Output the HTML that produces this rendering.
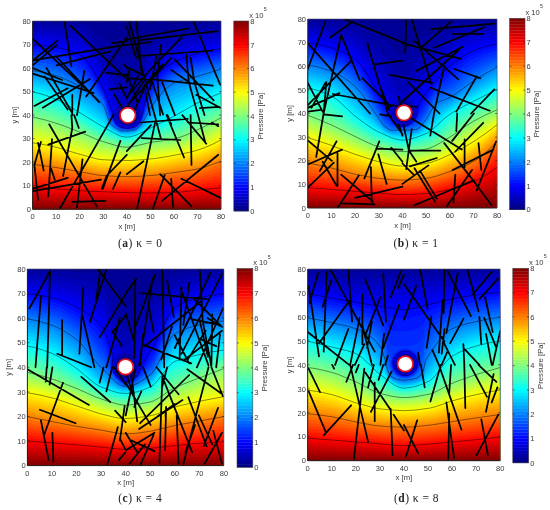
<!DOCTYPE html>
<html><head><meta charset="utf-8"><title>Pressure fields</title>
<style>html,body{margin:0;padding:0;background:#fff}svg{display:block;font-family:"Liberation Sans","DejaVu Sans",sans-serif}</style>
</head><body>
<svg width="550" height="510" viewBox="0 0 550 510">
<rect width="550" height="510" fill="#fff"/>
<clipPath id="c0"><rect x="32.6" y="21" width="188.5" height="188.2"/></clipPath>
<g clip-path="url(#c0)">
<rect x="32.6" y="21" width="188.5" height="188.2" fill="#000087"/>
<path fill="#000097" d="M32.6 209.2h188.5v-188.2h-188.5zM124.5 123.4l-2.2-1.2l-1.2-1.2l-1.5-2.4l-0.4-1.1l-0.3-2.4l0.4-2.4l0.4-1.1l1.3-2.1l1.1-1.2l2.4-1.4l1.2-0.4l2.3-0.2l1.2 0.1l2.4 0.7l2.3 1.7l1.2 1.4l0.8 1.4l0.6 2.3l0.1 1.2v1.2l-0.7 2.3l-0.8 1.5l-1.2 1.5l-1.2 0.9l-1.5 0.8l-2 0.6l-1.2 0.2l-2.3-0.3z"/>
<path fill="#0000a7" d="M32.6 209.2h188.5v-185.5h-8.2l-9.5 0.3l-8.2 0.5l-5.9 0.7l-4.7 0.8l-3.6 1l-3.5 1.2l-3.5 1.5l-11.8 1.8l-4.7 1l-3.6 1l-3.5 1.4l-1.2 0.8l-1.5 1.8l-2.1 3.5l-4.2 8.2l-1.6 3.9l-1.2 2l-1.1 0.4l-2.4 0.1l-4.7 1.3l-3.6 0.3l-2.3-0.3l-3.5-1.3l-3.6-0.7l-1.2-0.6l-3.5-7.7l-2.3-3.3l-1.2-1.4l-2.4-1.8l-7.4-5l-6.7-4.1l-1.2-2l-1.2-1.6l-1.1-1.1l-2.4-1.4l-2.4-0.7l-2.3-0.4l-8.3-0.6l-15.3-0.4l-25.9-0.2zM125.7 124.6l-2.4-0.9l-1.2-0.7l-1.1-1l-1.7-2.2l-0.5-1.2l-0.7-2.3v-2.4l0.2-1.2l0.8-2.3l0.7-1.1l1.2-1.4l1.1-1l1.2-0.8l2.4-0.9l1.1-0.2l2.4 0.1l1.2 0.3l2.3 1l1.2 0.8l1.8 2l0.7 1.2l0.9 2.3l0.2 2.4l-0.1 1.2l-0.6 2.3l-0.6 1.2l-1.8 2.4l-1.5 1.1l-1.3 0.7l-2.4 0.7l-2.4 0.1z"/>
<path fill="#0000b7" d="M32.6 209.2h188.5v-180l-7.1 0.1l-8.2 0.6l-9.4 1.2l-5.9 1.1l-4.7 1.2l-3.6 1.2l-8.2 3.4l-8.3 2.2l-3.5 1.1l-5.9 2.6l-3 1.8l-2.9 2.1l-1.2 1.4l-0.6 1.2l-2 4.7l-3.3 10.4l-3.5 9.7l-1.2 2.4l-1.1 0.6l-2.4 0.5l-3.5 1.2l-2.4 0.4l-2.4 0.2l-1.1-0.1l-2.4-0.5l-2.3-1.1l-3.6-1l-1.2-0.9l-1.1-2.7l-2.6-7.3l-2.8-5.9l-1.7-2.8l-9.6-11.3l-5.7-6l-2-3.4l-1.8-2.4l-2.1-2.2l-2.4-1.7l-2.3-1.1l-2.4-0.6l-4.7-0.8l-5.9-0.7l-7-0.5l-11.8-0.5l-17.7-0.4zM123.3 124.6l-2-1.3l-1.3-1.1l-0.9-1.2l-1.3-2.4l-0.4-1.1l-0.3-2.4l0.1-2.4l0.7-2.3l0.7-1.5l1.2-1.6l1.2-1.2l2.3-1.6l1.2-0.5l2.3-0.5h2.4l2.4 0.7l2.3 1.3l1.2 1l1.3 1.5l1.3 2.4l0.6 2.3l0.2 2.4l-0.4 2.4l-0.4 1.1l-1.2 2.4l-1 1.2l-1.6 1.4l-2.3 1.3l-2.4 0.6h-2.4l-2.3-0.4z"/>
<path fill="#0000c7" d="M32.6 209.2h188.5v-175.4l-7.1 0.3l-8.2 0.9l-9.4 1.5l-7.1 1.6l-7.1 2.3l-8.2 3.5l-9.4 3.4l-3.6 1.6l-3.5 2l-2.6 1.9l-2.7 2.3l-1.8 1.7l-1.2 1.9l-2.1 5.8l-3.8 13.5l-3.5 10.4l-1.2 2.5l-1.1 0.7l-5.9 1.9l-2.4 0.5l-2.4 0.1l-1.9-0.2l-1.6-0.4l-5.9-2.2l-1.2-0.9l-1.1-2.8l-2.4-7.3l-1.6-4l-1.9-4.3l-2.2-4l-8.8-12.9l-5.5-7.2l-3.5-5.5l-2.4-2.8l-1.2-1.1l-2.3-1.8l-2.4-1.2l-3.5-1.1l-4.7-1l-5.9-0.9l-7.1-0.7l-11.8-0.8l-8.2-0.5l-7.1-0.1zM124.5 125.9l-2.4-1l-1.1-0.7l-1.2-1l-1.8-2.2l-1.2-2.4l-0.6-2.3l-0.1-2.4l0.2-2.3l0.7-2.4l1.3-2.3l1.5-1.9l2.3-1.9l1.2-0.7l2.4-0.8l2.3-0.2l2.4 0.4l2.3 0.9l2.4 1.7l1.3 1.3l1.6 2.3l0.9 2.4l0.4 2.3l0.1 2.4l-0.4 2.4l-0.8 2.3l-0.7 1.3l-1.9 2.2l-1.7 1.3l-2.2 1.1l-2.5 0.6l-2.4 0.1z"/>
<path fill="#0000d7" d="M32.6 209.2h188.5v-171.3l-8.2 0.6l-10.7 1.6l-8.2 1.7l-8.2 2.3l-7.1 2.7l-14.1 6.2l-5.6 3.3l-4.3 3.5l-4.3 4.7l-1.2 2.1l-2 6.2l-3.9 14.9l-3.5 10.7l-1.2 2.5l-1.1 0.8l-1.3 0.5l2.4 3.8l1.3 4.4l0.3 2.3v2.4l-0.3 2.4l-0.8 2.3l-0.5 1.2l-1.8 2.3l-1.3 1.2l-1.6 1l-3.5 1.3l-3.6 0.2l-2.3-0.3l-2.7-1l-0.8-0.5l-2.4-2l-1.2-1.5l-1.1-1.9l-0.9-3.5l-0.2-2.4l0.1-2.3l0.9-4.2l1.2-2.3l1.3-1.8l0.3-1.1l-1.6-0.7l-1.2-0.9l-1.1-2.8l-2.4-7.3l-2.8-7.2l-2.1-4.7l-2.5-4.7l-7.1-11.7l-7.9-12l-2.3-3.2l-2.4-2.7l-2.5-2.1l-2.2-1.3l-1.2-0.5l-4.7-1.5l-5.9-1.4l-8.2-1.3l-10.6-1.1l-9.5-0.7l-8.2-0.2z"/>
<path fill="#0000e7" d="M32.6 209.2h188.5v-167.5l-8.2 0.8l-9.5 1.6l-9.4 2.1l-8.2 2.5l-8.3 3.2l-10.6 5.1l-4.8 2.8l-4.6 3.6l-3.6 3.5l-3.5 4.4l-1.2 2.4l-1.1 3.5l-4.8 18.7l-3.2 9.8l0.8 4.7l0.2 3.5l-0.2 2.4l-1.1 3.8l-1.2 2.3l-0.7 0.9l-1.2 1.2l-1.7 1.2l-3.4 1.3l-2.4 0.5h-2.4l-4-0.6l-2.5-1.2l-1.7-1.2l-1.2-1.2l-1.2-1.7l-1.1-2.8l-0.7-3.7v-3.5l0.4-3.6l0.4-1.1l-0.1-0.6l-2.4-7.2l-5.3-13.4l-3.5-7.1l-8.7-15.3l-6-9.2l-2.4-3l-2.4-2.5l-2.3-1.9l-1.2-0.7l-2.4-1.1l-5.8-2l-5.9-1.5l-7.1-1.2l-11.8-1.4l-8.2-0.7l-7.1-0.2z"/>
<path fill="#0000f7" d="M32.6 209.2h188.5v-164l-8.2 1.1l-9.5 1.8l-9.4 2.3l-8.2 2.6l-8.3 3.3l-8.2 4.1l-4.9 2.9l-4.7 3.6l-3.4 3.3l-3.2 3.7l-2.7 3.8l-1.2 2.5l-1.3 4.3l-3.4 14l-2.7 9.5v5.9l-0.8 4.3l-1.2 3.1l-1.2 2.1l-1.1 1.2l-2.4 1.5l-1.5 0.8l-2 0.6l-2.4 0.4l-2.4 0.1l-2.3-0.3l-3.2-0.8l-2.1-1.2l-1.6-1.2l-1.4-1.5l-1.1-2.2l-1.2-3.8l-0.4-3.1v-4.7l-0.3-1.2l-4.8-12.9l-3.5-8.2l-6.8-13l-6.6-11.1l-2.3-3.5l-2.4-3l-3.4-3.5l-2.5-1.9l-4.7-2.2l-5.9-2l-5.9-1.5l-7.1-1.3l-10.6-1.5l-7-0.7l-7.1-0.2z"/>
<path fill="#0008ff" d="M32.6 209.2h188.5v-160.5l-7.1 1l-9.4 2l-10.6 2.7l-7.1 2.3l-5.9 2.3l-7 3.3l-7.1 4.1l-4.7 3.5l-3.5 3.2l-3.6 4l-4.5 6.2l-1.1 2.4l-2.2 7.1l-2.8 12l-1.5 5.6l-0.8 4.9l-1 3.3l-1.4 3.4l-1.2 1.9l-0.6 0.6l-1.4 1.2l-1.9 1.2l-3.7 1.1l-4.2 0.4l-3.1-0.4l-3.5-1.1l-2.8-2l-1.5-1.6l-0.8-1.5l-1.3-3.2l-0.9-3.5l-0.3-2.4l-0.5-1.1l-5.7-15.3l-2.5-5.9l-6.8-12.9l-4.8-8.3l-4.3-6.4l-2.4-2.9l-2.3-2.4l-2.4-1.9l-4.7-2.3l-5.9-2.3l-5.9-1.8l-7.1-1.4l-10.6-1.7l-7-0.8l-7.1-0.3z"/>
<path fill="#0018ff" d="M32.6 209.2h188.5v-157.5l-7.1 1.3l-8.2 1.8l-11.8 3.2l-8.2 2.6l-5.9 2.3l-4.7 2.2l-5.9 3.4l-4.7 3.3l-3.6 3.1l-3.6 3.7l-3.7 4.7l-3.3 5l-1.2 2.6l-1.3 4.2l-6 22.4l-0.8 2.3l-1.1 2.4l-1.4 2.2l-2.3 2l-2.4 1.1l-3.5 1l-3.6 0.2l-3.5-0.4l-2.3-0.7l-2.4-1.3l-2.4-1.9l-1.4-2.2l-1-2.4l-1.1-3.2l-3.5-8.7l-4.1-11.6l-2.3-4.7l-5.9-10.6l-5.4-8.8l-4.7-6.4l-2.4-2.6l-2.3-2.2l-3.6-2.2l-5.8-2.7l-4.8-1.8l-5.8-1.7l-5.9-1.2l-10.6-1.8l-7.1-0.9l-5.9-0.2z"/>
<path fill="#0028ff" d="M32.6 209.2h188.5v-154.8l-7.1 1.4l-9.4 2.3l-13 3.6l-7 2.2l-5.9 2.3l-4.7 2.2l-4.7 2.8l-3.6 2.5l-4.2 3.8l-4 4.3l-3.6 4.6l-3.5 5.4l-1.2 2.5l-1.1 3.5l-5.8 19.7l-1.4 3.5l-2 3.5l-1.4 1.4l-1.2 0.9l-2.4 1.1l-3.5 0.9l-3.6 0.2l-2.3-0.2l-3.5-0.7l-2.4-1.3l-1.5-1.1l-1.2-1.2l-1.5-2.3l-1.2-2.4l-0.5-1.6l-2.3-4.8l-1.2-2.9l-4.1-11.9l-1.8-4.1l-5.9-9.9l-5.9-8.8l-4.7-6l-2.4-2.4l-2.3-2.1l-3.6-2.2l-5.8-2.9l-4.8-1.9l-5.8-1.9l-5.9-1.3l-10.6-2l-7.1-0.9l-5.9-0.3z"/>
<path fill="#0038ff" d="M32.6 209.2h188.5v-152.3l-15.3 3.6l-16.5 4.5l-5.9 1.9l-4.7 1.7l-4.7 2.2l-3.6 2l-3.5 2.5l-4.7 4.1l-3.6 3.9l-3.7 4.7l-4.5 6.8l-1.2 2.4l-1.1 3.3l-5.4 17l-1.5 3.5l-2 3.5l-1.7 1.8l-1.2 0.8l-1.8 0.9l-4.1 1.1l-3.6 0.2l-2.3-0.1l-3.5-0.7l-2.4-1.3l-2.1-1.5l-1-1.2l-2.2-3.5l-3.1-5.9l-1-2.4l-3.9-11.7l-2-4.7l-4.7-7.6l-5.9-8.3l-4.7-5.6l-4.7-4.5l-3.6-2.5l-5.9-3.1l-5.9-2.5l-5.8-2l-5.9-1.5l-10.6-2.1l-7.1-1l-5.9-0.4z"/>
<path fill="#0048ff" d="M32.6 209.2h188.5v-150l-14.1 3.6l-20.1 5.5l-4.7 1.4l-4.7 1.8l-3.5 1.6l-3.6 2l-2.3 1.6l-4.7 4.1l-4.6 4.9l-4.5 5.9l-3.9 5.9l-1.2 2.4l-1.1 3.1l-5.5 15.6l-1.7 3.6l-1.5 2.3l-1.9 2.1l-2.4 1.6l-3.5 1l-2.4 0.4h-2.4l-3.5-0.3l-2.3-0.5l-1.2-0.4l-3.6-2.4l-1.2-1.5l-3.1-4.7l-2-3.5l-0.7-1.7l-4.5-13.6l-1.4-3l-1.2-1.9l-4.7-6.9l-4.7-6l-4.7-5l-4.7-4l-3.6-2.4l-5.9-3.2l-5.9-2.6l-5.8-2.2l-5.9-1.6l-10.6-2.2l-7.1-1.1l-5.9-0.4z"/>
<path fill="#0058ff" d="M32.6 209.2h188.5v-147.6l-38.9 10.5l-4.7 1.7l-3.5 1.5l-2.4 1.3l-2.3 1.5l-3.6 2.9l-4.7 4.7l-4.7 5.8l-4.7 6.8l-2.4 4.1l-6.7 17.4l-1.2 2.4l-2.4 3.5l-1.4 1.3l-2.4 1.6l-3.5 0.9l-4.8 0.4l-3.5-0.2l-3.5-0.8l-3.6-2.4l-1.9-2l-3.4-4.7l-1.7-3.4l-3.6-11.1l-1.1-3.3l-1.2-2.4l-4.7-6.7l-4.7-5.7l-4.7-4.7l-4.8-3.8l-4.7-3.1l-7-3.8l-5.9-2.7l-5.9-2.1l-7.1-1.9l-9.4-2l-5.9-0.9l-5.9-0.5z"/>
<path fill="#0068ff" d="M32.6 209.2h188.5v-145.3l-24.7 7.1l-11.8 2.9l-4.2 1.2l-6.4 2.5l-2.4 1.3l-2.3 1.5l-3.6 3l-4.7 4.9l-4.7 5.9l-4.7 6.8l-2.4 4l-6.3 14.8l-1.2 2.4l-2.4 3.5l-1.8 1.7l-2.4 1.5l-3.5 1l-3.6 0.3l-5.9-0.3l-2.3-0.5l-3.9-2.5l-2.3-2.4l-2.9-3.5l-1.5-2.9l-3.6-11.1l-1.1-3.3l-1.2-2.4l-3.5-4.9l-4.8-5.4l-4.7-4.4l-4.7-3.5l-5.9-3.7l-7-3.9l-5.9-2.8l-5.9-2.2l-5.9-1.8l-9.4-2.1l-7.1-1.2l-5.9-0.6z"/>
<path fill="#0078ff" d="M32.6 209.2h188.5v-142.8l-23.6 7l-12.9 3.1l-4.7 1.4l-5.9 2.2l-3.6 2l-3.5 2.8l-4.7 4.7l-3.5 4.2l-4.8 6.4l-3.5 5.2l-1.2 2.1l-4 8.8l-2.4 4.7l-2.1 3.5l-1 1.2l-2.2 2.2l-2.4 1.5l-2.4 0.7l-4.7 0.5l-7-0.3l-1.2-0.3l-3.6-2.3l-3.7-3.2l-2.1-2.6l-1.2-2.1l-4.7-14.4l-1.2-2.3l-3.5-4.6l-3.6-3.8l-3.5-3.2l-4.7-3.4l-5.9-3.7l-9.4-5.3l-5.9-2.9l-5.9-2.4l-4.7-1.4l-10.6-2.7l-7.1-1.2l-5.9-0.6z"/>
<path fill="#0087ff" d="M32.6 209.2h188.5v-140.2l-24.7 7.7l-13 3.1l-4.1 1.2l-5.3 2l-3.6 2l-3.5 2.8l-3.5 3.5l-3.6 4.1l-4.7 6.1l-4.7 6.6l-7.5 14.1l-2.6 3.5l-2.8 2.8l-2.4 1.5l-1.2 0.3l-5.9 0.8l-7-0.1l-1.2-0.4l-5.8-3.7l-2.5-2.2l-1.1-1.3l-1.2-2.1l-4.7-13.9l-1.2-2.2l-3.5-4.3l-3.6-3.5l-3.5-2.8l-3.5-2.4l-17.7-10.1l-5.9-3l-4.7-1.9l-4.7-1.6l-10.6-2.8l-7.1-1.3l-5.9-0.7z"/>
<path fill="#0097ff" d="M32.6 209.2h188.5v-137.4l-24.7 8l-16.5 4.5l-4.7 1.7l-3.6 1.8l-3.5 2.5l-3.5 3.2l-3.6 3.8l-3.5 4.3l-7.1 9.2l-5.3 9l-2.2 3.5l-1.9 2.6l-3.5 3.2l-2.4 1.5l-3.5 0.7l-4.8 0.3h-5.8l-1.2-0.4l-5.3-3.2l-3.1-2.3l-1.1-1.2l-1.4-2.3l-4.4-12.5l-1.2-2.1l-2.4-2.7l-3.5-3.5l-3.5-2.7l-3.6-2.4l-20-11.4l-4.7-2.4l-4.7-2.1l-5.9-2l-9.4-2.6l-7.1-1.4l-5.9-0.8z"/>
<path fill="#00a7ff" d="M32.6 209.2h188.5v-134.5l-24.7 8.4l-16.5 4.9l-4.7 1.9l-3.6 1.8l-2.3 1.6l-3.6 3l-3.5 3.5l-3.5 3.9l-8.3 9.8l-5 7.5l-2.5 3.5l-2 2.4l-3.4 2.9l-2.4 1.5l-3.5 0.7l-4.8 0.3l-5.8-0.1l-1.2-0.4l-5.9-3.4l-2.4-1.8l-1.1-1.1l-1.5-2.2l-4.4-11.1l-1.2-1.9l-2.4-2.5l-3.5-3.1l-3.5-2.6l-3.6-2.3l-21.2-12.2l-4.7-2.5l-4.7-2l-7.1-2.4l-8.2-2.3l-5.9-1.3l-5.9-0.8z"/>
<path fill="#00b7ff" d="M32.6 209.2h188.5v-131.6l-39.7 14l-5.7 2.3l-4.1 2.1l-2.3 1.6l-3.6 2.9l-7 6.9l-8.3 8.8l-7.5 9.5l-2.3 2.3l-3.1 2.5l-2.4 1.4l-3.5 0.8l-4.8 0.4l-5.8-0.3l-1.2-0.4l-7.1-4l-2.3-2l-1.2-1.5l-1.5-2.7l-3.2-7.3l-1.2-1.7l-2.4-2.3l-3.5-2.8l-4.7-3.3l-22.4-13.3l-8.2-4.4l-3.6-1.5l-3.5-1.3l-11.8-3.5l-5.9-1.2l-4.7-0.8z"/>
<path fill="#00c7ff" d="M32.6 209.2h188.5v-128.5l-14 5l-18.2 7.1l-9 3.7l-7.1 3.5l-2.4 1.4l-3.5 2.6l-7.1 6.1l-9.4 8.6l-7.5 8.2l-1.9 1.8l-4.1 2.9l-1.8 0.9l-3.5 0.9l-4.8 0.4l-4.7-0.2l-2.3-0.6l-7.1-3.9l-2.3-1.9l-1.4-1.5l-4.5-8.1l-1.2-1.5l-2.4-1.9l-4.7-3.5l-4.7-3.1l-24.7-15l-4.7-2.5l-3.6-1.6l-8-2.8l-9.7-2.8l-8.2-1.5z"/>
<path fill="#00d7ff" d="M32.6 209.2h188.5v-125.5l-13 4.8l-13.3 5.4l-10.3 4.7l-10.5 5.4l-5.9 3.7l-5.9 4.3l-13 10.2l-7.7 7l-3.5 2.4l-1.7 1l-2.4 1l-3.5 0.7l-3.6 0.3l-4.7-0.4l-2.3-0.6l-7.1-3.8l-2.3-1.8l-1.2-1.1l-4.7-6.6l-2.4-2.1l-5.9-4.1l-8.2-5.4l-17.7-10.9l-5.9-3.4l-7.1-3.4l-8.2-3l-8.3-2.4l-8.2-1.7z"/>
<path fill="#00e7ff" d="M32.6 209.2h188.5v-122.4l-8.2 3l-8.3 3.3l-8.2 3.6l-7.1 3.4l-15.3 8.3l-5.9 3.6l-17.7 11.6l-9.1 6.8l-3.9 2.3l-2.3 1.2l-2.4 0.7l-3.5 0.7l-2.4 0.1l-2.3-0.1l-3.5-0.6l-2.4-1l-4.7-2.5l-2.4-1.5l-2.2-1.7l-3.7-4l-2.3-2.1l-20-13.1l-15.4-9.4l-5.8-3.3l-5.9-2.7l-9.5-3.4l-7-2.1l-7.1-1.5z"/>
<path fill="#00f7ff" d="M32.6 209.2h188.5v-119.3l-7.1 2.6l-7 2.8l-8.3 3.7l-5.9 2.9l-43.6 24.6l-7 4.4l-4.7 2.6l-2.4 1.1l-3.5 1.1l-2.4 0.4l-2.4 0.2l-2.3-0.2l-3.5-0.7l-2.4-0.9l-4.7-2.5l-4.4-2.8l-5-3.9l-7.1-4.3l-13-8.4l-16.5-10.2l-7-4l-4.7-2.1l-9.6-3.5l-6.9-2.1l-7.1-1.6z"/>
<path fill="#08fff7" d="M32.6 209.2h188.5v-116.2l-11.8 4.6l-12.9 5.9l-5.9 3.2l-14.2 8.2l-9.1 4.9l-9.3 4.7l-9.8 4.6l-10.6 5.4l-3.6 1.4l-2.3 0.7l-2.4 0.5l-2.4 0.1l-2.3-0.1l-2.4-0.5l-2.3-0.8l-4.7-2.2l-16.5-9.3l-15.3-9.6l-14.2-8.7l-4.7-2.7l-4.7-2.5l-5.9-2.5l-8.2-3l-7.1-2.1l-5.9-1.3z"/>
<path fill="#18ffe7" d="M32.6 209.2h188.5v-113.2l-11.8 4.8l-11.8 5.5l-5.9 3.2l-15.3 8.8l-12.7 6.2l-28.5 12l-4.7 1.4l-3.6 0.4l-3.5-0.4l-4.7-1.6l-3.5-1.6l-5.9-3.1l-7.9-3.6l-6.4-3.5l-11.6-7.2l-16.5-9.8l-8.3-4.3l-7.1-2.8l-7-2.5l-5.9-1.8l-5.9-1.3z"/>
<path fill="#28ffd7" d="M32.6 209.2h188.5v-110l-10.6 4.5l-13 6.1l-4.7 2.5l-14.1 8.1l-8.7 4.1l-8.8 3.5l-14.3 5.1l-13 4.9l-3.5 1l-3.6 0.4l-3.5-0.4l-3.5-1.1l-3.6-1.4l-5.8-2.9l-5.9-2.2l-3.6-1.6l-5.6-2.9l-13.2-7.9l-14.2-8l-4.7-2.5l-4.7-2.3l-7.1-2.8l-7-2.5l-5.9-1.7l-5.9-1.4z"/>
<path fill="#38ffc7" d="M32.6 209.2h188.5v-106.9l-10.6 4.8l-13 6.3l-16.5 9l-7 3.4l-9.5 3.4l-17.6 5.5l-14.2 4.9l-3.5 0.8l-2.4 0.1l-3.5-0.4l-3.5-1l-3.6-1.3l-5.8-2.7l-5.9-1.9l-3.6-1.5l-5.9-3l-12.9-7.3l-14.2-7.6l-9.4-4.6l-7.1-2.8l-7-2.4l-5.9-1.7l-5.9-1.4z"/>
<path fill="#48ffb7" d="M32.6 209.2h188.5v-103.8l-24.7 12.1l-15.4 8.1l-5.8 2.6l-9.5 3l-18.8 5.2l-14.2 4.5l-3.5 0.7l-2.4 0.1l-3.5-0.3l-4.7-1.4l-8.2-3.3l-4.8-1.4l-4.7-1.8l-5.9-2.9l-12.9-6.9l-14.2-7.2l-9.4-4.4l-7.1-2.6l-7-2.3l-5.9-1.7l-5.9-1.4z"/>
<path fill="#58ffa7" d="M32.6 209.2h188.5v-100.6l-25.9 12.9l-10.6 5.5l-4.7 2.2l-3.6 1.4l-8.2 2.4l-20 4.7l-15.4 4.5l-3.5 0.7l-2.4 0.1l-3.5-0.3l-4.7-1.2l-8.2-3.1l-8.3-2.7l-6.7-3l-14.5-7.4l-14.1-6.7l-5.9-2.6l-5.9-2.2l-8.3-2.7l-7-2.1l-7.1-1.7z"/>
<path fill="#68ff97" d="M32.6 209.2h188.5v-97.5l-13.3 6.9l-21.5 10.6l-5.2 2.4l-3.6 1.4l-3.5 1.1l-4.7 1.1l-20.1 3.8l-16.5 4.7l-3.5 0.6l-2.4 0.1l-3.5-0.3l-4.7-1.1l-16.5-5.5l-7.1-3l-14.1-6.8l-13-5.8l-7-3l-5.9-2.1l-8.3-2.6l-7-2l-7.1-1.7z"/>
<path fill="#78ff87" d="M32.6 209.2h188.5v-94.5l-9.4 5.2l-9.5 4.7l-17.2 8.1l-7.5 2.9l-3.5 1l-4.7 1l-20.1 3.2l-16.5 4.3l-3.5 0.6l-2.4 0.1l-4.7-0.4l-4.7-1.1l-15.3-5l-7.1-2.8l-14.1-6.5l-20-8.1l-5.9-2.1l-8.3-2.5l-7-1.9l-7.1-1.7z"/>
<path fill="#87ff78" d="M32.6 209.2h188.5v-91.5l-10.2 5.6l-9.4 4.7l-15.6 7.1l-7.2 2.7l-3.5 1l-5.1 1l-19.7 2.6l-4.7 1l-11.8 3l-3.5 0.6l-3.6 0.2l-4.7-0.3l-4.7-1l-15.3-4.6l-5.9-2.1l-15.3-6.7l-20-7.7l-14.2-4.4l-14.1-3.5z"/>
<path fill="#97ff68" d="M32.6 209.2h188.5v-88.6l-9.4 5.3l-9.5 4.7l-15.7 6.8l-7.8 2.8l-3.5 0.9l-5.8 1.1l-20.2 2.4l-15.3 3.4l-3.5 0.5l-3.6 0.2l-4.7-0.3l-4.7-0.8l-4.7-1.2l-11.8-3.3l-7-2.6l-13-5.3l-20-7.4l-14.2-4.2l-14.1-3.4z"/>
<path fill="#a7ff58" d="M32.6 209.2h188.5v-85.8l-9.4 5.3l-9.5 4.6l-14.1 5.9l-8.6 3l-4.3 1.1l-4.8 0.8l-20 2.3l-4.7 0.8l-11.8 2.4l-3.5 0.4l-3.6 0.2l-4.7-0.3l-4.7-0.7l-16.5-3.8l-5.9-1.9l-14.1-5.5l-21.2-7.6l-14.1-4l-13-2.9z"/>
<path fill="#b7ff48" d="M32.6 209.2h188.5v-83l-9.7 5.4l-9.8 4.7l-12 4.7l-9.7 3.1l-4.7 1.2l-7.1 1.2l-18.9 2.1l-16.5 2.8l-5.9 0.4l-4.7-0.2l-5.9-0.8l-16.4-3.4l-5.9-1.8l-11.8-4.4l-23.6-8.1l-12.9-3.5l-13-2.8z"/>
<path fill="#c7ff38" d="M32.6 209.2h188.5v-80.3l-9.4 5.2l-9.6 4.5l-11.6 4.3l-10.6 3.2l-5.9 1.4l-8.3 1.3l-17.6 2l-14.2 2.2l-7.1 0.4l-4.7-0.1l-5.9-0.7l-16.4-2.7l-7.1-2.1l-27.1-9.4l-7.1-2.3l-12.9-3.3l-13-2.7z"/>
<path fill="#d7ff28" d="M32.6 209.2h188.5v-77.5l-9.4 5.1l-9.5 4.3l-10.6 3.7l-10.6 3l-8.2 1.8l-11.8 1.8l-25.9 3.2l-8.3 0.5l-5.8-0.2l-5.9-0.5l-11.8-1.4l-4.7-0.9l-7.1-2l-33-10.9l-14.1-3.5l-11.8-2.3z"/>
<path fill="#e7ff18" d="M32.6 209.2h188.5v-74.8l-10.2 5.4l-8.7 3.8l-8.2 2.8l-10.6 2.9l-10.6 2.2l-14.1 2.3l-21.5 2.5l-9.2 0.6l-5.9-0.1l-7-0.4l-11.8-1.1l-4.7-0.7l-7.1-1.9l-15.3-4.8l-13-4.4l-5.9-1.7l-12.9-3l-11.8-2.2z"/>
<path fill="#f7ff08" d="M32.6 209.2h188.5v-72.1l-9.4 4.9l-8.3 3.7l-8.2 2.7l-9.4 2.5l-16.5 3.2l-13 2.1l-17.7 1.9l-10.6 0.6l-7-0.1l-8.3-0.4l-10.6-0.7l-3.5-0.5l-7.5-1.9l-33.8-10.4l-12.9-2.9l-11.8-2z"/>
<path fill="#fff700" d="M32.6 209.2h188.5v-69.4l-8.2 4.3l-8.3 3.6l-7.1 2.5l-9.4 2.4l-21.2 4l-10.6 1.7l-15.3 1.5l-11.8 0.7l-9.4-0.1l-10.6-0.4l-7.1-0.3l-4.7-0.7l-5.9-1.4l-14.1-4l-14.2-4.5l-5.9-1.6l-12.9-2.8l-11.8-1.9z"/>
<path fill="#ffe700" d="M32.6 209.2h188.5v-66.7l-8.6 4.4l-7.9 3.3l-7.1 2.4l-8.2 2l-24.7 4.5l-9.5 1.5l-14.1 1.2l-11.8 0.6l-21.2-0.4l-5.9-0.2l-4.7-0.7l-5.9-1.3l-14.1-3.8l-14.2-4.3l-5.9-1.5l-12.9-2.7l-11.8-1.9z"/>
<path fill="#ffd700" d="M32.6 209.2h188.5v-64.1l-8.3 4.1l-8.2 3.4l-5.9 2l-8.2 2l-27.1 4.8l-8.3 1.3l-12.9 1.1l-11.8 0.5l-21.2-0.2l-7.1-0.3l-4.7-0.6l-5.9-1.3l-14.1-3.6l-14.2-4l-5.9-1.6l-12.9-2.5l-11.8-1.8z"/>
<path fill="#ffc700" d="M32.6 209.2h188.5v-61.5l-8.2 4l-7.1 2.9l-7.1 2.3l-7.1 1.7l-28.2 4.9l-8.3 1.2l-12.9 1.1l-11.8 0.5h-10.6l-10.6-0.2l-7.1-0.3l-4.7-0.6l-5.9-1.2l-14.1-3.5l-20.1-5.2l-12.9-2.5l-11.8-1.8z"/>
<path fill="#ffb700" d="M32.6 209.2h188.5v-58.9l-8.2 3.9l-7.1 2.8l-7.1 2.2l-7.1 1.6l-29.4 5l-7.1 1l-12.9 1.1l-11.8 0.5l-17.7-0.2l-9.4-0.4l-4.7-0.5l-8.5-1.6l-13.9-3.3l-18.9-4.7l-12.9-2.4l-11.8-1.7z"/>
<path fill="#ffa700" d="M32.6 209.2h188.5v-56.3l-8.2 3.7l-7.1 2.8l-7.1 2.1l-7.1 1.6l-29.4 4.8l-7.1 1l-12.9 1l-11.8 0.6l-16.5-0.2l-10.6-0.6l-4.7-0.5l-9.4-1.7l-31.9-7.3l-12.9-2.3l-11.8-1.7z"/>
<path fill="#ff9700" d="M32.6 209.2h188.5v-53.6l-8.2 3.6l-7.1 2.6l-7.1 2.1l-7.1 1.5l-29.4 4.6l-7.1 1l-14.1 1.1l-11.8 0.5l-15.3-0.3l-10.6-0.6l-4.7-0.5l-8.3-1.5l-33-7.1l-12.9-2.1l-11.8-1.7z"/>
<path fill="#ff8700" d="M32.6 209.2h188.5v-50.9l-8.2 3.5l-7.1 2.5l-7.1 2l-7.1 1.4l-28.2 4.3l-8.3 1.1l-15.3 1.1l-10.6 0.5l-14.1-0.3l-11.8-0.8l-4.7-0.5l-8.3-1.3l-33-6.7l-12.9-2l-11.8-1.6z"/>
<path fill="#ff7800" d="M32.6 209.2h188.5v-48l-8.2 3.3l-7.1 2.3l-7.1 1.9l-7.1 1.4l-28.2 4.1l-8.3 1l-15.3 1.1l-10.6 0.4l-14.1-0.3l-16.5-1.3l-9.4-1.5l-31.9-5.9l-12.9-2l-11.8-1.5z"/>
<path fill="#ff6800" d="M32.6 209.2h188.5v-44.9l-8.2 3l-8.3 2.5l-7.1 1.7l-8.2 1.5l-33 4.3l-14.1 0.9l-11.8 0.5l-14.2-0.3l-17.6-1.2l-21.2-3.4l-20.1-3.5l-24.7-3.3z"/>
<path fill="#ff5800" d="M32.6 209.2h188.5v-41.6l-9.4 3l-8.3 2.3l-7 1.4l-9.5 1.6l-10.6 1.4l-20 2.2l-13 0.8l-12.9 0.4h-7.1l-8.2-0.4l-11.8-0.7l-5.9-0.5l-20-2.9l-21.2-3.4l-23.6-3z"/>
<path fill="#ff4800" d="M32.6 209.2h188.5v-38.2l-10.4 2.9l-8.5 2l-9.4 1.7l-10.6 1.5l-15.3 1.7l-11.8 1.1l-11.8 0.5l-11.7 0.3l-15.4-0.3l-18.8-1.3l-20-2.5l-21.2-3.1l-23.6-2.8z"/>
<path fill="#ff3800" d="M32.6 209.2h188.5v-34.7l-10.6 2.5l-8.3 1.7l-14.1 2.3l-9.4 1.2l-23.6 1.9l-21.2 0.6l-16.5-0.3l-20-1.2l-18.9-2l-22.3-3l-23.6-2.6z"/>
<path fill="#ff2800" d="M32.6 209.2h188.5v-31.2l-18.9 3.4l-23.5 3.5l-22.4 1.4l-18.8 0.4l-18.9-0.3l-22.4-1.2l-18.8-1.8l-21.2-2.5l-23.6-2.4z"/>
<path fill="#ff1800" d="M32.6 209.2h188.5v-27.8l-36.5 5.3l-7.1 0.9l-18.8 0.9l-16.5 0.2l-22.4-0.3l-24.8-1.2l-18.8-1.5l-43.6-4.3z"/>
<path fill="#ff0800" d="M32.6 209.2h188.5v-24.5l-24.7 2.9l-13 1.8l-5.9 0.6l-16.5 0.7l-15.3 0.1l-25.9-0.4l-28.3-1.2l-16.5-1.2l-42.4-3.8z"/>
<path fill="#f70000" d="M32.6 209.2h188.5v-21.4l-23.6 2.2l-20 2.4l-12.9 0.4l-16.5 0.2l-29.5-0.6l-31.8-1.3l-13-0.7l-41.2-3.3z"/>
<path fill="#e70000" d="M32.6 209.2h188.5v-18.5l-23.6 1.8l-20 2.2l-10.6 0.3l-16.5 0.1l-31.8-0.7l-35.3-1.2l-11.8-0.6l-38.9-2.7z"/>
<path fill="#d70000" d="M32.6 209.2h188.5v-15.6l-23.6 1.4l-20 1.9l-25.9 0.2l-33-0.6l-37.7-1.1l-48.3-2.7z"/>
<path fill="#c70000" d="M32.6 209.2h188.5v-12.9l-23.6 1.1l-20 1.6l-23.6 0.2l-74.2-1.5l-47.1-2.3z"/>
<path fill="#b70000" d="M32.6 209.2h188.5v-10.2l-23.6 0.8l-20 1.4l-20 0.1l-79-1.3l-45.9-1.8z"/>
<path fill="#a70000" d="M32.6 209.2h188.5v-7.6l-23.6 0.6l-20 1l-17.7 0.1l-81.3-1l-45.9-1.3z"/>
<path fill="#970000" d="M32.6 209.2h188.5v-5l-23.6 0.4l-20 0.6l-15.3 0.1l-84.8-0.7l-44.8-0.9z"/>
<path fill="#870000" d="M32.6 209.2h188.5v-2.5l-57.7 0.6l-86-0.4l-44.8-0.4z"/>
<path fill="none" stroke="#000" stroke-opacity=".6" stroke-width=".75" d="M221.1 48.7l-7.1 1l-9.4 2l-10.6 2.7l-7.1 2.3l-5.9 2.3l-7 3.3l-7.1 4.1l-4.7 3.5l-3.5 3.2l-3.6 4l-4.5 6.2l-1.1 2.4l-2.2 7.1l-4.3 17.6l-0.8 4.9l-1 3.3l-1.4 3.4l-1.8 2.5l-3.3 2.4l-3.7 1.1l-4.2 0.4l-3.1-0.4l-3.5-1.1l-2.8-2l-1.5-1.6l-2.1-4.7l-1.7-7l-5.7-15.3l-2.5-5.9l-6.8-12.9l-4.8-8.3l-4.3-6.4l-4.7-5.3l-2.4-1.9l-4.7-2.3l-5.9-2.3l-5.9-1.8l-7.1-1.4l-10.6-1.7l-7-0.8l-7.1-0.3M221.1 69l-24.7 7.7l-17.1 4.3l-5.3 2l-3.6 2l-3.5 2.8l-3.5 3.5l-8.3 10.2l-4.7 6.6l-7.5 14.1l-2.6 3.5l-2.8 2.8l-2.4 1.5l-7.1 1.1l-7-0.1l-1.2-0.4l-5.8-3.7l-2.5-2.2l-1.1-1.3l-1.2-2.1l-4.7-13.9l-1.2-2.2l-3.5-4.3l-3.6-3.5l-7-5.2l-17.7-10.1l-10.6-4.9l-4.7-1.6l-10.6-2.8l-7.1-1.3l-5.9-0.7M221.1 93l-11.8 4.6l-12.9 5.9l-20.1 11.4l-9.1 4.9l-29.7 14.7l-5.9 2.1l-4.8 0.6l-4.7-0.6l-2.3-0.8l-4.7-2.2l-16.5-9.3l-29.5-18.3l-9.4-5.2l-14.1-5.5l-7.1-2.1l-5.9-1.3M221.1 117.7l-10.2 5.6l-9.4 4.7l-15.6 7.1l-7.2 2.7l-8.6 2l-19.7 2.6l-16.5 4l-7.1 0.8l-4.7-0.3l-4.7-1l-15.3-4.6l-5.9-2.1l-15.3-6.7l-20-7.7l-14.2-4.4l-14.1-3.5M221.1 139.8l-8.2 4.3l-8.3 3.6l-7.1 2.5l-9.4 2.4l-21.2 4l-10.6 1.7l-15.3 1.5l-11.8 0.7l-20-0.5l-7.1-0.3l-4.7-0.7l-20-5.4l-20.1-6.1l-12.9-2.8l-11.8-1.9M221.1 161.2l-15.3 5.6l-7.1 1.9l-7.1 1.4l-36.5 5.1l-15.3 1.1l-10.6 0.4l-14.1-0.3l-16.5-1.3l-41.3-7.4l-24.7-3.5M221.1 187.8l-23.6 2.2l-20 2.4l-29.4 0.6l-29.5-0.6l-31.8-1.3l-54.2-4"/>
<path fill="none" stroke="#000" stroke-width="1.75" stroke-linecap="round" d="M64.4 21.0L71.4 66.2M70.5 25.6L125.0 77.3M32.6 60.3L126.8 44.6M56.6 65.3L110.2 51.4M32.6 38.5L88.0 91.1M56.6 57.0L99.1 102.2M32.6 60.7L57.5 40.4M32.6 65.3L56.6 45.0M32.6 68.0L62.2 80.0M32.6 73.6L93.6 93.0M46.5 68.0L72.3 113.3M84.3 70.8L77.0 115.1M42.8 107.7L89.9 79.1M34.4 105.9L67.7 88.3M72.3 94.8L72.3 115.1M126.8 37.6L86.2 96.6M112.1 43.1L126.8 41.3M105.6 72.7L126.8 75.4M109.3 89.3L126.8 87.4M113.9 93.9L123.2 109.6M124.1 64.4L126.8 68.0M44.6 76.4L67.7 109.6M119.5 83.7L126.8 98.5M126.8 39.5L188.8 28.4M126.8 45.0L150.9 42.2M137.9 40.4L217.4 31.1M137.9 56.1L212.8 50.5M193.4 21.0L220.2 84.7M129.1 21.0L149.0 94.8M149.0 94.8L154.6 115.1M136.1 21.0L141.6 72.7M126.8 26.5L136.1 57.9M181.7 37.2L150.9 69.0M150.9 69.0L128.7 94.8M161.0 45.0L157.3 76.4M157.3 76.4L160.1 115.1M156.4 56.1L150.0 89.3M171.2 57.9L130.5 102.2M186.0 52.4L188.8 81.9M188.8 81.9L198.0 115.1M190.6 57.9L194.3 81.9M194.3 81.9L204.5 115.1M174.9 59.7L213.7 100.3M171.2 69.9L189.7 82.8M150.9 79.1L212.8 85.6M126.8 78.2L150.9 80.0M162.0 81.9L174.9 115.1M145.3 91.1L150.0 115.1M196.2 94.8L220.2 107.7M199.8 108.1L219.3 106.8M126.8 67.1L145.3 76.4M129.6 69.0L126.8 81.9M126.8 98.5L137.9 76.4M132.4 115.1L147.2 81.9M152.2 81.7L163.1 114.5M143.1 81.7L127.4 106.4M126.8 74.1L137.2 101.6M162.5 64.4L143.1 87.1M71.4 115.1L72.3 128.0M74.2 115.1L78.8 128.0M49.2 124.3L96.9 206.4M48.3 144.6L85.3 131.7M72.3 128.0L63.1 176.0M52.0 139.1L48.3 196.3M40.9 141.9L34.4 164.9M34.4 164.9L38.1 200.0M38.1 142.8L43.7 170.5M32.6 188.9L67.7 177.8M32.6 191.1L101.0 179.7M113.4 115.1L60.0 208.3M82.5 159.4L77.0 207.4M120.4 140.9L102.8 188.9M126.8 154.8L106.5 176.0M106.5 176.0L101.9 188.9M120.4 172.3L113.0 188.9M72.3 201.8L105.6 200.9M51.1 168.6L54.8 179.7M155.5 120.6L137.0 209.2M154.6 115.1L161.0 139.1M140.7 122.5L187.8 118.8M187.8 122.5L218.3 124.3M150.9 125.2L126.8 151.1M141.6 138.2L180.4 140.0M166.6 115.1L184.1 157.5M190.6 115.1L191.5 164.9M182.3 115.1L206.3 143.7M198.0 115.1L205.4 142.8M143.5 161.2L126.8 174.1M218.3 154.8L162.0 200.9M160.1 174.1L191.5 206.4M164.7 175.1L152.7 209.2M171.2 178.8L173.1 207.4M181.4 178.8L221.1 198.1M167.5 115.1L171.2 124.3M211.9 122.5L218.3 126.2"/>
<circle cx="127.8" cy="115.3" r="7.7" fill="#fff" stroke="#e8101c" stroke-width="1.7"/>
</g>
<path d="M32.6 21V209.2H221.1" fill="none" stroke="#222" stroke-width="1"/>
<path d="M32.6 21H221.1V209.2" fill="none" stroke="#555" stroke-width=".6"/>
<path d="M56.2 209.2v-2M56.2 21.0v2M32.6 185.7h2M221.1 185.7h-2M79.7 209.2v-2M79.7 21.0v2M32.6 162.1h2M221.1 162.1h-2M103.3 209.2v-2M103.3 21.0v2M32.6 138.6h2M221.1 138.6h-2M126.8 209.2v-2M126.8 21.0v2M32.6 115.1h2M221.1 115.1h-2M150.4 209.2v-2M150.4 21.0v2M32.6 91.6h2M221.1 91.6h-2M174.0 209.2v-2M174.0 21.0v2M32.6 68.1h2M221.1 68.1h-2M197.5 209.2v-2M197.5 21.0v2M32.6 44.5h2M221.1 44.5h-2" stroke="#222" stroke-width=".6" fill="none"/>
<g font-size="7.5" fill="#3a3a3a">
<text x="32.6" y="219.2" text-anchor="middle">0</text>
<text x="30.8" y="211.9" text-anchor="end">0</text>
<text x="56.2" y="219.2" text-anchor="middle">10</text>
<text x="30.8" y="188.4" text-anchor="end">10</text>
<text x="79.7" y="219.2" text-anchor="middle">20</text>
<text x="30.8" y="164.8" text-anchor="end">20</text>
<text x="103.3" y="219.2" text-anchor="middle">30</text>
<text x="30.8" y="141.3" text-anchor="end">30</text>
<text x="126.8" y="219.2" text-anchor="middle">40</text>
<text x="30.8" y="117.8" text-anchor="end">40</text>
<text x="150.4" y="219.2" text-anchor="middle">50</text>
<text x="30.8" y="94.3" text-anchor="end">50</text>
<text x="174.0" y="219.2" text-anchor="middle">60</text>
<text x="30.8" y="70.8" text-anchor="end">60</text>
<text x="197.5" y="219.2" text-anchor="middle">70</text>
<text x="30.8" y="47.2" text-anchor="end">70</text>
<text x="221.1" y="219.2" text-anchor="middle">80</text>
<text x="30.8" y="23.7" text-anchor="end">80</text>
<text x="126.8" y="228.7" text-anchor="middle" font-size="7.7">x [m]</text>
<text transform="translate(16.6 115.1) rotate(-90)" text-anchor="middle" font-size="7.7">y [m]</text>
<rect x="233.8" y="208.03" width="15" height="3.27" fill="#000087"/>
<rect x="233.8" y="205.06" width="15" height="3.27" fill="#000097"/>
<rect x="233.8" y="202.09" width="15" height="3.27" fill="#0000a7"/>
<rect x="233.8" y="199.12" width="15" height="3.27" fill="#0000b7"/>
<rect x="233.8" y="196.16" width="15" height="3.27" fill="#0000c7"/>
<rect x="233.8" y="193.19" width="15" height="3.27" fill="#0000d7"/>
<rect x="233.8" y="190.22" width="15" height="3.27" fill="#0000e7"/>
<rect x="233.8" y="187.25" width="15" height="3.27" fill="#0000f7"/>
<rect x="233.8" y="184.28" width="15" height="3.27" fill="#0008ff"/>
<rect x="233.8" y="181.31" width="15" height="3.27" fill="#0018ff"/>
<rect x="233.8" y="178.34" width="15" height="3.27" fill="#0028ff"/>
<rect x="233.8" y="175.38" width="15" height="3.27" fill="#0038ff"/>
<rect x="233.8" y="172.41" width="15" height="3.27" fill="#0048ff"/>
<rect x="233.8" y="169.44" width="15" height="3.27" fill="#0058ff"/>
<rect x="233.8" y="166.47" width="15" height="3.27" fill="#0068ff"/>
<rect x="233.8" y="163.50" width="15" height="3.27" fill="#0078ff"/>
<rect x="233.8" y="160.53" width="15" height="3.27" fill="#0087ff"/>
<rect x="233.8" y="157.56" width="15" height="3.27" fill="#0097ff"/>
<rect x="233.8" y="154.59" width="15" height="3.27" fill="#00a7ff"/>
<rect x="233.8" y="151.62" width="15" height="3.27" fill="#00b7ff"/>
<rect x="233.8" y="148.66" width="15" height="3.27" fill="#00c7ff"/>
<rect x="233.8" y="145.69" width="15" height="3.27" fill="#00d7ff"/>
<rect x="233.8" y="142.72" width="15" height="3.27" fill="#00e7ff"/>
<rect x="233.8" y="139.75" width="15" height="3.27" fill="#00f7ff"/>
<rect x="233.8" y="136.78" width="15" height="3.27" fill="#08fff7"/>
<rect x="233.8" y="133.81" width="15" height="3.27" fill="#18ffe7"/>
<rect x="233.8" y="130.84" width="15" height="3.27" fill="#28ffd7"/>
<rect x="233.8" y="127.88" width="15" height="3.27" fill="#38ffc7"/>
<rect x="233.8" y="124.91" width="15" height="3.27" fill="#48ffb7"/>
<rect x="233.8" y="121.94" width="15" height="3.27" fill="#58ffa7"/>
<rect x="233.8" y="118.97" width="15" height="3.27" fill="#68ff97"/>
<rect x="233.8" y="116.00" width="15" height="3.27" fill="#78ff87"/>
<rect x="233.8" y="113.03" width="15" height="3.27" fill="#87ff78"/>
<rect x="233.8" y="110.06" width="15" height="3.27" fill="#97ff68"/>
<rect x="233.8" y="107.09" width="15" height="3.27" fill="#a7ff58"/>
<rect x="233.8" y="104.12" width="15" height="3.27" fill="#b7ff48"/>
<rect x="233.8" y="101.16" width="15" height="3.27" fill="#c7ff38"/>
<rect x="233.8" y="98.19" width="15" height="3.27" fill="#d7ff28"/>
<rect x="233.8" y="95.22" width="15" height="3.27" fill="#e7ff18"/>
<rect x="233.8" y="92.25" width="15" height="3.27" fill="#f7ff08"/>
<rect x="233.8" y="89.28" width="15" height="3.27" fill="#fff700"/>
<rect x="233.8" y="86.31" width="15" height="3.27" fill="#ffe700"/>
<rect x="233.8" y="83.34" width="15" height="3.27" fill="#ffd700"/>
<rect x="233.8" y="80.38" width="15" height="3.27" fill="#ffc700"/>
<rect x="233.8" y="77.41" width="15" height="3.27" fill="#ffb700"/>
<rect x="233.8" y="74.44" width="15" height="3.27" fill="#ffa700"/>
<rect x="233.8" y="71.47" width="15" height="3.27" fill="#ff9700"/>
<rect x="233.8" y="68.50" width="15" height="3.27" fill="#ff8700"/>
<rect x="233.8" y="65.53" width="15" height="3.27" fill="#ff7800"/>
<rect x="233.8" y="62.56" width="15" height="3.27" fill="#ff6800"/>
<rect x="233.8" y="59.59" width="15" height="3.27" fill="#ff5800"/>
<rect x="233.8" y="56.62" width="15" height="3.27" fill="#ff4800"/>
<rect x="233.8" y="53.66" width="15" height="3.27" fill="#ff3800"/>
<rect x="233.8" y="50.69" width="15" height="3.27" fill="#ff2800"/>
<rect x="233.8" y="47.72" width="15" height="3.27" fill="#ff1800"/>
<rect x="233.8" y="44.75" width="15" height="3.27" fill="#ff0800"/>
<rect x="233.8" y="41.78" width="15" height="3.27" fill="#f70000"/>
<rect x="233.8" y="38.81" width="15" height="3.27" fill="#e70000"/>
<rect x="233.8" y="35.84" width="15" height="3.27" fill="#d70000"/>
<rect x="233.8" y="32.88" width="15" height="3.27" fill="#c70000"/>
<rect x="233.8" y="29.91" width="15" height="3.27" fill="#b70000"/>
<rect x="233.8" y="26.94" width="15" height="3.27" fill="#a70000"/>
<rect x="233.8" y="23.97" width="15" height="3.27" fill="#970000"/>
<rect x="233.8" y="21.00" width="15" height="3.27" fill="#870000"/>
<rect x="233.8" y="21" width="15" height="190" fill="none" stroke="#444" stroke-width=".6"/>
<path d="M233.8 187.2h1.8M248.8 187.2h-1.8M233.8 163.5h1.8M248.8 163.5h-1.8M233.8 139.8h1.8M248.8 139.8h-1.8M233.8 116.0h1.8M248.8 116.0h-1.8M233.8 92.2h1.8M248.8 92.2h-1.8M233.8 68.5h1.8M248.8 68.5h-1.8M233.8 44.8h1.8M248.8 44.8h-1.8" stroke="#222" stroke-width=".6" fill="none"/>
<text x="250.3" y="213.7">0</text>
<text x="250.3" y="189.9">1</text>
<text x="250.3" y="166.2">2</text>
<text x="250.3" y="142.4">3</text>
<text x="250.3" y="118.7">4</text>
<text x="250.3" y="95.0">5</text>
<text x="250.3" y="71.2">6</text>
<text x="250.3" y="47.5">7</text>
<text x="250.3" y="23.7">8</text>
<text x="249.2" y="17.8" font-size="7.6">x 10<tspan dy="-6.8" dx="0.2" font-size="5.3">5</tspan></text>
<text transform="translate(262.8 116.0) rotate(-90)" text-anchor="middle" font-size="7.7">Pressure [Pa]</text>
</g>
<text x="140.2" y="246.6" text-anchor="middle" font-family="'Liberation Serif','DejaVu Serif',serif" font-size="11.5" letter-spacing=".5" fill="#222">(<tspan font-weight="bold">a</tspan>) κ = 0</text>
<clipPath id="c1"><rect x="307.8" y="19" width="189.3" height="189"/></clipPath>
<g clip-path="url(#c1)">
<rect x="307.8" y="19" width="189.3" height="189" fill="#000087"/>
<path fill="#000097" d="M307.8 208h189.3v-189h-189.3zM401.3 121l-1.1-0.4l-1.8-1.2l-1.2-1.2l-0.8-1.2l-0.6-1.1l-0.5-2.4l0.1-2.1l0.3-1.4l0.8-1.9l1.2-1.6l1.2-1.1l1.2-0.7l1.2-0.5l2.3-0.4h1.2l2.4 0.6l1.2 0.7l1.7 1.3l1 1.2l0.8 1.5l0.6 2l0.1 1.2l-0.2 2.4l-0.3 1.2l-1.4 2.3l-1.1 1.2l-2.4 1.4l-1.2 0.4l-1.2 0.2l-2.3-0.1z"/>
<path fill="#0000a7" d="M307.8 208h189.3v-187.1l-15.4 0.2l-16.5 0.7l-9.5 1.1l-5.9 1.4l-2.4 1l-1.2 0.8l-1.3 1.2l-2.2 2.6l-1.2 0.9l-7.1 2.6l-9.5 2.8l-2.3 1l-2.4 1.4l-2.4 1.7l-2.5 2.3l-9.3 11.1l-1.2 1l-1.2 0.7l-1.1 0.2l-1.2-0.2l-1.2-0.6l-1.2-1l-2.4-2.6l-5.9-7.3l-2.6-2.5l-3.3-2.5l-3.5-2l-15.4-6.7l-1.5-1.7l-2.1-1.9l-2.3-1.5l-2.4-1l-2.4-0.6l-3.5-0.5l-10.7-1l-17.7-0.8l-15.4-0.4zM402.5 122l-2.4-0.7l-1.2-0.6l-1.2-1l-1.3-1.5l-0.8-1.2l-0.8-2.3l-0.2-1.2v-2.4l0.6-2.3l0.6-1.2l1.9-2.4l1.2-1l2.4-1.1l2.3-0.4h1.2l2.4 0.7l1.2 0.6l1.1 0.8l1.7 1.6l0.8 1.2l1 2.4l0.3 2.3v1.2l-0.6 2.4l-0.5 1.1l-1.5 2.1l-1.2 1.1l-1.1 0.8l-2.4 0.9l-1.2 0.2z"/>
<path fill="#0000b7" d="M307.8 208h189.3v-182.6h-5.9l-7.1 0.4l-9.5 1l-5.9 0.8l-4.7 1l-4.8 1.2l-4.7 1.8l-3.5 1.7l-3.6 2.4l-2.4 2.3l-2.3 2.8l-1.2 1l-7.1 4.8l-8.3 4.5l-2.4 1.7l-1.8 1.6l-2.9 3.2l-2.1 2.7l-7.4 12.2l-2.3 3.4l-2.4 2.4l-1.2 0.6l-1.1 0.3l-1.2-0.3l-1.2-0.6l-2.4-2.4l-2.3-3.3l-6.2-9.9l-2.6-3.5l-3.1-3.8l-2.3-2.2l-6-4.6l-9.4-7.7l-2.4-2.9l-2.4-2.4l-3.5-2.6l-2.4-1.1l-4.7-1.6l-4.7-1.1l-6-1.1l-8.2-1.2l-9.5-1l-14.2-0.8zM400.1 122.1l-2.4-1.4l-1.2-1.2l-1.7-2.5l-0.4-1.1l-0.6-2.4v-2.4l0.5-2.3l1.1-2.3l0.9-1.3l1.4-1.5l1.2-0.9l1.2-0.7l2.4-0.7h2.3l1.2 0.3l1.2 0.4l2.3 1.4l1.2 1l1.5 1.9l0.9 1.7l0.6 1.9l0.3 2.3l-0.3 2.4l-0.8 2.3l-1 1.6l-1.9 2l-1.6 1.1l-1.2 0.6l-2.4 0.5h-2.3z"/>
<path fill="#0000c7" d="M307.8 208h189.3v-178.4l-5.9 0.1l-7.1 0.7l-9.7 1.6l-5.7 1.2l-4.7 1.4l-4.8 1.9l-4.7 2.3l-4.4 2.6l-2.7 2.1l-2.4 2.4l-2.3 2.7l-7.1 6.2l-8.3 6.1l-3.6 3.1l-2.8 3.4l-3.1 4.4l-7.1 12.7l-2.3 3.7l-2.4 2.9l-1.2 1l-1.2 0.6l-1.1 0.3l-1.2-0.2l-1.2-0.7l-1.2-0.9l-2.4-2.8l-2.3-3.7l-6.6-11.4l-2.9-4.4l-2.4-3.2l-7.1-7.1l-9.4-10.1l-2.4-3l-2.4-2.6l-3.5-3.1l-2.4-1.3l-5.9-2.5l-4.7-1.4l-5.9-1.5l-7.1-1.4l-9.5-1.4l-7.1-0.8l-7.1-0.5zM401.3 123.3l-2.4-1l-1.2-0.7l-1.2-1l-1.8-2.4l-0.6-1.2l-0.8-2.3l-0.3-2.4l0.2-2.3l0.6-2.4l1.2-2.4l1.5-2.1l1.2-1.1l1.2-0.9l2.4-1.1l1.2-0.3l2.3 0.1l1.2 0.3l2.4 1.1l2.3 1.9l1.2 1.3l1.3 2l1 2.4l0.4 2.3v2.4l-0.6 2.4l-1.1 2.3l-2 2.4l-1.4 1.1l-2.2 1.3l-1.3 0.3l-2.4 0.3z"/>
<path fill="#0000d7" d="M307.8 208h189.3v-174.5l-4.7 0.2l-4.8 0.5l-5.9 1.1l-7.1 1.5l-3.5 1l-4.1 1.3l-4.2 1.7l-3.6 1.7l-5.9 3.5l-4.7 3.3l-2.4 2.2l-3.5 3.8l-8.3 8.2l-8.3 7.3l-3.3 3.7l-3.2 4.7l-2.8 4.8l-4.9 9.2l-3.7 6.1l1.3 0.8l2.4 2.6l1.7 2.5l1 2.4l0.6 2.4l0.2 2.3l-0.4 2.4l-0.8 2.3l-1.1 1.9l-1.2 1.5l-2.4 2l-1.1 0.7l-2.4 1l-2.4 0.2l-2.3-0.2l-1.2-0.4l-1.6-0.7l-1.7-1.2l-2.2-2.4l-0.7-1.2l-1.1-2.3l-0.6-3.6l0.3-3.5l0.7-2.4l1-2l1.2-1.8l1.6-2.1l-0.2-1.2l-2.6-3.9l-7.9-13.8l-4-6.3l-7.1-8.4l-12.6-16l-2.7-3l-3.6-2.9l-3.5-2l-6-2.5l-5.9-2l-7.1-1.9l-10.6-2l-8.3-1.2l-7.1-0.6z"/>
<path fill="#0000e7" d="M307.8 208h189.3v-170.8l-5.9 0.5l-7.1 1.3l-9.5 2.5l-5.9 2l-5.9 2.7l-5.9 3.5l-6.9 4.7l-3.8 3.3l-11.8 12.6l-8.3 8.5l-2.4 2.9l-2.3 3.4l-3.5 6l-5.1 9.4l-0.1 1.2l1.6 2.7l0.8 2l0.9 3.6l-0.1 3.5l-1.1 3.5l-1.4 2.4l-1 1.2l-2.7 2.4l-2.5 1.3l-2.4 0.8h-1.2l-2.3-0.2l-2.4-0.9l-1.7-1l-1.5-1.2l-1.9-2.4l-0.8-1.3l-0.9-2.2l-0.7-3.6l0.2-3.5l0.9-3.6l0.6-1.2l-0.1-1.5l-8.3-14.9l-3-4.8l-6.5-8.4l-11.8-16.6l-2.4-2.9l-2.3-2.5l-3.6-2.8l-4.7-2.7l-5.9-2.6l-5.9-2.1l-6-1.7l-10.6-2.3l-7.1-1.2l-7.1-0.7z"/>
<path fill="#0000f7" d="M307.8 208h189.3v-167.3l-5.9 0.8l-5.9 1.3l-8.3 2.4l-7.1 2.6l-4.7 2.3l-6 3.5l-6.2 4.4l-5.6 4.5l-3.5 3.5l-3.6 3.8l-14.2 16.4l-2.4 3.1l-3.3 5.3l-4.9 9.1l-0.1 0.3l1.2 4.8l0.1 3.5l-0.8 3.6l-1.1 2.3l-0.8 1.2l-2.1 2.4l-3.3 2.3l-2.6 1.3l-2.4 0.4h-1.1l-2.4-0.5l-2.4-1.2l-2.8-2.3l-1.9-2.4l-1.3-2.4l-1-3.5l-0.1-2.4l0.2-3.5l-0.2-1.3l-6.4-11.7l-3-5l-6-8.3l-10.6-16.2l-3.6-4.8l-3.5-3.8l-3.6-2.7l-5.9-3.4l-4.7-2.2l-5.9-2.3l-5.9-1.7l-10.7-2.6l-7.1-1.2l-5.9-0.6z"/>
<path fill="#0008ff" d="M307.8 208h189.3v-163.8l-5.9 0.9l-5.9 1.6l-8.3 2.8l-7.1 2.9l-4.7 2.6l-4.8 3l-5.9 4.3l-5.9 4.8l-4.7 4.5l-5.7 6.5l-11.4 14.1l-3.1 4.2l-5.9 10.3l-0.3 2.1l-0.1 3.5l-0.5 2.4l-0.9 2.3l-1.7 2.9l-1.7 1.9l-3.1 2.3l-3.5 1.7l-2.4 0.5l-1.1 0.1l-3.6-1l-2.1-1.3l-1.5-1.1l-2.3-2.6l-1.4-2.2l-1.5-3.5l-0.7-3.2l-7.4-13.4l-6.8-10.3l-11.1-18l-4.2-5.8l-3.6-3.7l-4.7-3.3l-4.8-2.8l-5.9-2.9l-4.7-1.9l-5.9-1.8l-9.5-2.5l-7.1-1.4l-5.9-0.6z"/>
<path fill="#0018ff" d="M307.8 208h189.3v-160.6l-5.9 1.3l-5.9 1.7l-7.1 2.8l-7.1 3.1l-4.8 2.7l-4.7 3.1l-5.9 4.5l-7.1 5.7l-7.1 6.6l-5.9 6.6l-10.1 13.8l-2.4 3.6l-4.1 7l-2.3 7.1l-1.2 2.2l-1.1 1.4l-2.4 2.4l-3.6 2.2l-3.6 1.4l-2.3 0.3l-1.2-0.2l-2.4-0.8l-2.4-1.3l-1.9-1.6l-2.2-2.4l-6.7-10.6l-5.5-9.5l-5-7.7l-10.2-17.1l-5-7.1l-3.7-4l-4.7-3.6l-4.8-3l-5.9-3.1l-4.7-2l-8.3-2.6l-8.3-2.2l-5.9-1.2l-5.9-0.7z"/>
<path fill="#0028ff" d="M307.8 208h189.3v-157.5l-5.9 1.5l-5.9 2.1l-7.1 3l-7.1 3.5l-3.6 2.1l-4.7 3.3l-17.8 13.7l-3.5 3l-3.6 3.4l-2.3 2.5l-1.9 2.5l-10 14.8l-4.7 7.8l-0.4 1l-0.8 0.9l-0.4 1.4l-0.7 1.2l-1.6 2.4l-2.4 2.4l-3.6 2.3l-4.3 1.7l-2.3 0.3l-1.2-0.1l-2.4-0.7l-2.4-1.3l-4.1-3.4l-3.3-3.6l-5.6-8l-3.5-6.2l-16.6-26.9l-4.7-6.4l-3.6-3.5l-4.7-3.5l-4.7-3l-4.8-2.5l-5.9-2.6l-8.3-2.7l-7.1-1.9l-5.9-1.2l-5.9-0.7z"/>
<path fill="#0038ff" d="M307.8 208h189.3v-154.6l-5.9 1.8l-5.9 2.4l-7.1 3.3l-7.1 3.8l-5.9 3.9l-13.1 10l-11.8 8.4l-3.5 3.1l-2.4 2.7l-14.2 22.3l-2.3 3.1l-1.3 1.3l-0.6 1.1l-2.9 2.7l-3.6 2.3l-3.5 1.5l-2.4 0.6l-1.1 0.1l-1.3-0.1l-2.3-0.6l-3.6-1.8l-4.7-3.3l-3.5-3.8l-3.6-4.7l-4-7.1l-16.1-26l-4.7-6.3l-3.6-3.6l-4.7-3.6l-4.7-3.1l-4.8-2.6l-5.9-2.6l-7.1-2.4l-8.3-2.4l-5.9-1.2l-5.9-0.7z"/>
<path fill="#0048ff" d="M307.8 208h189.3v-151.8l-5.9 2.2l-5.9 2.6l-5.9 3l-7.1 3.9l-6 4l-14.3 10.9l-3.4 2.2l-5.9 3.4l-3.6 2.4l-2.3 2l-2.4 2.5l-2.6 4l-4.5 7.8l-7.1 10.8l-2.4 2.9l-1.2 1l-4.7 3.1l-1.2 0.5l-1.2 0.8l-3.5 1.4l-2.4 0.5l-1.1 0.1l-2.4-0.3l-2.4-0.7l-5.9-2.6l-1.2-0.8l-2.3-2l-3.4-3.6l-1.4-1.8l-4.4-7.6l-12.1-19.8l-3.6-5.5l-3.5-4.8l-2.4-2.8l-2.4-2.2l-2.3-1.9l-4.8-3.5l-4.7-2.9l-4.7-2.5l-4.8-2l-8.3-2.7l-7.1-2l-5.9-1.1l-4.7-0.5z"/>
<path fill="#0058ff" d="M307.8 208h189.3v-149.1l-4.7 2l-6.4 3l-12.6 7l-5.9 3.9l-10.6 8.3l-4.8 3.4l-3.5 2.1l-7.1 3.5l-3.6 2.3l-2.3 1.9l-1.2 1.5l-2.4 3.7l-4.7 8.4l-6.4 9.5l-1.8 2.4l-1.1 1.2l-1.8 1.1l-7.8 3.3l-3.6 1l-2.3 0.2l-2.4-0.2l-2.4-0.5l-5.9-1.9l-1.2-0.5l-2.3-1.7l-3.6-3.4l-2.4-3.4l-2.3-4.2l-13-20.9l-4.8-7l-2.3-3.1l-2.4-2.8l-2.4-2.2l-4.3-3.5l-4-2.8l-4.7-2.9l-3.5-1.9l-4.8-2l-8.3-2.8l-7.1-2l-5.9-1.2l-4.7-0.5z"/>
<path fill="#0068ff" d="M307.8 208h189.3v-146.4l-10.6 5.3l-10.7 6l-7.1 4.7l-11.4 8.7l-5.2 3.6l-3.5 2.1l-8.3 3.6l-3.5 2.2l-1.2 1l-2.4 3.2l-4.7 8.6l-2.4 3.8l-5.9 8.3l-2.4 2.4l-1.2 0.7l-8.2 2.4l-3.6 0.7l-2.3 0.2l-4.8-0.5l-5.9-1.2l-1.2-0.4l-2.3-1.4l-3.6-3l-1.2-1.4l-1.2-1.8l-2.3-4l-11.9-18.7l-5.9-8.8l-3.5-4.5l-2.4-2.5l-7.1-5.7l-4.4-3l-3.9-2.4l-4.7-2.4l-3.6-1.4l-8.2-2.8l-6-1.6l-5.9-1.2l-4.7-0.5z"/>
<path fill="#0078ff" d="M307.8 208h189.3v-143.6l-11.8 6.2l-11.9 7.1l-4.7 3.2l-11.8 9.1l-5.1 3.4l-4.4 2.3l-7.1 2.7l-3.5 2l-1.2 0.9l-2.4 3.2l-4.7 8.7l-2.4 3.7l-5.3 7.2l-1.8 2l-1.2 1l-1.2 0.5l-4.7 0.9l-5.9 0.9l-3.5 0.2l-10.7-0.8l-1.2-0.3l-2.3-1.2l-3.6-2.7l-1.2-1.2l-1.2-1.7l-2.3-3.9l-13-20l-6-8.3l-3.5-4.2l-2.4-2.2l-4.6-3.9l-3.7-2.7l-4.7-3.1l-3.5-2l-3.6-1.7l-3.5-1.4l-7.1-2.4l-6-1.6l-5.9-1.2l-4.7-0.5z"/>
<path fill="#0087ff" d="M307.8 208h189.3v-140.8l-11.8 6.5l-11.9 7.2l-4.7 3.2l-10.7 8.1l-5.9 4l-3.5 1.9l-9.5 3.7l-2.3 1.3l-1.2 0.9l-2.4 3.2l-4.7 8.6l-1.5 2.4l-5.6 7.3l-2.1 2.2l-1.5 1.2l-1.2 0.4l-1.1 0.2l-6 0.5l-5.9 0.2h-11.8l-1.2-0.2l-2.5-1.1l-3.4-2.4l-1.2-1.1l-16.5-24.5l-4.8-6.6l-3.5-4.3l-2.4-2.5l-7.1-5.9l-4.7-3.5l-3.6-2.2l-4.6-2.6l-3.7-1.6l-8.2-2.9l-6-1.7l-5.9-1.3l-4.7-0.5z"/>
<path fill="#0097ff" d="M307.8 208h189.3v-138l-11.8 6.6l-11.9 7.2l-4.7 3.2l-12 8.8l-4.6 3l-3.5 1.9l-9.5 4l-2.9 1.7l-1.8 1.9l-1.2 1.7l-4.7 8.2l-1.6 2.4l-6 7.1l-1.9 1.7l-1.2 0.8l-1.2 0.4l-4.7 0.5l-20.1 0.2l-1.2-0.1l-2.3-1l-3.6-2.3l-1.2-1l-9-12.2l-8.7-12.3l-5.9-7.5l-4.8-4.8l-8.9-7.3l-4.1-2.9l-3.5-2.2l-3.6-1.9l-3.5-1.5l-7.1-2.6l-6-1.8l-5.9-1.2l-4.7-0.6z"/>
<path fill="#00a7ff" d="M307.8 208h189.3v-135.2l-11.8 6.6l-11.9 7.1l-4.7 3.1l-12.2 8.5l-4.4 2.8l-3.5 2l-8.3 3.9l-3.5 2.1l-1.2 0.9l-1.2 1.4l-5.9 9.2l-1.9 2.6l-5.6 5.9l-1.4 1.1l-1.7 1.2l-1.3 0.5l-4.7 0.5l-9.4-0.1l-8.3 0.3l-2.4-0.1l-2.4-0.6l-3.1-1.7l-2.8-2l-9-11l-11.1-14.2l-4.7-5.4l-2.4-2.4l-5.9-5.1l-8.3-6.6l-3.5-2.4l-3.6-2l-3.5-1.6l-6-2.3l-4.7-1.5l-4.7-1.3l-4.8-0.9l-3.5-0.4z"/>
<path fill="#00b7ff" d="M307.8 208h189.3v-132.3l-11.8 6.5l-10.7 6.2l-5.9 3.6l-15.4 10.1l-11.8 6.7l-3.8 2.3l-2.1 1.7l-1.2 1.3l-5.4 7.7l-1.8 2.3l-4.9 4.8l-3.3 2.6l-2.4 1.1l-4.7 0.7l-3.5 0.1l-5.9-0.2l-7.1 0.3l-3.6-0.3l-2.4-0.6l-2.6-1.4l-3.3-2.1l-8.9-9.7l-11.2-13l-4.7-5.2l-2.4-2.2l-10.4-9.1l-3.8-3.1l-3.5-2.6l-3.6-2.2l-2.4-1.2l-10.6-4.1l-7.1-2l-3.6-0.6l-3.5-0.4z"/>
<path fill="#00c7ff" d="M307.8 208h189.3v-129.5l-13 7l-11.8 6.7l-28.8 17.8l-3.6 2.3l-3.1 2.4l-2.4 2.2l-5.6 7.2l-1.5 1.7l-5 4.2l-3.3 2.4l-2.4 1.1l-5.9 0.9l-13 0.2l-3.5-0.2l-3.6-0.6l-3.2-1.4l-3.9-2.4l-8.7-8.2l-12.6-13.2l-4.7-4.6l-14.5-12.9l-3.3-2.7l-3.5-2.5l-4.7-2.6l-10.7-4.1l-7.1-1.9l-5.9-0.8z"/>
<path fill="#00d7ff" d="M307.8 208h189.3v-126.8l-13 6.9l-13 7.2l-10.7 6.2l-13.7 8.5l-5 3.5l-6.1 5.1l-6.1 6.7l-2.4 2.4l-4.8 3.5l-3.3 2.1l-2.4 1l-5.9 1.2l-3.5 0.4h-8.3l-4.7-0.5l-3.6-0.8l-3.5-1.6l-3.6-2l-11.1-9.2l-12.5-11.9l-7.1-6.2l-10.7-9.9l-3.5-3l-3.6-2.5l-2.4-1.3l-3.5-1.6l-9.5-3.6l-5.9-1.6l-5.9-0.8z"/>
<path fill="#00e7ff" d="M307.8 208h189.3v-124l-14.2 7.3l-15.4 8.3l-9.4 5.3l-8.3 5.1l-5.1 3.5l-4.3 3.5l-4.8 4.4l-5.1 5.1l-2.6 2.4l-6.5 4l-3.6 1.9l-4.7 1.4l-4.7 0.8l-5.9 0.3l-6-0.4l-4.7-1l-4.7-2l-4.7-2.7l-6.8-4.7l-6-4.7l-16.8-14.4l-13.1-12.2l-3.5-2.8l-2.4-1.6l-7-3.3l-7.2-2.8l-5.9-1.6l-5.9-0.8z"/>
<path fill="#00f7ff" d="M307.8 208h189.3v-121.3l-14.2 7.1l-18.9 10l-7.1 3.9l-5.9 3.5l-3.4 2.3l-3 2.4l-14.2 13l-1.9 1.4l-2.4 1.4l-7.1 3.5l-3.5 1.4l-3.6 1l-3.5 0.7l-5.9 0.5l-2.4-0.1l-3.6-0.6l-5.9-1.7l-7.1-3.4l-9.1-5.3l-6.6-4.7l-13.9-11.1l-3.5-3.1l-10.7-10.2l-3.5-2.9l-3.6-2.3l-7.6-3.5l-6.6-2.5l-5.9-1.6l-4.7-0.6z"/>
<path fill="#08fff7" d="M307.8 208h189.3v-118.6l-14.2 7l-19.5 10l-6.6 3.6l-5.8 3.5l-3.5 2.4l-2.5 2l-11.8 11l-3 2.3l-2.9 1.8l-9.5 3.9l-5.9 1.9l-4.7 1l-4.7 0.4l-4.8-0.5l-5.9-1.8l-5.9-2.5l-8.3-3.9l-4.7-2.6l-7.1-4.8l-11.9-8.9l-3.5-3.1l-11.8-11.2l-3.6-2.7l-2.4-1.5l-7.1-3.3l-7.1-2.8l-5.9-1.6l-4.7-0.7z"/>
<path fill="#18ffe7" d="M307.8 208h189.3v-115.9l-20.1 9.8l-15.5 8.1l-8.4 4.7l-5.7 3.8l-3.5 3.1l-9.1 8.4l-3.1 2.4l-3.2 2l-3.9 1.5l-12.7 4.2l-4.7 1.1l-4.7 0.3l-2.4-0.1l-2.4-0.4l-4.7-1.4l-15.4-6.3l-3.5-1.7l-3.6-2l-4.9-3.1l-11.7-8.3l-4.1-3.5l-10.1-9.3l-3.5-2.9l-2.4-1.6l-2.3-1.3l-4.8-2.3l-7.1-2.9l-5.9-1.8l-5.9-1.1z"/>
<path fill="#28ffd7" d="M307.8 208h189.3v-113.2l-9.5 4.4l-10.6 5.3l-14.9 7.8l-8.3 4.7l-6.4 4.3l-11.8 10.5l-3.6 2.7l-2.3 1.4l-3.6 1.4l-14.2 4.3l-4.7 0.9l-4.7 0.4l-3.6-0.3l-4.7-1.2l-10.7-4.1l-5.9-2.1l-4.7-2.1l-7.2-4.2l-11.8-7.9l-4.9-4l-10.4-9.1l-4.8-3.4l-7.1-3.5l-7.1-3l-5.9-1.9l-5.9-1.2z"/>
<path fill="#38ffc7" d="M307.8 208h189.3v-110.5l-9.5 4.2l-10.6 5.2l-10.1 5.4l-10.2 5.9l-8.1 5.2l-3.6 2.8l-9.4 8.1l-3.6 2.4l-2.3 1.3l-3.6 1.3l-15.4 4l-4.7 0.8l-3.5 0.2l-3.6-0.3l-4.7-1.1l-10.7-3.9l-5.9-1.9l-4.7-2l-7-3.9l-12-7.6l-4.1-3l-11.2-9l-3.6-2.5l-2.4-1.4l-7.6-3.7l-6.6-2.6l-5.9-2l-4.7-1.1z"/>
<path fill="#48ffb7" d="M307.8 208h189.3v-107.8l-7.1 2.9l-8.3 3.9l-8.3 4.3l-7.1 4l-17.7 11.1l-12 9.5l-3.4 2.3l-2.4 1.3l-2.3 1l-2.4 0.8l-8.3 1.8l-5.9 1.5l-4.7 0.8l-4.7 0.3l-3.6-0.3l-4.7-1l-10.7-3.7l-5.9-1.7l-4.7-2l-6.6-3.4l-12.4-7.4l-4.7-3.2l-10.6-7.8l-6-3.7l-7.1-3.3l-7.1-3l-5.9-2l-4.7-1.3z"/>
<path fill="#58ffa7" d="M307.8 208h189.3v-105.3l-5.9 2.4l-7.1 3.2l-8 4l-6.2 3.5l-21.3 13.7l-13 9.5l-4.8 2.6l-2.3 1l-2.4 0.7l-13 2.7l-4.7 0.7l-4.8 0.4l-4.7-0.2l-4.7-1l-16.6-5l-3.6-1.4l-7.2-3.6l-12.9-7.2l-15.3-10l-6-3.4l-7.1-3.3l-7.1-3l-5.9-2.1l-4.7-1.5z"/>
<path fill="#68ff97" d="M307.8 208h189.3v-102.8l-5.9 2.3l-5.9 2.7l-6.7 3.3l-6.5 3.5l-5.8 3.6l-27.9 18.9l-3.9 2.4l-2.5 1.3l-3.5 1.4l-4.8 1.1l-11.8 2.1l-4.7 0.6l-3.6 0.2l-4.7-0.2l-4.7-0.9l-15.4-4.4l-4.7-1.7l-6.7-3.1l-13.5-7.2l-15.3-9l-6-3.1l-14.2-6.3l-10.6-3.8z"/>
<path fill="#78ff87" d="M307.8 208h189.3v-100.4l-5.9 2.3l-5.9 2.7l-6.5 3.3l-6.5 3.5l-5.5 3.6l-14.7 10.1l-13.8 8.8l-6.3 3.3l-4.7 1.7l-5.9 1.1l-9.5 1.5l-8.3 0.6l-4.7-0.2l-5.9-1l-14.2-3.9l-4.7-1.6l-8.4-3.9l-33.1-17.1l-13-5.7l-11.8-4.5z"/>
<path fill="#87ff78" d="M307.8 208h189.3v-98.2l-5.9 2.5l-5.9 2.7l-11.9 6.3l-5.9 3.7l-15.4 10.8l-13 7.8l-5.9 3.1l-4.7 1.8l-4.8 1l-10.6 1.5l-8.3 0.6l-5.9-0.1l-5.9-0.9l-8.3-2.1l-7.1-2l-3.5-1.2l-7.9-3.4l-33.6-16.4l-13-5.6l-11.8-4.6z"/>
<path fill="#97ff68" d="M307.8 208h189.3v-96.1l-11.1 5.1l-12.6 6.8l-5.9 3.8l-10.1 7.2l-5.3 3.4l-12.2 7.2l-5.5 2.8l-4.7 1.9l-3.6 0.8l-10.6 1.6l-9.5 0.8h-5.9l-3.6-0.4l-3.5-0.6l-8.3-2l-7.1-1.9l-3.5-1.2l-7.2-3l-34.3-15.8l-11.8-5l-13-5.1z"/>
<path fill="#a7ff58" d="M307.8 208h189.3v-94.2l-11.2 5.6l-12.5 7l-4.7 2.9l-11.2 7.8l-5.4 3.5l-11.8 6.6l-5.8 2.9l-4.8 1.8l-3.6 0.9l-10.6 1.5l-9.5 0.7h-5.9l-7.1-0.9l-8.3-2l-10.6-3l-8.3-3.4l-34.3-15.2l-11.9-4.8l-11.8-4.6z"/>
<path fill="#b7ff48" d="M307.8 208h189.3v-92.4l-11.3 6.2l-13.5 7.8l-14.8 9.9l-5.4 3.3l-11.3 6.1l-4.7 2.4l-4.1 1.7l-4.7 1.3l-10.7 1.6l-9.4 0.8l-7.1 0.1l-5.9-0.7l-7.1-1.6l-13-3.6l-8.3-3.1l-35.5-15.3l-22.5-8.6z"/>
<path fill="#c7ff38" d="M307.8 208h189.3v-90.6l-24.8 14.8l-17.8 11.4l-12.2 6.5l-5.5 2.8l-4.8 1.9l-4.7 1.3l-10.7 1.6l-9.4 0.9h-7.1l-5.9-0.7l-7.1-1.6l-13-3.5l-7.1-2.6l-14.2-5.8l-23.7-9.9l-21.3-7.9z"/>
<path fill="#d7ff28" d="M307.8 208h189.3v-88.9l-40.2 25.3l-5.9 3.3l-13.1 6.5l-5.9 2.4l-4.7 1.3l-10.7 1.7l-9.4 0.8l-7.1 0.1l-5.9-0.7l-7.1-1.6l-13-3.6l-7.1-2.4l-14.2-5.6l-23.7-9.6l-21.3-7.8z"/>
<path fill="#e7ff18" d="M307.8 208h189.3v-87.1l-16.6 11.2l-19.4 12.1l-9 5l-13 6.3l-5.9 2.5l-5.9 1.7l-10.7 1.7l-9.4 0.9l-7.1 0.1l-5.9-0.8l-5.9-1.3l-14.2-3.8l-7.1-2.4l-13.1-4.8l-24.8-9.9l-21.3-7.5z"/>
<path fill="#f7ff08" d="M307.8 208h189.3v-85.3l-8.3 6.1l-7.1 5l-14.6 9.2l-6.7 4l-5.8 3.1l-13.1 6.3l-7.1 3l-5.9 1.8l-11.9 2l-9.4 1l-5.9 0.1l-5.9-0.6l-7.1-1.5l-14.2-3.7l-7.1-2.3l-13.1-4.7l-25-9.6l-21.1-7.2z"/>
<path fill="#fff700" d="M307.8 208h189.3v-83.4l-10.6 8.2l-10.7 7.4l-12.6 7.6l-6.3 3.4l-5 2.5l-13.2 5.9l-4.3 1.7l-3.6 1.1l-3.5 0.9l-7.1 1.2l-5.9 0.8l-5.9 0.6l-7.1 0.2l-5.9-0.6l-6-1.2l-15.3-3.8l-8.3-2.6l-11.9-4l-25.8-9.7l-20.3-6.6z"/>
<path fill="#ffe700" d="M307.8 208h189.3v-81.4l-10.6 8.6l-10.7 7.5l-11.8 7.1l-10.7 5.4l-14.2 6.2l-4.7 1.8l-3.6 1.1l-3.5 0.8l-7.1 1.2l-5.9 0.8l-5.9 0.6l-7.1 0.2l-5.9-0.6l-6-1.1l-15.3-3.7l-8.3-2.4l-10.7-3.4l-23.6-8.6l-11.9-3.9l-11.8-3.6z"/>
<path fill="#ffd700" d="M307.8 208h189.3v-79.5l-10.6 9l-9.5 6.9l-4.7 3l-6 3.5l-10.6 5.4l-15.4 6.6l-8.3 2.9l-3.5 0.9l-4.8 0.9l-8.2 1.2l-6 0.6l-8.2 0.2l-5.9-0.5l-7.1-1.3l-15.4-3.4l-7.1-2l-11.9-3.6l-22.4-7.9l-11.9-3.8l-11.8-3.4z"/>
<path fill="#ffc700" d="M307.8 208h189.3v-77.5l-9.5 8.3l-4.7 3.8l-4.7 3.5l-4.8 3.1l-4.7 2.8l-10.2 5.2l-6.4 2.8l-10.6 4.4l-4.7 1.8l-4.8 1.5l-5.9 1.3l-8.3 1.3l-7.1 0.7l-8.2 0.4l-6-0.3l-7.1-1.1l-16.5-3.4l-8.3-2.1l-10.7-3.1l-22.4-7.7l-11.9-3.6l-11.8-3.3z"/>
<path fill="#ffb700" d="M307.8 208h189.3v-75.6l-9.5 8.7l-8.2 6.6l-3.6 2.5l-4.7 2.9l-9.5 5l-7.1 3.1l-10.6 4.3l-6 2.2l-4.7 1.6l-3.5 0.9l-3.6 0.7l-14.2 1.8l-8.3 0.5l-7.1-0.3l-8.2-1.2l-15.4-2.8l-8.3-2l-10.7-2.9l-22.4-7.4l-11.9-3.4l-11.8-3.2z"/>
<path fill="#ffa700" d="M307.8 208h189.3v-73.5l-8.3 7.9l-8.3 6.9l-7.1 4.9l-4.7 2.7l-4.7 2.4l-5.9 2.6l-5.8 2.4l-12 4.6l-5.9 2l-7.1 1.7l-13 1.7l-9.5 0.6l-7.1-0.2l-8.8-1l-16-2.6l-8.3-1.8l-10.7-2.7l-22.4-7.1l-11.9-3.3l-11.8-3z"/>
<path fill="#ff9700" d="M307.8 208h189.3v-71.4l-8.3 8.2l-4.7 4.2l-3.6 2.8l-3.5 2.6l-3.6 2.3l-7.6 4.1l-5.4 2.4l-5.9 2.4l-13 4.8l-5.9 2l-4.8 1.3l-3.5 0.7l-11.8 1.5l-9.5 0.7l-8.3-0.1l-9.4-0.9l-15.4-2.3l-8.3-1.6l-10.7-2.5l-22.4-6.9l-11.9-3l-11.8-2.9z"/>
<path fill="#ff8700" d="M307.8 208h189.3v-69.2l-8.3 8.4l-7.1 6.2l-3.5 2.7l-3.6 2.4l-7.1 3.8l-5.9 2.7l-5.9 2.4l-18.9 6.6l-4.8 1.4l-3.5 0.7l-10.7 1.4l-10.6 0.8l-8.3 0.1l-9.5-0.8l-16.5-2.1l-9.4-1.8l-10.6-2.3l-21.4-6.2l-11.9-2.9l-11.8-2.7z"/>
<path fill="#ff7800" d="M307.8 208h189.3v-66.7l-8.3 8.5l-7.1 6.2l-5.9 4.2l-7.1 4l-5.4 2.5l-6 2.3l-19.4 6.7l-8.2 2.1l-8.3 1.1l-11.9 1.1l-9.4 0.2l-9.5-0.6l-16.5-1.8l-9.5-1.6l-10.7-2.2l-22.4-6l-11.9-2.8l-11.8-2.4z"/>
<path fill="#ff6800" d="M307.8 208h189.3v-64l-7.1 7.3l-7.1 6.3l-5.9 4.4l-3.6 2.1l-3.5 1.9l-4.7 2.2l-6 2.4l-17.7 6l-9.5 2.6l-7.1 1.2l-13 1.2l-10.6 0.4l-9.5-0.5l-16.6-1.6l-9.4-1.4l-11.9-2.2l-22.4-5.6l-23.7-4.8z"/>
<path fill="#ff5800" d="M307.8 208h189.3v-61.2l-7.1 7.1l-7.1 6.3l-5.9 4.2l-6 3.4l-4.7 2.2l-4.7 2l-10.6 3.7l-15.4 4.6l-4.8 1.1l-4.7 0.7l-13 1.3l-10.6 0.4l-9.5-0.3l-16.6-1.6l-9.4-1.2l-13.1-2.2l-22.4-5l-23.7-4.4z"/>
<path fill="#ff4800" d="M307.8 208h189.3v-58.3l-7.6 7.5l-6.6 5.5l-5.9 4.2l-5.9 3.3l-8.3 3.6l-10.7 3.7l-15.3 4.5l-4.8 1.1l-4.7 0.8l-14.2 1.4l-10.6 0.4l-9.5-0.4l-15.4-1.4l-10.6-1.2l-13.1-2l-22.4-4.4l-23.7-3.9z"/>
<path fill="#ff3800" d="M307.8 208h189.3v-55.2l-7.1 6.8l-7.1 5.8l-5.9 4l-7.1 3.7l-9.5 3.9l-9.4 3.1l-14.2 4l-4.8 1l-4.7 0.7l-11.8 1.1l-9.5 0.5h-7.1l-9.5-0.6l-16.5-1.5l-14.2-1.8l-8.3-1.2l-18.9-3.3l-23.7-3.5z"/>
<path fill="#ff2800" d="M307.8 208h189.3v-51.9l-7.1 6.4l-7.1 5.5l-5.9 3.9l-7.1 3.6l-9.5 3.8l-9.4 3.1l-14.2 3.7l-4.8 1l-4.7 0.7l-11.8 1l-8.3 0.4l-7.1 0.1l-8.3-0.5l-17.7-1.5l-11.9-1.4l-11.8-1.5l-20.1-2.9l-22.5-2.8z"/>
<path fill="#ff1800" d="M307.8 208h189.3v-48.4l-7 5.9l-7.2 5.3l-5.9 3.7l-7.1 3.4l-8.3 3.4l-9.5 3l-14.2 3.6l-9.4 1.6l-10.7 1l-9.4 0.5l-7.1 0.1l-7.1-0.3l-28.4-2.5l-58-6.5z"/>
<path fill="#ff0800" d="M307.8 208h189.3v-44.7l-8.3 6.4l-7.1 4.8l-5.9 3.3l-7.1 3.2l-8.3 3.1l-9.4 2.8l-13.1 3l-9.4 1.6l-10.7 0.8l-8.3 0.5l-7 0.1l-7.1-0.2l-27.3-2.3l-60.3-5.7z"/>
<path fill="#f70000" d="M307.8 208h189.3v-40.8l-7.4 5.4l-7.5 4.7l-6.4 3.3l-7.1 3l-8.3 3l-8.3 2.3l-13 2.8l-9.4 1.5l-19 1.3l-8.2 0.2l-6-0.2l-88.7-6.9z"/>
<path fill="#e70000" d="M307.8 208h189.3v-36.6l-8.3 5.4l-7.1 4l-5.9 2.8l-8.1 3.1l-8.5 2.7l-8.1 2.1l-12 2.3l-9.4 1.3l-17.8 1.1l-8.3 0.2l-5.9-0.1l-89.9-5.9z"/>
<path fill="#d70000" d="M307.8 208h189.3v-32.3l-8.3 4.8l-7.1 3.6l-7.1 3l-7.1 2.5l-8.3 2.4l-7.1 1.6l-13 2.2l-9.4 1.2l-17.8 0.9l-14.2 0.1l-41.4-2.4l-48.5-2.5z"/>
<path fill="#c70000" d="M307.8 208h189.3v-27.9l-8.3 4.3l-7.1 3.2l-5.9 2.3l-8.3 2.5l-8.3 2.1l-7.1 1.4l-11.8 1.8l-9.5 1l-17.7 0.9l-14.2 0.1l-41.4-2l-49.7-2z"/>
<path fill="#b70000" d="M307.8 208h189.3v-23.3l-8.3 3.7l-7.1 2.8l-5.9 1.9l-8.3 2.2l-8.3 1.8l-7.1 1.2l-10.6 1.3l-9.5 0.9l-17.7 0.8l-15.4 0.1l-40.2-1.6l-50.9-1.5z"/>
<path fill="#a70000" d="M307.8 208h189.3v-18.3l-7.1 2.6l-7.1 2.3l-7.1 1.9l-7.1 1.6l-8.3 1.5l-7.1 1l-10.6 1l-9.5 0.7l-18.9 0.7l-15.4 0.1l-39-1.2l-52.1-1.1z"/>
<path fill="#970000" d="M307.8 208h189.3v-13l-10.6 2.9l-10.7 2.2l-13 1.9l-13 1.3l-20.1 1.1l-27.2 0.4l-43.8-0.9l-50.9-0.7z"/>
<path fill="#870000" d="M307.8 208h189.3v-7l-10.6 1.6l-10.7 1.3l-13 1.1l-11.8 0.6l-21.3 0.6l-27.2 0.2l-94.7-0.8z"/>
<path fill="none" stroke="#000" stroke-opacity=".6" stroke-width=".75" d="M497.1 44.2l-5.9 0.9l-5.9 1.6l-8.3 2.8l-7.1 2.9l-4.7 2.6l-4.8 3l-11.8 9.1l-4.7 4.5l-5.7 6.5l-14.5 18.3l-5.9 10.3l-0.9 8l-0.9 2.3l-1.7 2.9l-1.7 1.9l-3.1 2.3l-3.5 1.7l-3.5 0.6l-3.6-1l-2.1-1.3l-1.5-1.1l-2.3-2.6l-1.4-2.2l-1.5-3.5l-0.7-3.2l-7.4-13.4l-6.8-10.3l-11.1-18l-4.2-5.8l-3.6-3.7l-4.7-3.3l-4.8-2.8l-5.9-2.9l-4.7-1.9l-15.4-4.3l-7.1-1.4l-5.9-0.6M497.1 67.2l-11.8 6.5l-11.9 7.2l-15.4 11.3l-5.9 4l-3.5 1.9l-9.5 3.7l-3.5 2.2l-2.4 3.2l-6.2 11l-5.6 7.3l-3.6 3.4l-2.3 0.6l-6 0.5l-17.7 0.2l-1.2-0.2l-2.5-1.1l-4.6-3.5l-21.3-31.1l-5.9-6.8l-7.1-5.9l-8.3-5.7l-8.3-4.2l-14.2-4.6l-5.9-1.3l-4.7-0.5M497.1 89.4l-33.7 17l-12.4 7.1l-6 4.4l-11.8 11l-5.9 4.1l-9.5 3.9l-5.9 1.9l-4.7 1l-4.7 0.4l-4.8-0.5l-5.9-1.8l-14.2-6.4l-4.7-2.6l-7.1-4.8l-11.9-8.9l-15.3-14.3l-6-4.2l-7.1-3.3l-7.1-2.8l-5.9-1.6l-4.7-0.7M497.1 109.8l-11.8 5.2l-11.9 6.3l-5.9 3.7l-15.4 10.8l-13 7.8l-5.9 3.1l-4.7 1.8l-4.8 1l-10.6 1.5l-8.3 0.6l-5.9-0.1l-5.9-0.9l-8.3-2.1l-10.6-3.2l-7.9-3.4l-33.6-16.4l-13-5.6l-11.8-4.6M497.1 124.6l-10.6 8.2l-10.7 7.4l-12.6 7.6l-11.3 5.9l-13.2 5.9l-7.9 2.8l-10.6 2.1l-11.8 1.4l-7.1 0.2l-5.9-0.6l-6-1.2l-15.3-3.8l-20.2-6.6l-25.8-9.7l-20.3-6.6M497.1 141.3l-8.3 8.5l-7.1 6.2l-5.9 4.2l-7.1 4l-11.4 4.8l-19.4 6.7l-8.2 2.1l-8.3 1.1l-11.9 1.1l-9.4 0.2l-9.5-0.6l-16.5-1.8l-20.2-3.8l-22.4-6l-23.7-5.2M497.1 167.2l-7.4 5.4l-7.5 4.7l-6.4 3.3l-7.1 3l-8.3 3l-8.3 2.3l-13 2.8l-9.4 1.5l-19 1.3h-14.2l-88.7-6.9"/>
<path fill="none" stroke="#000" stroke-width="1.75" stroke-linecap="round" d="M325.4 21.2L307.8 69.0M307.8 43.1L370.0 113.5M341.2 34.8L323.6 113.5M341.2 34.8L359.8 80.1M330.1 37.5L352.3 21.8M344.4 19.0L402.5 42.2M367.2 43.1L387.6 112.6M374.6 64.4L402.5 60.7M389.5 74.6L402.5 77.4M351.4 60.7L307.8 105.2M362.5 78.3L391.3 107.0M332.9 94.0L396.9 106.1M307.8 82.9L322.6 111.6M326.4 82.0L323.6 113.5M325.4 82.9L311.5 107.9M307.8 107.9L339.4 93.1M307.8 111.6L320.8 109.8M398.7 96.8L400.6 106.1M378.3 82.0L389.5 109.8M406.2 20.9L405.2 52.4M411.7 19.0L431.2 83.9M402.5 43.1L460.9 58.8M431.2 29.2L494.3 23.6M452.6 33.8L483.2 33.8M450.7 21.8L421.9 46.8M434.0 47.7L484.1 27.3M462.8 46.8L416.4 70.9M458.1 50.5L402.5 101.5M414.5 41.2L458.1 79.2M454.4 69.0L480.4 78.3M444.2 66.2L434.0 113.5M402.5 77.4L432.1 82.9M430.3 87.6L489.7 110.7M476.7 76.4L456.3 111.6M494.3 89.4L471.1 113.5M408.0 82.0L439.6 113.5M409.9 106.1L417.3 107.0M323.6 113.5L316.2 157.0M323.6 114.4L342.1 116.3M307.8 140.4L331.9 160.8M336.6 141.3L319.9 170.9M342.1 149.6L307.8 164.5M337.5 153.3L337.5 185.8M322.6 161.7L336.6 185.8M333.8 162.6L307.8 187.6M341.2 174.6L372.8 201.5M358.8 175.6L337.5 208.0M379.3 141.3L364.4 178.4M370.9 167.2L371.8 202.4M378.3 154.3L386.7 183.9M376.5 148.7L402.5 149.6M391.3 147.8L402.5 161.7M355.1 197.8L402.5 186.7M342.1 203.4L374.6 204.3M380.2 114.4L391.3 116.3M387.6 113.5L402.5 133.9M398.7 124.6L402.5 135.7M410.8 118.1L461.8 149.6M434.0 113.5L430.3 135.7M457.2 113.5L456.3 131.1M473.9 113.5L452.2 140.9M483.2 122.8L455.3 151.5M403.4 124.6L408.9 150.6M408.9 150.6L416.4 161.7M411.7 129.2L406.2 169.1M408.9 150.6L440.5 150.6M402.5 163.5L413.6 174.6M436.8 158.0L409.9 166.3M428.4 165.4L402.5 183.9M414.5 168.2L434.9 201.5M420.1 170.9L436.8 198.7M444.2 143.1L475.8 183.9M475.8 183.9L491.5 205.2M464.6 139.4L464.6 167.2M478.5 143.1L481.3 170.0M496.2 141.3L476.7 190.4M493.4 149.6L452.6 170.0M472.0 170.0L447.0 206.1M455.3 174.6L453.5 202.4M473.9 180.2L414.5 205.2"/>
<circle cx="404.0" cy="112.8" r="7.7" fill="#fff" stroke="#e8101c" stroke-width="1.7"/>
</g>
<path d="M307.8 19V208H497.1" fill="none" stroke="#222" stroke-width="1"/>
<path d="M307.8 19H497.1V208" fill="none" stroke="#555" stroke-width=".6"/>
<path d="M331.5 208.0v-2M331.5 19.0v2M307.8 184.4h2M497.1 184.4h-2M355.1 208.0v-2M355.1 19.0v2M307.8 160.8h2M497.1 160.8h-2M378.8 208.0v-2M378.8 19.0v2M307.8 137.1h2M497.1 137.1h-2M402.5 208.0v-2M402.5 19.0v2M307.8 113.5h2M497.1 113.5h-2M426.1 208.0v-2M426.1 19.0v2M307.8 89.9h2M497.1 89.9h-2M449.8 208.0v-2M449.8 19.0v2M307.8 66.2h2M497.1 66.2h-2M473.4 208.0v-2M473.4 19.0v2M307.8 42.6h2M497.1 42.6h-2" stroke="#222" stroke-width=".6" fill="none"/>
<g font-size="7.5" fill="#3a3a3a">
<text x="307.8" y="218.0" text-anchor="middle">0</text>
<text x="306.0" y="210.7" text-anchor="end">0</text>
<text x="331.5" y="218.0" text-anchor="middle">10</text>
<text x="306.0" y="187.1" text-anchor="end">10</text>
<text x="355.1" y="218.0" text-anchor="middle">20</text>
<text x="306.0" y="163.4" text-anchor="end">20</text>
<text x="378.8" y="218.0" text-anchor="middle">30</text>
<text x="306.0" y="139.8" text-anchor="end">30</text>
<text x="402.5" y="218.0" text-anchor="middle">40</text>
<text x="306.0" y="116.2" text-anchor="end">40</text>
<text x="426.1" y="218.0" text-anchor="middle">50</text>
<text x="306.0" y="92.6" text-anchor="end">50</text>
<text x="449.8" y="218.0" text-anchor="middle">60</text>
<text x="306.0" y="69.0" text-anchor="end">60</text>
<text x="473.4" y="218.0" text-anchor="middle">70</text>
<text x="306.0" y="45.3" text-anchor="end">70</text>
<text x="497.1" y="218.0" text-anchor="middle">80</text>
<text x="306.0" y="21.7" text-anchor="end">80</text>
<text x="402.5" y="227.5" text-anchor="middle" font-size="7.7">x [m]</text>
<text transform="translate(291.8 113.5) rotate(-90)" text-anchor="middle" font-size="7.7">y [m]</text>
<rect x="509.6" y="206.71" width="15.4" height="3.29" fill="#000087"/>
<rect x="509.6" y="203.72" width="15.4" height="3.29" fill="#000097"/>
<rect x="509.6" y="200.73" width="15.4" height="3.29" fill="#0000a7"/>
<rect x="509.6" y="197.74" width="15.4" height="3.29" fill="#0000b7"/>
<rect x="509.6" y="194.75" width="15.4" height="3.29" fill="#0000c7"/>
<rect x="509.6" y="191.76" width="15.4" height="3.29" fill="#0000d7"/>
<rect x="509.6" y="188.77" width="15.4" height="3.29" fill="#0000e7"/>
<rect x="509.6" y="185.78" width="15.4" height="3.29" fill="#0000f7"/>
<rect x="509.6" y="182.78" width="15.4" height="3.29" fill="#0008ff"/>
<rect x="509.6" y="179.79" width="15.4" height="3.29" fill="#0018ff"/>
<rect x="509.6" y="176.80" width="15.4" height="3.29" fill="#0028ff"/>
<rect x="509.6" y="173.81" width="15.4" height="3.29" fill="#0038ff"/>
<rect x="509.6" y="170.82" width="15.4" height="3.29" fill="#0048ff"/>
<rect x="509.6" y="167.83" width="15.4" height="3.29" fill="#0058ff"/>
<rect x="509.6" y="164.84" width="15.4" height="3.29" fill="#0068ff"/>
<rect x="509.6" y="161.85" width="15.4" height="3.29" fill="#0078ff"/>
<rect x="509.6" y="158.86" width="15.4" height="3.29" fill="#0087ff"/>
<rect x="509.6" y="155.87" width="15.4" height="3.29" fill="#0097ff"/>
<rect x="509.6" y="152.88" width="15.4" height="3.29" fill="#00a7ff"/>
<rect x="509.6" y="149.89" width="15.4" height="3.29" fill="#00b7ff"/>
<rect x="509.6" y="146.90" width="15.4" height="3.29" fill="#00c7ff"/>
<rect x="509.6" y="143.91" width="15.4" height="3.29" fill="#00d7ff"/>
<rect x="509.6" y="140.92" width="15.4" height="3.29" fill="#00e7ff"/>
<rect x="509.6" y="137.93" width="15.4" height="3.29" fill="#00f7ff"/>
<rect x="509.6" y="134.93" width="15.4" height="3.29" fill="#08fff7"/>
<rect x="509.6" y="131.94" width="15.4" height="3.29" fill="#18ffe7"/>
<rect x="509.6" y="128.95" width="15.4" height="3.29" fill="#28ffd7"/>
<rect x="509.6" y="125.96" width="15.4" height="3.29" fill="#38ffc7"/>
<rect x="509.6" y="122.97" width="15.4" height="3.29" fill="#48ffb7"/>
<rect x="509.6" y="119.98" width="15.4" height="3.29" fill="#58ffa7"/>
<rect x="509.6" y="116.99" width="15.4" height="3.29" fill="#68ff97"/>
<rect x="509.6" y="114.00" width="15.4" height="3.29" fill="#78ff87"/>
<rect x="509.6" y="111.01" width="15.4" height="3.29" fill="#87ff78"/>
<rect x="509.6" y="108.02" width="15.4" height="3.29" fill="#97ff68"/>
<rect x="509.6" y="105.03" width="15.4" height="3.29" fill="#a7ff58"/>
<rect x="509.6" y="102.04" width="15.4" height="3.29" fill="#b7ff48"/>
<rect x="509.6" y="99.05" width="15.4" height="3.29" fill="#c7ff38"/>
<rect x="509.6" y="96.06" width="15.4" height="3.29" fill="#d7ff28"/>
<rect x="509.6" y="93.07" width="15.4" height="3.29" fill="#e7ff18"/>
<rect x="509.6" y="90.08" width="15.4" height="3.29" fill="#f7ff08"/>
<rect x="509.6" y="87.08" width="15.4" height="3.29" fill="#fff700"/>
<rect x="509.6" y="84.09" width="15.4" height="3.29" fill="#ffe700"/>
<rect x="509.6" y="81.10" width="15.4" height="3.29" fill="#ffd700"/>
<rect x="509.6" y="78.11" width="15.4" height="3.29" fill="#ffc700"/>
<rect x="509.6" y="75.12" width="15.4" height="3.29" fill="#ffb700"/>
<rect x="509.6" y="72.13" width="15.4" height="3.29" fill="#ffa700"/>
<rect x="509.6" y="69.14" width="15.4" height="3.29" fill="#ff9700"/>
<rect x="509.6" y="66.15" width="15.4" height="3.29" fill="#ff8700"/>
<rect x="509.6" y="63.16" width="15.4" height="3.29" fill="#ff7800"/>
<rect x="509.6" y="60.17" width="15.4" height="3.29" fill="#ff6800"/>
<rect x="509.6" y="57.18" width="15.4" height="3.29" fill="#ff5800"/>
<rect x="509.6" y="54.19" width="15.4" height="3.29" fill="#ff4800"/>
<rect x="509.6" y="51.20" width="15.4" height="3.29" fill="#ff3800"/>
<rect x="509.6" y="48.21" width="15.4" height="3.29" fill="#ff2800"/>
<rect x="509.6" y="45.22" width="15.4" height="3.29" fill="#ff1800"/>
<rect x="509.6" y="42.23" width="15.4" height="3.29" fill="#ff0800"/>
<rect x="509.6" y="39.23" width="15.4" height="3.29" fill="#f70000"/>
<rect x="509.6" y="36.24" width="15.4" height="3.29" fill="#e70000"/>
<rect x="509.6" y="33.25" width="15.4" height="3.29" fill="#d70000"/>
<rect x="509.6" y="30.26" width="15.4" height="3.29" fill="#c70000"/>
<rect x="509.6" y="27.27" width="15.4" height="3.29" fill="#b70000"/>
<rect x="509.6" y="24.28" width="15.4" height="3.29" fill="#a70000"/>
<rect x="509.6" y="21.29" width="15.4" height="3.29" fill="#970000"/>
<rect x="509.6" y="18.30" width="15.4" height="3.29" fill="#870000"/>
<rect x="509.6" y="18.3" width="15.4" height="191.4" fill="none" stroke="#444" stroke-width=".6"/>
<path d="M509.6 185.8h1.8M525.0 185.8h-1.8M509.6 161.9h1.8M525.0 161.9h-1.8M509.6 137.9h1.8M525.0 137.9h-1.8M509.6 114.0h1.8M525.0 114.0h-1.8M509.6 90.1h1.8M525.0 90.1h-1.8M509.6 66.2h1.8M525.0 66.2h-1.8M509.6 42.2h1.8M525.0 42.2h-1.8" stroke="#222" stroke-width=".6" fill="none"/>
<text x="526.5" y="212.4">0</text>
<text x="526.5" y="188.5">1</text>
<text x="526.5" y="164.6">2</text>
<text x="526.5" y="140.6">3</text>
<text x="526.5" y="116.7">4</text>
<text x="526.5" y="92.8">5</text>
<text x="526.5" y="68.9">6</text>
<text x="526.5" y="44.9">7</text>
<text x="526.5" y="21.0">8</text>
<text x="525.4" y="15.1" font-size="7.6">x 10<tspan dy="-6.8" dx="0.2" font-size="5.3">5</tspan></text>
<text transform="translate(539.0 114.0) rotate(-90)" text-anchor="middle" font-size="7.7">Pressure [Pa]</text>
</g>
<text x="416" y="246.6" text-anchor="middle" font-family="'Liberation Serif','DejaVu Serif',serif" font-size="11.5" letter-spacing=".5" fill="#222">(<tspan font-weight="bold">b</tspan>) κ = 1</text>
<clipPath id="c2"><rect x="27.4" y="269" width="196.5" height="196.6"/></clipPath>
<g clip-path="url(#c2)">
<rect x="27.4" y="269" width="196.5" height="196.6" fill="#000087"/>
<path fill="#000097" d="M27.4 465.6h196.5v-196.6h-196.5zM124.4 376l-2.4-0.7l-1.2-0.6l-1.3-1l-1.2-1.4l-1.3-2.5l-0.5-2.5v-1.2l0.5-2.5l0.6-1.2l0.7-1.1l1.2-1.4l1.2-1l2.5-1.2l2.4-0.3l1.3 0.1l2.4 0.8l1.3 0.7l1.2 1l1.2 1.4l0.6 1l0.9 2.4l0.2 1.3l-0.2 2.4l-0.8 2.5l-0.7 1.1l-1.1 1.3l-1.3 1.1l-1.3 0.7l-2.1 0.7z"/>
<path fill="#0000a7" d="M27.4 465.6h196.5v-194.9l-19.7 0.3l-15.9 0.6l-9.8 1l-3.7 0.6l-2.5 0.7l-1.2 0.6l-2.5 1.6l-1.6 1.5l-2 2.6l-16 9.1l-3.7 2.5l-3.8 3l-8.5 7.7l-2.4 1.9l-2.5 1.3l-2.5 0.5l-1.2-0.3l-1.2-1l-1.2-1.5l-7.9-12.3l-3-3.7l-3.9-4l-1.2-3.6l-1.2-2.3l-1.3-1.4l-1.2-0.9l-1.2-0.6l-3.7-0.8l-4.9-0.7l-23.3-1.3l-16-0.6l-25.8-0.4zM122 376.2l-2.5-1.6l-1.2-1.3l-1.5-2.3l-0.8-2.5l-0.2-1.2l0.1-2.5l0.3-1.2l0.9-2l1.1-1.7l1.3-1.4l1.2-0.9l1.3-0.7l2.4-0.8l1.2-0.1l2.5 0.4l1.2 0.4l2.5 1.6l1.2 1.2l1.2 1.8l1 2.2l0.4 2.5l-0.2 2.4l-0.3 1.3l-0.9 1.9l-1.2 1.7l-1.3 1.3l-2.4 1.4l-1.2 0.4l-2.5 0.4l-2.4-0.3z"/>
<path fill="#0000b7" d="M27.4 465.6h196.5v-190.8l-14.7 0.6l-17.2 1.6l-6.2 1l-4.9 1.1l-4.9 1.5l-2.5 1.1l-2.4 1.7l-1.7 1.6l-2 2.3l-2.4 3.5l-11.1 11.9l-7.4 7.4l-3.6 4.4l-7.4 9.4l-2.5 2.8l-2.4 2.3l-1.3 0.9l-2.4 1.1l-1.3 0.1l-1.2-0.4l-1.2-1.1l-1.2-1.7l-2.5-4.7l-7.6-17.3l-1.9-3.7l-2.8-4.8l-1.2-3.6l-1.2-2.9l-1.3-2.2l-1.2-1.6l-1.2-1.1l-1.2-0.7l-2.5-1.3l-2.5-1l-4.9-1.3l-24.5-4.1l-7.4-0.9l-7.4-0.6l-13.5-0.8l-9.8-0.3zM123.2 377.4l-2.5-1l-1.2-0.9l-1.2-1.2l-1.2-1.7l-0.9-1.6l-0.8-2.5l-0.2-2.4v-1.3l0.6-2.4l0.5-1.2l1.6-2.5l1.6-1.8l1.2-0.9l2.5-1.3l1.2-0.3h2.5l1.2 0.3l2.5 1.1l2.4 1.9l1.2 1.5l1.1 2l0.9 2.4l0.3 2.5l-0.2 2.4l-0.8 2.5l-0.6 1.2l-1.9 2.4l-1.2 1.1l-1.2 0.8l-2.5 0.9l-2.5 0.4z"/>
<path fill="#0000c7" d="M27.4 465.6h196.5v-186.8l-7.4 0.4l-7.3 0.6l-9.9 1.2l-7.3 1.1l-4.9 1.1l-5 1.3l-4.9 1.8l-3.7 1.8l-2.4 2l-2.5 2.8l-13.5 19.2l-8.7 11l-8.5 12l-3.7 4.9l-2.4 2.6l-2.5 2l-2.4 1l-1.3 0.2l-1.2-0.4l-1.2-1.1l-1.2-1.7l-1.3-2.2l-2.4-5.6l-6.8-17.9l-4.3-9.6l-1.2-3.4l-1.9-4.2l-1.8-2.9l-1.2-1.3l-2.5-1.8l-4.9-2.8l-4.9-1.9l-16-4.2l-8.6-1.9l-7.3-1.3l-8.6-1.1l-11.1-1l-9.8-0.4zM124.4 378.6l-2.4-0.7l-1.3-0.7l-2.4-2.1l-1.2-1.5l-1.3-2.1l-0.7-1.7l-0.5-2.5v-2.5l0.4-2.4l0.8-2.2l1.3-2.2l1.2-1.6l1.2-1.2l2.5-1.9l2.4-1l1.2-0.2l2.5 0.4l2.5 1.1l2.4 2l1.2 1.3l1.3 1.9l1.1 2.4l0.6 2.4l0.2 2.5l-0.2 2.4l-0.7 2.5l-1.4 2.4l-2.1 2.4l-1.9 1.3l-1.8 0.9l-2.4 0.6z"/>
<path fill="#0000d7" d="M27.4 465.6h196.5v-182.8l-7.4 0.4l-7.3 0.8l-11.1 1.7l-7.4 1.5l-6.1 1.7l-4.9 1.8l-4.9 2.3l-2.5 1.8l-2.4 2.6l-2.5 3.5l-14.7 23.9l-5.9 8.1l-10.1 15l-3.7 4.6l3.3 5l1.5 3.7l0.5 2.4l0.1 2.5l-0.6 3.7l-0.9 2.4l-0.8 1.2l-1.9 2.4l-1.2 1.1l-2.3 1.5l-1.4 0.5l-1.2 0.4l-2.5 0.3l-2.4-0.3l-1.2-0.6l-2.5-1.7l-1.2-1.1l-2-2.5l-0.7-1.2l-1-2.4l-0.6-2.5l-0.1-2.5l0.3-2.4l0.4-1.5l1.2-2.8l1.3-2l2.8-3.5l0.7-1.3l-3.5-8.6l-6.5-18.4l-4.6-11.7l-2.5-5.4l-1.2-1.9l-1.2-1.4l-2.5-2.1l-3.7-2.6l-2.4-1.4l-3.7-1.7l-6.6-2.5l-15.5-5l-7.4-1.8l-7.3-1.4l-13.5-1.7l-11.1-0.7z"/>
<path fill="#0000e7" d="M27.4 465.6h196.5v-179l-7.4 0.5l-7.3 1l-11.1 1.9l-7.4 1.7l-6.1 1.9l-4.9 2l-4.9 2.5l-2.5 1.9l-2.4 2.9l-2.8 4.2l-4.2 7.4l-6.5 12.3l-3.7 6.4l-5.7 8.3l-9.1 13.9l-0.2 0.8l0.2 1.3l0.8 2.4l0.5 2.5l0.2 3.7l-0.6 3.7l-0.9 2.1l-0.8 1.5l-1.6 2.2l-1.3 1.2l-2.4 1.9l-2.5 1.2l-2.4 0.6l-1.3 0.1l-1.2-0.2l-1.2-0.3l-1.2-0.6l-2.5-1.8l-2.9-3l-0.9-1.3l-1.3-2.4l-0.9-3.7l-0.2-2.5l0.2-2.4l1-3.7l1.3-2.8l1.3-2.1l0.2-1.2l-7.1-20.9l-4.2-11.2l-1.2-2.9l-1.7-3.1l-0.8-1.3l-2.4-2.7l-2.5-2.2l-3.3-2.4l-2.8-1.9l-3.7-2l-4.9-2.3l-6.1-2.4l-11.1-4.1l-8.6-2.5l-7.4-1.4l-12.3-1.8l-9.8-0.7z"/>
<path fill="#0000f7" d="M27.4 465.6h196.5v-175.2l-6.1 0.4l-7.4 1l-9.8 1.9l-7.4 1.6l-6.1 1.9l-5 1.9l-4.9 2.4l-3.7 2.3l-2.4 2.6l-3.7 5.6l-3.3 6.2l-10.2 20.5l-2.5 4.1l-4 6.1l-7 10.9l-0.2 1.4l0.3 3.6l-0.3 2.5l-1 3.7l-1.3 2.4l-1.2 1.7l-1.9 2l-3 2.4l-2.9 1.3l-3.3 0.5l-1.2-0.1l-1.2-0.4l-3.7-2.5l-2.4-2.3l-1.1-1.3l-1.4-2.2l-0.7-1.5l-1-3.7l-0.1-3.7l0.6-4.2l1.5-4.4l-0.1-1.2l-6.1-18.4l-3.9-10.3l-2.5-4.5l-1.2-1.6l-3.4-3.3l-2.8-2.4l-3.3-2.5l-6.5-4.1l-4.9-2.5l-6.1-2.8l-9.9-4l-8.6-2.7l-8.6-1.8l-11-1.7l-8.6-0.7z"/>
<path fill="#0008ff" d="M27.4 465.6h196.5v-171.5l-6.1 0.4l-7.4 1.1l-9.8 2l-7.4 1.8l-6.1 2l-5 2.1l-4.9 2.5l-3.7 2.5l-2.4 2.8l-3.5 5.6l-3.1 6.2l-6.9 15l-3.7 7.6l-2.5 4.3l-9.8 15.2l-0.4 2.1l-0.8 2.5l-1.8 3.6l-1.8 2.5l-1.2 1.2l-3 2.5l-2 1.2l-1.3 0.5l-2.4 0.6l-1.3 0.1l-1.2-0.2l-2.2-1l-3.4-2.4l-3-3.1l-1.9-3.1l-1.3-3.7l-0.5-3.7l0.2-3.6l0.9-5l-6-17.7l-2.4-6.1l-2.5-4.7l-2.4-3l-5-4.8l-6.1-5l-7.4-4.7l-9.8-5.1l-8.6-3.8l-7.4-2.5l-9.8-2.2l-9.8-1.8l-8.6-0.7z"/>
<path fill="#0018ff" d="M27.4 465.6h196.5v-168l-6.1 0.5l-7.4 1.2l-9.8 2.1l-7.4 1.9l-6.1 2l-5 2.1l-4.9 2.7l-3.7 2.5l-1.2 1.3l-2.2 3l-3.4 6.2l-3.5 7.3l-6.8 15.5l-3.7 7.2l-1.3 2l-9.8 13.8l-0.9 2.1l-1.4 2.4l-2.9 3.7l-3.4 2.8l-1.5 0.9l-2.2 1l-1.2 0.4l-2.5 0.3l-1.2-0.1l-1.2-0.5l-3.6-2.3l-2.8-2.5l-1.1-1.2l-1.7-2.5l-1.2-2.4l-1-3.7l-0.3-3.7l0.4-4.9l-0.1-1.2l-4.6-12.5l-2.4-5.9l-2.5-4.6l-1.2-1.7l-5.6-6l-5.3-5l-6.3-4.9l-6.1-3.9l-9.9-5.3l-7.3-3.2l-7.4-2.5l-9.8-2.3l-8.6-1.5l-7.4-0.7z"/>
<path fill="#0028ff" d="M27.4 465.6h196.5v-164.6l-6.1 0.6l-7.4 1.1l-9.8 2.2l-7.4 1.9l-6.1 2l-5 2.2l-4.9 2.6l-3.7 2.5l-2.4 3l-3.7 6.3l-3 6.3l-8 18.1l-2.5 4.9l-2.5 4l-9.8 12.5l-3.4 4.7l-2.4 2.5l-1.6 1.2l-2.4 1.6l-3.7 1.5l-2.5 0.3l-1.2-0.2l-1.2-0.4l-3.7-2.4l-3.3-2.9l-2-2.4l-1.4-2.5l-1.3-3.7l-0.5-3.7l-0.1-5.4l-4.9-11.7l-2.5-4.9l-2.4-3.7l-5.5-6.2l-4.7-4.9l-5.4-4.9l-6.5-4.9l-6-3.7l-7.5-4.1l-7.4-3.1l-6.1-2l-11.1-2.7l-7.4-1.3l-6.1-0.6z"/>
<path fill="#0038ff" d="M27.4 465.6h196.5v-161.2l-6.1 0.5l-7.4 1.2l-9.8 2.1l-7.4 1.9l-6.1 2l-5 2.1l-4.9 2.6l-2.4 1.6l-1.3 0.9l-2.4 3l-3.7 6.3l-3.2 6.8l-7.8 17.7l-2.5 4.8l-2.5 3.9l-11.2 12.9l-4.7 4.6l-1.3 1l-2.4 1.5l-2.5 1.1l-2.4 0.6l-1.3 0.1l-1.2-0.2l-1.2-0.5l-3.3-2.1l-3.1-2.4l-2.3-2.5l-1.6-2.5l-1.6-3.6l-0.6-2.5l-0.6-4.9l-0.4-1.9l-3.7-7.7l-2.5-4.4l-2.4-3.5l-9.4-10.8l-5.3-5.5l-5-4.4l-4.9-3.6l-7.3-4.5l-6.2-3.2l-6.1-2.6l-4.9-1.6l-11.1-2.9l-7.4-1.4l-6.1-0.6z"/>
<path fill="#0048ff" d="M27.4 465.6h196.5v-157.9l-6.1 0.5l-6.2 0.9l-8.6 1.8l-8.6 2l-6.1 2l-4.9 1.9l-4.9 2.4l-3.7 2.2l-1.3 1l-1.2 1.3l-1.2 1.6l-2.5 4.1l-3.6 7.4l-8.6 19.3l-2.5 4.7l-2.5 3.7l-9.7 10.2l-5.5 4.9l-3.2 2.2l-2.4 1.2l-2.5 0.8l-2.5 0.3l-1.2-0.2l-1.2-0.5l-3.7-2.3l-3.3-2.7l-2.3-2.5l-1.6-2.5l-1.1-2.4l-0.8-2.5l-0.7-4.4l-3.7-6.7l-2.5-4l-2.4-3.2l-12.7-14.8l-4.8-5l-4.6-4.1l-6.2-4.2l-6.1-3.7l-6.1-3.1l-5-2.1l-7.3-2.3l-8.6-2.2l-6.2-1.2l-6.1-0.7z"/>
<path fill="#0058ff" d="M27.4 465.6h196.5v-154.6l-6.1 0.5l-7.4 1.1l-9.8 2l-7.4 1.9l-4.9 1.5l-4.9 1.9l-4.9 2.4l-3.7 2.1l-1.3 1l-1.2 1.3l-1.2 1.6l-2.5 4l-3.6 7.5l-8.6 19.1l-2.5 4.6l-2.5 3.5l-9.3 8.9l-6.2 4.9l-2.9 1.8l-2.4 1.1l-2.5 0.7l-2.5 0.3l-1.2-0.2l-1.2-0.4l-1.4-0.8l-4.7-3.5l-2.7-2.7l-2.6-3.7l-1.3-2.4l-0.8-3.2l-1.2-2.4l-5-7.4l-17.1-20.4l-4.5-4.7l-4.1-3.7l-5.3-3.7l-5.8-3.6l-6.1-3.2l-5-2.1l-7.3-2.5l-8.6-2.3l-6.2-1.2l-6.1-0.8z"/>
<path fill="#0068ff" d="M27.4 465.6h196.5v-151.3l-6.1 0.5l-7.4 1.1l-9.8 2l-7.4 1.8l-4.9 1.5l-4.9 1.8l-4.9 2.3l-3.7 2.1l-1.3 1l-1.2 1.3l-1.2 1.6l-2.5 4l-3.6 7.4l-8.6 18.9l-2.5 4.4l-2.5 3.4l-1.6 1.6l-7.2 6.1l-5.9 4.3l-3.4 1.9l-2.7 1.1l-2.5 0.7l-2.5 0.2l-1.2-0.1l-2.4-1l-3.7-2.7l-3.7-3.4l-2.8-3.4l-0.9-1.8l-0.6-0.7l-0.6-1.7l-6.2-8.3l-6.1-6.9l-13.4-16.3l-3.8-3.8l-3.7-3.2l-5.8-4l-5.2-3.3l-4.9-2.6l-5-2.2l-7.3-2.5l-8.6-2.5l-6.2-1.3l-6.1-0.7z"/>
<path fill="#0078ff" d="M27.4 465.6h196.5v-148l-6.1 0.5l-7.4 1.1l-8.6 1.7l-8.6 2l-4.9 1.5l-4.9 1.8l-4.9 2.3l-3.7 2l-1.3 0.9l-1.2 1.3l-1.2 1.6l-2.5 4l-3.6 7.4l-8.4 17.9l-2.7 4.8l-2.5 3.3l-1.9 1.7l-6.4 5l-6.4 4.1l-2.5 1.3l-3.6 1.4l-2.5 0.5l-2.5 0.2l-2.4-0.4l-2.5-1.2l-3-2.3l-3.1-2.8l-1.9-2.1l-7.9-9.6l-8.6-9.4l-9.4-11.7l-4.1-4.8l-4.9-4.8l-5-3.7l-4.9-3.3l-4.9-2.9l-4.9-2.5l-4.9-2.1l-8.6-2.8l-6.1-1.7l-6.2-1.3l-4.9-0.6z"/>
<path fill="#0087ff" d="M27.4 465.6h196.5v-144.6l-6.1 0.6l-7.4 1.1l-8.6 1.7l-8.6 2l-4.9 1.4l-4.9 1.7l-4.9 2.2l-3.7 2.1l-1.3 0.9l-1.2 1.2l-1.2 1.6l-2.5 3.9l-2.4 4.7l-6.5 13.8l-3.3 6.8l-2.5 4.1l-2.5 3.1l-2.4 2l-5.3 3.7l-6.2 3.7l-2.6 1.2l-3.1 1.1l-3.7 0.8l-2.5 0.2l-2.4-0.3l-2.5-1l-1.2-0.7l-3.6-2.6l-2.7-2.4l-15.8-16.1l-12.3-15.2l-3.8-4.3l-3.5-3.5l-7.4-5.4l-4.9-3.2l-3.7-2.2l-4.9-2.4l-3.7-1.6l-7.8-2.6l-6.9-2l-6.2-1.3l-4.9-0.7z"/>
<path fill="#0097ff" d="M27.4 465.6h196.5v-140.9l-6.1 0.5l-7.4 1.1l-8.6 1.7l-8.6 2l-4.9 1.3l-4.9 1.8l-4.9 2.1l-3.7 2l-1.3 0.9l-1.2 1.2l-1.2 1.5l-2.5 3.8l-2.4 4.6l-7 14.4l-2.6 4.9l-2.7 4.4l-2.5 3l-1.6 1.2l-5.6 3.7l-6.8 3.7l-3.2 1.3l-3.6 1l-2.5 0.4l-2.5 0.2l-2.9-0.4l-3.3-1.3l-3.9-2.4l-4.5-3.7l-11.1-10.1l-2.5-2.4l-4.1-4.7l-9.4-11.6l-3.7-4.1l-3.7-3.3l-8.6-6.2l-4.8-3.1l-3.8-2.1l-3.7-1.7l-3.6-1.5l-7.4-2.6l-6.1-1.8l-6.2-1.3l-4.9-0.7z"/>
<path fill="#00a7ff" d="M27.4 465.6h196.5v-137.1l-6.1 0.5l-7.4 1.1l-8.6 1.7l-8.6 1.9l-4.9 1.3l-4.9 1.7l-4.9 2l-3.7 1.9l-1.3 0.9l-1.2 1.2l-1.2 1.4l-2.5 3.7l-2.4 4.3l-9.1 17.7l-3.2 4.9l-2.5 2.8l-1.2 0.9l-5.9 3.6l-4.6 2.5l-2.8 1.2l-3.5 1.3l-2.8 0.7l-5 0.5l-2.4-0.3l-2.5-0.6l-2.4-1.1l-2.5-1.4l-4-2.8l-10.8-8.6l-2.8-2.4l-3.3-3.3l-11-13.1l-4.9-5.2l-6.2-4.9l-7.8-5.5l-4.4-2.6l-3.7-2l-3.7-1.6l-4.9-1.8l-6.2-2.1l-4.9-1.4l-4.9-1.1l-4.9-0.7z"/>
<path fill="#00b7ff" d="M27.4 465.6h196.5v-133.2l-6.1 0.6l-7.4 1l-8.6 1.6l-8.6 1.9l-4.9 1.3l-4.9 1.5l-4.9 2l-3.7 1.8l-2.5 2l-1.2 1.4l-2.5 3.4l-2.4 4.2l-6.6 12.2l-2.8 4.9l-2.9 4.2l-2.5 2.6l-1.2 0.9l-5.9 3.4l-3.9 1.9l-3.7 1.6l-3.7 1.2l-2.4 0.5l-5 0.5l-2.4-0.2l-2.5-0.6l-2.4-0.9l-2.5-1.2l-4.6-2.8l-11.3-8.1l-2.5-2l-3.4-3.4l-10.1-11.5l-4.9-5.1l-2.5-2.1l-6.1-4.6l-8.6-5.7l-3.7-2.1l-3.7-1.8l-9.8-3.7l-8.6-2.5l-4.9-1.1l-3.7-0.5z"/>
<path fill="#00c7ff" d="M27.4 465.6h196.5v-129.3l-6.1 0.6l-7.4 1l-17.2 3.4l-4.9 1.2l-4.9 1.5l-4.9 1.9l-3.7 1.7l-2.5 1.9l-2.4 2.8l-3.7 5.7l-9 15.4l-3.3 4.6l-2.5 2.4l-1.2 0.8l-6.1 3.3l-3.7 1.8l-3.7 1.4l-3.7 1.1l-2.4 0.6l-5 0.4l-2.4-0.2l-2.5-0.5l-2.4-0.8l-2.5-1l-5.1-2.8l-10.8-6.8l-2.5-1.8l-3.7-3.4l-11-12l-4.9-4.6l-9.9-7.3l-7.3-4.8l-3.7-2.1l-3.7-1.7l-9.8-3.7l-8.6-2.5l-7.4-1.3z"/>
<path fill="#00d7ff" d="M27.4 465.6h196.5v-125.5l-6.1 0.6l-7.4 1.1l-18.4 3.6l-4.9 1.2l-5 1.5l-3.6 1.4l-3.7 1.7l-2.5 1.7l-1.2 1.2l-2.5 3.1l-2.4 3.6l-7 11.4l-2.4 3.7l-2.9 3.6l-2.5 2.3l-1.2 0.8l-6.2 3.1l-7.3 3l-3.7 1l-2.4 0.5l-5 0.4l-2.4-0.1l-2.5-0.4l-4.9-1.6l-5.7-2.8l-11-6.1l-2.9-2.2l-3.1-2.7l-10.4-10.7l-4.9-4.5l-11.1-8.1l-4.9-3.3l-3.7-2.1l-6.1-3l-9.9-3.6l-7.3-2.1l-7.4-1.4z"/>
<path fill="#00e7ff" d="M27.4 465.6h196.5v-122l-6.1 0.7l-7.4 1.2l-18.4 3.6l-4.9 1.2l-5 1.5l-3.6 1.3l-3.7 1.6l-2.5 1.6l-3.7 4l-2.4 3.4l-9 13.4l-3 3.7l-2.8 2.4l-3.6 2l-5 2.2l-6.1 2.3l-6.1 1.4l-5 0.4l-2.4-0.1l-2.5-0.4l-5.5-1.6l-6.7-2.9l-7.4-3.6l-2.5-1.3l-2.7-2l-3-2.5l-10.2-9.8l-4.9-4.3l-12.3-8.9l-4.9-3.1l-3.7-2.1l-6.2-2.8l-9.8-3.6l-7.4-2l-6.1-1.1z"/>
<path fill="#00f7ff" d="M27.4 465.6h196.5v-118.7l-7.4 1l-7.3 1.3l-18.5 3.8l-8.6 2.3l-7.3 2.8l-2.5 1.6l-3.7 3.7l-2.4 3.2l-6.6 9.3l-2.8 3.7l-2.9 3.1l-2.5 2l-6.1 2.9l-7.4 2.8l-6.1 1.5l-2.5 0.4l-3.7 0.2l-4.9-0.5l-6.1-1.5l-7.4-2.9l-6.1-2.6l-2.5-1.3l-2.6-1.7l-3.1-2.4l-11.5-10.4l-3.6-3l-13.6-9.4l-4.9-3.1l-3.7-2l-7.3-3.1l-8.6-3l-6.2-1.7l-6.1-1.2z"/>
<path fill="#08fff7" d="M27.4 465.6h196.5v-115.6l-13.5 2.2l-20.9 4.6l-8.6 2.4l-6.1 2.3l-2.5 1.5l-2.4 2.2l-3.7 4.3l-8.8 11.3l-3.5 3.7l-2.5 1.8l-6.1 2.7l-7.4 2.6l-6.1 1.4l-3.7 0.4l-2.5 0.1l-2.4-0.1l-3.7-0.4l-4.9-1.2l-7.2-2.4l-7.5-3l-3.5-1.9l-3.4-2.5l-11.6-9.8l-3.6-2.9l-12.3-8.4l-7.4-4.5l-6.1-3l-9.9-3.6l-7.3-2.2l-7.4-1.5z"/>
<path fill="#18ffe7" d="M27.4 465.6h196.5v-113l-14.7 2.9l-19.7 4.6l-7.4 2.1l-7.1 2.6l-2.7 1.6l-2.4 2.1l-3.7 4l-9 10.8l-3.3 3.1l-2.5 1.7l-7.3 2.9l-7.4 2.2l-6.1 1.2l-5 0.3l-4.9-0.3l-6.1-1.2l-6.1-1.8l-8.7-3.2l-2.4-1.2l-3.9-2.5l-12.1-9.6l-3.6-2.7l-12.3-8.1l-7.4-4.4l-6.1-2.9l-9.9-3.6l-7.3-2.2l-7.4-1.5z"/>
<path fill="#28ffd7" d="M27.4 465.6h196.5v-110.7l-13.5 3.1l-20.9 5.4l-7.4 2.2l-6.1 2.3l-2.5 1.1l-3.6 2.8l-3.7 3.7l-9.2 10.2l-3.1 2.7l-2.5 1.6l-7.3 2.6l-7.4 2l-6.1 1.1l-5 0.3l-4.9-0.3l-6.1-1.1l-6.1-1.8l-8.6-3l-3.3-1.6l-3.9-2.5l-14.9-10.9l-13.6-8.4l-6.1-3.4l-6.1-2.8l-9.9-3.6l-7.3-2.2l-7.4-1.5z"/>
<path fill="#38ffc7" d="M27.4 465.6h196.5v-108.5l-13.5 3.5l-20.9 6l-7.4 2.3l-4.9 1.9l-3.7 1.7l-3.6 2.7l-3.7 3.5l-8.6 8.8l-3.7 3l-2.4 1.4l-7.4 2.4l-7.4 1.8l-6.1 1l-5 0.2l-4.9-0.2l-6.1-1.1l-6.1-1.8l-8.6-3l-3.7-1.7l-3.7-2.2l-14.7-10l-13.6-7.8l-7.3-3.9l-6.2-2.5l-9.8-3.4l-7.4-2.1l-6.1-1.3z"/>
<path fill="#48ffb7" d="M27.4 465.6h196.5v-106.4l-13.5 4l-23.3 7.3l-6.2 2.2l-6.1 2.6l-2.5 1.4l-3.7 2.8l-9.1 8.7l-2.9 2.4l-2.7 2l-2.5 1.3l-7.3 2.1l-7.4 1.7l-6.1 0.8l-5 0.3l-4.9-0.3l-6.1-1.1l-6.1-1.8l-8.6-3l-3.7-1.6l-2.9-1.6l-15.5-9.7l-13.6-7.3l-7.3-3.6l-6.2-2.4l-9.8-3.3l-7.4-2.1l-6.1-1.3z"/>
<path fill="#58ffa7" d="M27.4 465.6h196.5v-104.3l-13.5 4.4l-24.6 8.4l-6.1 2.3l-4.9 2.2l-2.5 1.4l-2.4 1.7l-10.4 8.9l-3.1 2.5l-2.5 1.6l-2.5 1.2l-7.3 1.9l-7.4 1.5l-6.1 0.8l-5 0.2l-4.9-0.3l-6.1-1.2l-4.9-1.4l-9.8-3.4l-3.7-1.5l-3.5-1.9l-14.9-8.5l-13.6-6.8l-7.3-3.4l-4.9-1.9l-9.9-3.2l-7.3-2.1l-7.4-1.7z"/>
<path fill="#68ff97" d="M27.4 465.6h196.5v-102.1l-39.3 14.1l-9.8 4.2l-2.5 1.3l-2.4 1.7l-12 9.5l-2.8 1.8l-2.4 1.3l-3.7 1.1l-9.8 2.1l-6.2 0.9l-6.1 0.4l-4.9-0.2l-6.2-1.1l-6.1-1.8l-9.8-3.4l-3.7-1.5l-3.7-1.7l-14.7-7.8l-13.6-6.3l-7.3-3.2l-6.2-2.2l-8.6-2.7l-7.3-2.1l-7.4-1.7z"/>
<path fill="#78ff87" d="M27.4 465.6h196.5v-99.8l-40.5 15.3l-8.6 3.7l-4.9 2.9l-12.3 9.1l-2.5 1.4l-2.4 1.2l-4 1.1l-9.5 1.8l-6.2 0.8l-6.1 0.4l-4.9-0.2l-4.9-0.9l-5-1.4l-12.2-4.1l-7.4-3l-14.7-7.2l-13.6-5.9l-7.3-3l-6.2-2.2l-8.6-2.6l-7.3-2l-7.4-1.7z"/>
<path fill="#87ff78" d="M27.4 465.6h196.5v-97.1l-25.8 10.1l-14.7 5.5l-8.6 3.6l-4.9 2.8l-11.1 7.6l-3.7 2.1l-2.4 1.1l-3.7 0.9l-9.8 1.8l-6.2 0.7l-6.1 0.4l-3.7-0.1l-3.7-0.5l-3.7-0.8l-4.9-1.5l-14.7-5l-18.4-8.2l-14.8-6.1l-7.4-2.8l-14.7-4.5l-13.5-3.3z"/>
<path fill="#97ff68" d="M27.4 465.6h196.5v-94.1l-25.8 10l-16 5.9l-6.1 2.5l-4.9 2.5l-12.8 8.1l-3.2 1.6l-2.4 1l-4.5 1.1l-9 1.4l-6.2 0.7l-6.1 0.3h-3.7l-3.7-0.5l-3.7-0.8l-4.9-1.5l-16-5.3l-17.1-7.2l-14.8-5.9l-7.4-2.7l-14.7-4.4l-13.5-3.2z"/>
<path fill="#a7ff58" d="M27.4 465.6h196.5v-90.8l-24.6 9.2l-17.2 6l-6.1 2.5l-4.9 2.3l-13.5 8l-4.9 2.1l-4.9 1.1l-8.6 1.3l-6.2 0.7l-6.1 0.3l-3.7-0.1l-3.7-0.5l-3.7-0.8l-4.9-1.4l-16-5.2l-17.1-6.9l-14.8-5.7l-7.4-2.7l-14.7-4.2l-13.5-3.1z"/>
<path fill="#b7ff48" d="M27.4 465.6h196.5v-87.1l-24.6 8.5l-15.9 5.2l-7.4 2.7l-6.1 2.9l-11.4 6.4l-3.4 1.5l-2.4 0.9l-4.9 1l-8.6 1.4l-6.2 0.6l-6.1 0.3l-3.7-0.1l-3.7-0.4l-3.7-0.8l-4.9-1.3l-16-5l-30.7-11.9l-8.6-3.1l-14.7-4.2l-13.5-2.9z"/>
<path fill="#c7ff38" d="M27.4 465.6h196.5v-83.2l-38.1 11.6l-9.8 3.3l-6.1 2.7l-12.3 6.5l-4.9 1.8l-6.2 1.2l-8.6 1.3l-6.1 0.6l-6.2 0.2l-3.6-0.2l-3.7-0.6l-8.6-2.1l-11.1-3.3l-4.9-1.6l-29.5-11.3l-8.6-3l-14.7-4l-13.5-2.9z"/>
<path fill="#d7ff28" d="M27.4 465.6h196.5v-79.4l-33.2 9l-13.5 4l-6.1 2.4l-12.3 6.1l-3.7 1.5l-2.4 0.8l-6.2 1.2l-8.6 1.3l-6.1 0.6l-6.2 0.2l-4.9-0.3l-4.9-0.9l-15.9-4.4l-7.4-2.4l-28.3-10.6l-8.6-3l-14.7-3.9l-7.4-1.6l-6.1-1.1z"/>
<path fill="#e7ff18" d="M27.4 465.6h196.5v-75.6l-22.1 5.1l-14.7 3.7l-8.6 2.4l-7.4 2.6l-12.3 5.7l-6.1 2.3l-6.2 1.2l-8.6 1.2l-6.1 0.6l-6.2 0.2l-4.9-0.3l-4.9-0.8l-15.9-4.2l-7.4-2.4l-28.5-10.5l-8.4-2.9l-7.3-2l-7.4-1.8l-7.4-1.5l-6.1-1.1z"/>
<path fill="#f7ff08" d="M27.4 465.6h196.5v-72.2l-12.3 2.4l-11 2.4l-13.5 3.1l-8.6 2.3l-6.2 1.9l-14.7 6.4l-3.7 1.3l-2.5 0.6l-7.3 1.3l-7.4 1l-6.1 0.5l-6.2 0.2l-3.7-0.3l-4.9-0.8l-16.4-4.2l-6.9-2.1l-28.3-10.3l-8.6-2.8l-7.1-2l-7.6-1.7l-7.4-1.5l-6.1-1z"/>
<path fill="#fff700" d="M27.4 465.6h196.5v-69l-11.1 1.9l-12.2 2.5l-12.3 2.6l-9.8 2.4l-6.2 1.8l-14.7 6l-6.2 1.8l-8.6 1.5l-7.3 0.9l-6.2 0.5l-4.9 0.1l-4.9-0.5l-4.9-0.8l-16-4l-7.3-2.3l-28.3-9.9l-7.4-2.3l-7.3-2l-7.4-1.6l-13.5-2.5z"/>
<path fill="#ffe700" d="M27.4 465.6h196.5v-66.2l-23.3 4.2l-12.3 2.5l-9.8 2.3l-6.2 1.7l-14.7 5.6l-6.2 1.8l-8.6 1.4l-7.3 0.9l-6.2 0.5l-4.9 0.1l-3.7-0.3l-4.9-0.7l-17.2-4.1l-7.3-2.2l-29.5-9.7l-6.2-1.9l-14.7-3.5l-13.5-2.4z"/>
<path fill="#ffd700" d="M27.4 465.6h196.5v-63.6l-23.3 4.1l-13.5 2.7l-8.6 1.9l-6.2 1.6l-14.7 5.4l-6.2 1.7l-8.6 1.4l-7.3 0.9l-6.2 0.5l-4.9 0.1l-3.7-0.3l-4.9-0.7l-17.2-4l-8.6-2.4l-29.4-9.1l-6.2-1.8l-14.7-3.3l-12.3-2.3z"/>
<path fill="#ffc700" d="M27.4 465.6h196.5v-61.2l-31.9 5.9l-14.8 3l-6.1 1.7l-14.7 5l-5 1.3l-14.7 2.2l-6.1 0.5l-5 0.2l-4.9-0.3l-4.9-0.7l-17.2-3.8l-9.8-2.6l-34.4-9.8l-14.7-3.3l-12.3-2.3z"/>
<path fill="#ffb700" d="M27.4 465.6h196.5v-58.9l-35.6 6.7l-11.1 2.2l-6.1 1.6l-14.7 4.8l-5 1.2l-14.7 2.2l-6.1 0.6l-5 0.1l-3.6-0.1l-4.9-0.7l-19.7-4.2l-22.1-5.4l-22.1-5.9l-14.5-3.2l-11.3-2.2z"/>
<path fill="#ffa700" d="M27.4 465.6h196.5v-56.5l-47.9 9.1l-6.1 1.6l-12.3 3.8l-6.2 1.5l-15.9 2.4l-4.9 0.4l-5 0.2l-6.1-0.4l-6.1-1.1l-30.3-6.5l-31.1-7.5l-24.6-5.1z"/>
<path fill="#ff9700" d="M27.4 465.6h196.5v-54.1l-47.9 9l-6.1 1.5l-12.3 3.7l-6.2 1.4l-15.9 2.4l-4.9 0.4l-5 0.2l-3.6-0.2l-4.9-0.6l-13.6-2.8l-18.4-3.5l-57.7-12.5z"/>
<path fill="#ff8700" d="M27.4 465.6h196.5v-51.6l-23.3 4.5l-25.8 4.6l-4.9 1.2l-12.3 3.4l-6.2 1.4l-15.9 2.3l-4.9 0.5l-5 0.1l-3.6-0.1l-4.9-0.6l-14.8-3l-25.7-4.5l-49.2-10.2z"/>
<path fill="#ff7800" d="M27.4 465.6h196.5v-49l-23.3 4.4l-25.8 4.5l-17.2 4.3l-6.2 1.3l-15.9 2.3l-4.9 0.4l-5 0.2l-3.6-0.2l-4.9-0.6l-14.8-2.9l-28.2-4.4l-23.6-4.5l-23.1-4.8z"/>
<path fill="#ff6800" d="M27.4 465.6h196.5v-46.1l-23.3 4.2l-25.8 4.2l-17.2 4l-6.2 1.2l-15.9 2.2l-4.9 0.5l-5 0.1l-3.6-0.1l-4.9-0.6l-14.8-2.8l-31.9-4.7l-21.7-3.9l-21.3-4.1z"/>
<path fill="#ff5800" d="M27.4 465.6h196.5v-43.1l-23.3 3.9l-25.8 4l-17.2 3.7l-6.2 1.1l-15.9 2.1l-4.9 0.4l-5 0.1l-3.6-0.1l-3.7-0.4l-16-2.8l-32.6-4.5l-22.5-3.7l-19.8-3.6z"/>
<path fill="#ff4800" d="M27.4 465.6h196.5v-39.9l-47.9 7l-18.4 3.6l-6.2 1.1l-15.9 1.8l-9.9 0.5l-7.3-0.5l-16-2.7l-36.8-4.8l-19.8-3l-18.3-3z"/>
<path fill="#ff3800" d="M27.4 465.6h196.5v-36.7l-46.7 6.2l-6.1 0.9l-13.5 2.6l-6.2 0.9l-15.9 1.7l-9.9 0.5l-3.6-0.2l-4.9-0.5l-14.8-2.4l-43-5.3l-31.9-4.6z"/>
<path fill="#ff2800" d="M27.4 465.6h196.5v-33.5l-43 5l-8.6 1.2l-14.7 2.5l-6.2 0.9l-15.9 1.5l-9.9 0.4l-3.6-0.2l-4.9-0.4l-14.8-2.3l-46.7-5.3l-28.2-3.6z"/>
<path fill="#ff1800" d="M27.4 465.6h196.5v-30.2l-19.7 1.8l-18.4 2l-12.3 1.5l-15.9 2.4l-6.2 0.7l-15.9 1.4l-9.9 0.3l-7.3-0.4l-17.2-2.4l-73.7-7.9z"/>
<path fill="#ff0800" d="M27.4 465.6h196.5v-27l-16 1.1l-17.2 1.6l-17.2 1.9l-14.7 2l-7.4 0.8l-15.9 1.2l-9.9 0.2l-7.3-0.3l-16-2.1l-19.6-2l-55.3-5.1z"/>
<path fill="#f70000" d="M27.4 465.6h196.5v-23.9l-14.7 0.8l-16 1.2l-19.7 2l-22.1 2.5l-15.9 1l-9.9 0.2l-8.5-0.5l-14.8-1.7l-25.8-2.4l-49.1-3.9z"/>
<path fill="#e70000" d="M27.4 465.6h196.5v-20.9l-14.7 0.7l-16 1.1l-41.8 3.8l-15.9 0.9l-9.9 0.2l-8.5-0.4l-14.8-1.6l-25.8-2.1l-49.1-3.3z"/>
<path fill="#d70000" d="M27.4 465.6h196.5v-17.8l-14.7 0.5l-14.8 0.8l-43 3.4l-15.9 0.7l-9.9 0.2l-8.5-0.4l-14.8-1.3l-25.8-1.9l-49.1-2.7z"/>
<path fill="#c70000" d="M27.4 465.6h196.5v-14.8l-29.5 1l-43 2.9l-15.9 0.5l-9.9 0.2l-8.5-0.3l-14.8-1.2l-25.8-1.6l-49.1-2.2z"/>
<path fill="#b70000" d="M27.4 465.6h196.5v-11.8l-28.2 0.7l-44.3 2.3l-25.8 0.6l-8.5-0.3l-40.6-2.2l-49.1-1.7z"/>
<path fill="#a70000" d="M27.4 465.6h196.5v-8.8l-28.2 0.5l-44.3 1.7l-25.8 0.4l-8.5-0.2l-40.6-1.7l-49.1-1.2z"/>
<path fill="#970000" d="M27.4 465.6h196.5v-5.9l-28.2 0.3l-44.3 1.2l-25.8 0.3l-49.1-1.4l-49.1-0.7z"/>
<path fill="#870000" d="M27.4 465.6h196.5v-2.9l-98.3 0.8l-49.1-0.7l-49.1-0.3z"/>
<path fill="none" stroke="#000" stroke-opacity=".6" stroke-width=".75" d="M223.9 294.1l-6.1 0.4l-7.4 1.1l-17.2 3.8l-6.1 2l-5 2.1l-4.9 2.5l-3.7 2.5l-2.4 2.8l-3.5 5.6l-13.7 28.8l-2.5 4.3l-9.8 15.2l-1.2 4.6l-1.8 3.6l-3 3.7l-3 2.5l-3.3 1.7l-3.7 0.7l-1.2-0.2l-2.2-1l-3.4-2.4l-3-3.1l-1.9-3.1l-1.3-3.7l-0.5-3.7l0.2-3.6l0.9-5l-6-17.7l-2.4-6.1l-2.5-4.7l-2.4-3l-5-4.8l-6.1-5l-7.4-4.7l-9.8-5.1l-8.6-3.8l-7.4-2.5l-9.8-2.2l-9.8-1.8l-8.6-0.7M223.9 321l-6.1 0.6l-7.4 1.1l-17.2 3.7l-9.8 3.1l-8.6 4.3l-2.5 2.1l-3.7 5.5l-12.2 25.3l-2.5 4.1l-2.5 3.1l-7.7 5.7l-6.2 3.7l-5.7 2.3l-3.7 0.8l-2.5 0.2l-2.4-0.3l-3.7-1.7l-3.6-2.6l-2.7-2.4l-15.8-16.1l-16.1-19.5l-3.5-3.5l-7.4-5.4l-8.6-5.4l-8.6-4l-14.7-4.6l-6.2-1.3l-4.9-0.7M223.9 350l-13.5 2.2l-20.9 4.6l-8.6 2.4l-6.1 2.3l-2.5 1.5l-2.4 2.2l-3.7 4.3l-8.8 11.3l-3.5 3.7l-2.5 1.8l-6.1 2.7l-7.4 2.6l-6.1 1.4l-6.2 0.5l-6.1-0.5l-4.9-1.2l-7.2-2.4l-7.5-3l-3.5-1.9l-3.4-2.5l-15.2-12.7l-12.3-8.4l-7.4-4.5l-6.1-3l-9.9-3.6l-7.3-2.2l-7.4-1.5M223.9 368.5l-40.5 15.6l-8.6 3.6l-4.9 2.8l-11.1 7.6l-6.1 3.2l-3.7 0.9l-9.8 1.8l-12.3 1.1l-3.7-0.1l-3.7-0.5l-8.6-2.3l-14.7-5l-18.4-8.2l-22.2-8.9l-14.7-4.5l-13.5-3.3M223.9 396.6l-23.3 4.4l-22.1 5l-6.2 1.8l-14.7 6l-6.2 1.8l-15.9 2.4l-11.1 0.6l-4.9-0.5l-4.9-0.8l-16-4l-43-14.5l-14.7-3.6l-13.5-2.5M223.9 416.6l-49.1 8.9l-23.4 5.6l-15.9 2.3l-9.9 0.6l-8.5-0.8l-14.8-2.9l-28.2-4.4l-46.7-9.3M223.9 441.7l-30.7 2l-41.8 4.5l-15.9 1l-9.9 0.2l-8.5-0.5l-14.8-1.7l-25.8-2.4l-49.1-3.9"/>
<path fill="none" stroke="#000" stroke-width="1.75" stroke-linecap="round" d="M29.3 308.5L50.1 270.9M50.1 271.3L47.2 367.3M40.9 296.0L35.5 367.3M62.1 320.1L62.1 354.8M83.3 287.3L79.4 353.8M82.3 315.3L94.4 367.3M57.3 353.8L91.0 367.3M100.6 269.0L95.8 301.8M106.4 269.0L90.0 322.0M97.7 269.0L125.7 306.6M125.7 294.1L99.6 337.4M119.9 318.1L106.4 367.3M112.2 330.7L121.8 346.1M125.7 315.3L112.2 332.6M162.3 269.0L164.2 367.3M135.3 280.6L134.3 357.7M155.5 273.8L135.3 326.8M152.6 278.6L139.1 365.4M141.1 293.1L206.6 298.9M167.1 280.6L173.8 317.2M181.5 287.3L179.6 359.6M189.2 282.5L183.4 324.9M199.8 269.0L202.7 321.0M202.7 321.0L211.4 366.3M210.4 272.9L185.4 326.8M222.0 273.8L181.5 353.8M148.8 306.6L153.6 332.6M125.7 313.3L134.3 342.2M180.6 288.3L208.5 365.4M191.2 319.1L220.0 324.9M222.9 308.5L196.9 367.3M201.7 300.8L144.9 346.1M144.0 345.1L191.2 363.4M174.8 335.5L189.2 363.4M222.0 330.7L183.4 360.6M143.0 334.5L140.1 365.4M212.3 314.3L211.4 365.4M220.0 334.5L216.2 367.3M193.1 297.9L222.0 326.8M171.9 326.8L161.3 359.6M125.7 293.1L136.6 278.6M189.2 318.1L174.8 348.0M199.2 318.1L207.9 356.7M207.5 318.1L220.0 325.9M205.6 330.7L187.7 359.6M200.8 339.4L216.2 346.1M46.7 367.3L45.7 381.8M52.4 367.3L49.6 384.6M27.4 369.2L89.0 404.9M63.0 382.7L43.8 435.7M39.9 409.7L75.6 423.2M40.9 420.3L48.6 459.8M52.4 432.8L53.4 461.7M81.3 376.9L110.2 402.0M103.5 367.3L99.6 382.7M112.2 367.3L106.4 391.4M115.1 410.7L125.7 422.2M124.7 405.8L119.9 440.5M117.9 427.1L107.3 464.6M119.9 438.6L125.7 450.2M125.7 452.1L118.9 459.8M114.1 367.3L125.7 384.6M135.3 369.2L125.7 415.5M125.7 382.7L150.7 425.1M131.4 375.0L137.2 421.3M143.0 367.3L150.7 386.6M156.5 367.3L178.6 394.3M167.1 367.3L162.3 386.6M189.2 375.0L140.1 423.2M182.5 400.1L139.1 429.0M162.3 376.9L159.4 462.7M166.1 406.8L165.1 450.2M176.7 415.5L178.6 463.7M163.2 378.9L192.1 452.1M188.3 397.2L206.6 446.3M208.5 367.3L183.4 463.7M218.1 407.8L203.7 446.3M211.4 367.3L222.9 396.2M198.9 415.5L212.3 444.4M213.3 430.9L222.0 463.7M222.0 432.8L204.6 463.7M131.4 440.5L154.5 451.1M125.7 450.2L154.5 432.8M153.6 434.8L140.1 465.6M129.5 463.7L144.9 444.4M125.7 432.8L137.2 452.1M195.0 425.1L185.4 452.1M125.7 371.2L133.4 396.2M187.3 369.2L221.0 393.3M141.4 391.4L134.3 406.8M174.8 403.9L157.4 416.4M166.1 406.8L165.5 416.4"/>
<circle cx="125.5" cy="366.9" r="7.8" fill="#fff" stroke="#e8101c" stroke-width="1.7"/>
</g>
<path d="M27.4 269V465.6H223.9" fill="none" stroke="#222" stroke-width="1"/>
<path d="M27.4 269H223.9V465.6" fill="none" stroke="#555" stroke-width=".6"/>
<path d="M52.0 465.6v-2M52.0 269.0v2M27.4 441.0h2M223.9 441.0h-2M76.5 465.6v-2M76.5 269.0v2M27.4 416.5h2M223.9 416.5h-2M101.1 465.6v-2M101.1 269.0v2M27.4 391.9h2M223.9 391.9h-2M125.7 465.6v-2M125.7 269.0v2M27.4 367.3h2M223.9 367.3h-2M150.2 465.6v-2M150.2 269.0v2M27.4 342.7h2M223.9 342.7h-2M174.8 465.6v-2M174.8 269.0v2M27.4 318.2h2M223.9 318.2h-2M199.3 465.6v-2M199.3 269.0v2M27.4 293.6h2M223.9 293.6h-2" stroke="#222" stroke-width=".6" fill="none"/>
<g font-size="7.5" fill="#3a3a3a">
<text x="27.4" y="475.6" text-anchor="middle">0</text>
<text x="25.6" y="468.3" text-anchor="end">0</text>
<text x="52.0" y="475.6" text-anchor="middle">10</text>
<text x="25.6" y="443.7" text-anchor="end">10</text>
<text x="76.5" y="475.6" text-anchor="middle">20</text>
<text x="25.6" y="419.2" text-anchor="end">20</text>
<text x="101.1" y="475.6" text-anchor="middle">30</text>
<text x="25.6" y="394.6" text-anchor="end">30</text>
<text x="125.7" y="475.6" text-anchor="middle">40</text>
<text x="25.6" y="370.0" text-anchor="end">40</text>
<text x="150.2" y="475.6" text-anchor="middle">50</text>
<text x="25.6" y="345.4" text-anchor="end">50</text>
<text x="174.8" y="475.6" text-anchor="middle">60</text>
<text x="25.6" y="320.9" text-anchor="end">60</text>
<text x="199.3" y="475.6" text-anchor="middle">70</text>
<text x="25.6" y="296.3" text-anchor="end">70</text>
<text x="223.9" y="475.6" text-anchor="middle">80</text>
<text x="25.6" y="271.7" text-anchor="end">80</text>
<text x="125.7" y="485.1" text-anchor="middle" font-size="7.7">x [m]</text>
<text transform="translate(11.4 367.3) rotate(-90)" text-anchor="middle" font-size="7.7">y [m]</text>
<rect x="237" y="464.10" width="15.8" height="3.40" fill="#000087"/>
<rect x="237" y="460.99" width="15.8" height="3.40" fill="#000097"/>
<rect x="237" y="457.89" width="15.8" height="3.40" fill="#0000a7"/>
<rect x="237" y="454.78" width="15.8" height="3.40" fill="#0000b7"/>
<rect x="237" y="451.68" width="15.8" height="3.40" fill="#0000c7"/>
<rect x="237" y="448.57" width="15.8" height="3.40" fill="#0000d7"/>
<rect x="237" y="445.47" width="15.8" height="3.40" fill="#0000e7"/>
<rect x="237" y="442.36" width="15.8" height="3.40" fill="#0000f7"/>
<rect x="237" y="439.26" width="15.8" height="3.40" fill="#0008ff"/>
<rect x="237" y="436.15" width="15.8" height="3.40" fill="#0018ff"/>
<rect x="237" y="433.05" width="15.8" height="3.40" fill="#0028ff"/>
<rect x="237" y="429.94" width="15.8" height="3.40" fill="#0038ff"/>
<rect x="237" y="426.84" width="15.8" height="3.40" fill="#0048ff"/>
<rect x="237" y="423.73" width="15.8" height="3.40" fill="#0058ff"/>
<rect x="237" y="420.63" width="15.8" height="3.40" fill="#0068ff"/>
<rect x="237" y="417.52" width="15.8" height="3.40" fill="#0078ff"/>
<rect x="237" y="414.42" width="15.8" height="3.40" fill="#0087ff"/>
<rect x="237" y="411.32" width="15.8" height="3.40" fill="#0097ff"/>
<rect x="237" y="408.21" width="15.8" height="3.40" fill="#00a7ff"/>
<rect x="237" y="405.11" width="15.8" height="3.40" fill="#00b7ff"/>
<rect x="237" y="402.00" width="15.8" height="3.40" fill="#00c7ff"/>
<rect x="237" y="398.90" width="15.8" height="3.40" fill="#00d7ff"/>
<rect x="237" y="395.79" width="15.8" height="3.40" fill="#00e7ff"/>
<rect x="237" y="392.69" width="15.8" height="3.40" fill="#00f7ff"/>
<rect x="237" y="389.58" width="15.8" height="3.40" fill="#08fff7"/>
<rect x="237" y="386.48" width="15.8" height="3.40" fill="#18ffe7"/>
<rect x="237" y="383.37" width="15.8" height="3.40" fill="#28ffd7"/>
<rect x="237" y="380.27" width="15.8" height="3.40" fill="#38ffc7"/>
<rect x="237" y="377.16" width="15.8" height="3.40" fill="#48ffb7"/>
<rect x="237" y="374.06" width="15.8" height="3.40" fill="#58ffa7"/>
<rect x="237" y="370.95" width="15.8" height="3.40" fill="#68ff97"/>
<rect x="237" y="367.85" width="15.8" height="3.40" fill="#78ff87"/>
<rect x="237" y="364.75" width="15.8" height="3.40" fill="#87ff78"/>
<rect x="237" y="361.64" width="15.8" height="3.40" fill="#97ff68"/>
<rect x="237" y="358.54" width="15.8" height="3.40" fill="#a7ff58"/>
<rect x="237" y="355.43" width="15.8" height="3.40" fill="#b7ff48"/>
<rect x="237" y="352.33" width="15.8" height="3.40" fill="#c7ff38"/>
<rect x="237" y="349.22" width="15.8" height="3.40" fill="#d7ff28"/>
<rect x="237" y="346.12" width="15.8" height="3.40" fill="#e7ff18"/>
<rect x="237" y="343.01" width="15.8" height="3.40" fill="#f7ff08"/>
<rect x="237" y="339.91" width="15.8" height="3.40" fill="#fff700"/>
<rect x="237" y="336.80" width="15.8" height="3.40" fill="#ffe700"/>
<rect x="237" y="333.70" width="15.8" height="3.40" fill="#ffd700"/>
<rect x="237" y="330.59" width="15.8" height="3.40" fill="#ffc700"/>
<rect x="237" y="327.49" width="15.8" height="3.40" fill="#ffb700"/>
<rect x="237" y="324.38" width="15.8" height="3.40" fill="#ffa700"/>
<rect x="237" y="321.28" width="15.8" height="3.40" fill="#ff9700"/>
<rect x="237" y="318.18" width="15.8" height="3.40" fill="#ff8700"/>
<rect x="237" y="315.07" width="15.8" height="3.40" fill="#ff7800"/>
<rect x="237" y="311.97" width="15.8" height="3.40" fill="#ff6800"/>
<rect x="237" y="308.86" width="15.8" height="3.40" fill="#ff5800"/>
<rect x="237" y="305.76" width="15.8" height="3.40" fill="#ff4800"/>
<rect x="237" y="302.65" width="15.8" height="3.40" fill="#ff3800"/>
<rect x="237" y="299.55" width="15.8" height="3.40" fill="#ff2800"/>
<rect x="237" y="296.44" width="15.8" height="3.40" fill="#ff1800"/>
<rect x="237" y="293.34" width="15.8" height="3.40" fill="#ff0800"/>
<rect x="237" y="290.23" width="15.8" height="3.40" fill="#f70000"/>
<rect x="237" y="287.13" width="15.8" height="3.40" fill="#e70000"/>
<rect x="237" y="284.02" width="15.8" height="3.40" fill="#d70000"/>
<rect x="237" y="280.92" width="15.8" height="3.40" fill="#c70000"/>
<rect x="237" y="277.81" width="15.8" height="3.40" fill="#b70000"/>
<rect x="237" y="274.71" width="15.8" height="3.40" fill="#a70000"/>
<rect x="237" y="271.60" width="15.8" height="3.40" fill="#970000"/>
<rect x="237" y="268.50" width="15.8" height="3.40" fill="#870000"/>
<rect x="237" y="268.5" width="15.8" height="198.7" fill="none" stroke="#444" stroke-width=".6"/>
<path d="M237.0 442.4h1.8M252.8 442.4h-1.8M237.0 417.5h1.8M252.8 417.5h-1.8M237.0 392.7h1.8M252.8 392.7h-1.8M237.0 367.9h1.8M252.8 367.9h-1.8M237.0 343.0h1.8M252.8 343.0h-1.8M237.0 318.2h1.8M252.8 318.2h-1.8M237.0 293.3h1.8M252.8 293.3h-1.8" stroke="#222" stroke-width=".6" fill="none"/>
<text x="254.3" y="469.9">0</text>
<text x="254.3" y="445.1">1</text>
<text x="254.3" y="420.2">2</text>
<text x="254.3" y="395.4">3</text>
<text x="254.3" y="370.6">4</text>
<text x="254.3" y="345.7">5</text>
<text x="254.3" y="320.9">6</text>
<text x="254.3" y="296.0">7</text>
<text x="254.3" y="271.2">8</text>
<text x="253.2" y="265.3" font-size="7.6">x 10<tspan dy="-6.8" dx="0.2" font-size="5.3">5</tspan></text>
<text transform="translate(266.8 367.9) rotate(-90)" text-anchor="middle" font-size="7.7">Pressure [Pa]</text>
</g>
<text x="140.2" y="502" text-anchor="middle" font-family="'Liberation Serif','DejaVu Serif',serif" font-size="11.5" letter-spacing=".5" fill="#222">(<tspan font-weight="bold">c</tspan>) κ = 4</text>
<clipPath id="c3"><rect x="307.7" y="269" width="192.5" height="191.7"/></clipPath>
<g clip-path="url(#c3)">
<rect x="307.7" y="269" width="192.5" height="191.7" fill="#000087"/>
<path fill="#000097" d="M307.7 460.7h192.5v-191.7h-192.5zM402.7 372l-2.4-1.1l-1.2-1l-1.2-1.6l-0.5-1.1l-0.7-2.3v-1.2l0.8-3.6l1.9-2.4l2.1-1.6l3.7-0.8l3.6 0.7l2.4 1.7l1.2 1.4l0.5 1l0.9 2.4v2.3l-0.2 1.3l-1.2 2.6l-1.2 1.4l-1.2 0.9l-2.2 1l-1.4 0.4l-2.4-0.1z"/>
<path fill="#0000a7" d="M307.7 460.7h192.5v-190.1l-49.3 0.6h-63.8l-18 0.6l-10.9 0.2l-13.2-0.2l-37.3-1.1zM402.7 372.5l-1.2-0.5l-1.9-1.2l-1.2-1.2l-0.9-1.2l-0.8-1.7l-0.4-1.9v-2.3l0.3-1.2l0.4-1.2l0.9-1.6l1.2-1.3l1.2-1l1.2-0.6l2.5-0.7l2.4-0.1l1.2 0.3l1.2 0.4l1.7 1l1.4 1.2l0.9 1.2l0.8 1.4l0.6 2.2l0.1 2.3l-0.3 1.2l-1 2.4l-0.6 1l-1.2 1.2l-1.2 0.9l-1.2 0.6l-2.4 0.7l-2.4-0.1z"/>
<path fill="#0000b7" d="M307.7 460.7h192.5v-186.3l-25.3 0.8l-25.2 1.2h-26.5l-18 0.7l-18.1-0.2l-10.8 1l-14.5 0.5l-8.4-0.1l-8.4-0.4l-37.3-3zM401.5 372.5l-2.5-1.7l-1.2-1.2l-1.4-2.4l-0.4-1.2l-0.2-2.3l0.3-2.4l0.4-1.2l1.4-2.4l1.2-1.2l2.4-1.5l1.2-0.4l2.5-0.3l2.4 0.2l1.2 0.4l2.4 1.4l1.2 1.1l1 1.5l0.6 1.2l0.5 1.2l0.3 2.4l-0.3 2.3l-0.4 1.2l-1.4 2.4l-1.1 1.2l-1.6 1.2l-1.2 0.6l-1.2 0.3l-2.4 0.3l-2.5-0.3z"/>
<path fill="#0000c7" d="M307.7 460.7h192.5v-182.5l-25.3 1.2l-26.4 2l-21.7 0.5l-3.6-0.1l-12 1l-6 0.3l-16.9-0.5l-8.4 1.1l-13.2 0.5l-9.7-0.2l-10.8-0.8l-19.2-2l-19.3-2.3zM402.7 373.3l-2.4-1l-1.2-0.8l-1.2-1.1l-1.4-2l-0.6-1.2l-0.6-2.4v-2.3l0.3-1.2l0.9-2.4l0.8-1.2l1.1-1.2l1.9-1.5l1.2-0.6l2.5-0.6h2.4l1.2 0.2l2.4 0.9l1.2 0.7l1.2 1.1l1.6 2.2l0.6 1.2l0.6 2.4v2.3l-0.2 1.2l-1 2.4l-0.7 1.2l-1.1 1.2l-2.2 1.7l-1.2 0.5l-2.4 0.6h-2.4z"/>
<path fill="#0000d7" d="M307.7 460.7h192.5v-178.9l-25.3 1.7l-28.8 2.9l-19.3 1.1l-3.6-0.1l-15.6 1.8h-7.3l-12-0.7l-8.4 1l-7.2 0.2l-11.5-0.3l-13.8-1.2l-19.2-2.4l-20.5-3.1zM401.5 373.4l-2.4-1.3l-1.2-1l-1.2-1.5l-0.7-1.2l-1-2.4l-0.2-1.2v-2.3l0.6-2.4l1.2-2.4l0.9-1.2l1.6-1.4l1.2-0.8l1.2-0.5l2.5-0.6h2.4l2.4 0.5l2.4 1.2l1.2 1l1.2 1.3l1 1.7l0.6 1.2l0.5 2.4v2.3l-0.6 2.4l-1.3 2.4l-1 1.2l-1.3 1.2l-1.5 1l-1.2 0.5l-2.4 0.5h-2.4z"/>
<path fill="#0000e7" d="M307.7 460.7h192.5v-175.3l-12 0.9l-14.5 1.3l-30 3.9l-16.9 1.7h-3.6l-12 1.9l-3.6 0.4l-3.6 0.2l-4.9-0.2l-10.8-0.9l-7.2 0.6h-2.4l-8.4-0.3l-9.7-0.7l-10.8-1.2l-13.2-1.8l-13.3-2.1l-15.6-2.7zM404 374.4l-2.5-0.5l-1.4-0.7l-1.8-1.2l-1.6-1.5l-1.2-1.8l-0.6-1.5l-0.6-2.4v-2.3l0.4-2.4l0.5-1.2l1.5-2.4l1.2-1.3l1.6-1.1l2-1l2.5-0.6h2.4l2.4 0.5l1.2 0.5l2.4 1.6l1.4 1.4l1 1.4l1 2.2l0.5 2.4l-0.1 2.3l-0.6 2.4l-0.5 1.2l-1.5 2.3l-1.4 1.3l-1.8 1.2l-1.6 0.7l-2.4 0.6z"/>
<path fill="#0000f7" d="M307.7 460.7h192.5v-171.8l-14.4 1.2l-15.7 1.9l-12 1.8l-25.3 4.3l-7.2 1l-2.4 0.2l-12 2.5l-3.6 0.4l-3.6 0.2l-6.1-0.3l-9.6-1.1l-7.2-0.2l-4.8-0.3l-15.7-1.7l-13.2-1.8l-13.2-2.1l-12.1-2.1l-14.4-2.8zM402.7 374.7l-2.4-0.8l-1.2-0.7l-1.5-1.2l-2.1-2.4l-0.7-1.2l-0.8-2.4l-0.4-2.3l0.2-2.4l0.7-2.4l1.4-2.4l1-1.2l2.2-1.8l2.4-1.1l1.2-0.4l2.5-0.2l2.4 0.2l1.2 0.3l2.4 1.1l2.3 1.9l1.3 1.5l1.1 2.1l0.8 2.4l0.2 2.4l-0.4 2.3l-0.8 2.4l-0.9 1.6l-1.9 2l-1.7 1.3l-1.2 0.7l-2.4 0.7l-2.4 0.3z"/>
<path fill="#0008ff" d="M307.7 460.7h192.5v-168.4l-9.6 0.9l-10.9 1.3l-8.4 1.1l-9.6 1.6l-15.6 3.2l-33.7 8.2l-4.8 0.8l-3.6 0.2l-4.9-0.2l-4.8-0.6l-13.2-2.4l-32.5-5.1l-20.4-3.7l-20.5-4.2zM401.5 374.9l-2.4-1.1l-1.2-0.8l-1.2-1.1l-1.8-2.3l-1.1-2.4l-0.6-2.4l-0.1-2.3l0.4-2.4l0.9-2.4l1.1-1.9l1.7-1.7l1.9-1.4l2.4-1.1l2.5-0.5h2.4l2.4 0.5l2.4 1l2.1 1.5l1.5 1.5l1.3 2.1l0.9 2.4l0.4 2.4l-0.1 2.3l-0.5 2.4l-1.2 2.4l-0.8 1.2l-1.2 1.3l-2.4 1.8l-2.4 1l-2.4 0.5h-2.4z"/>
<path fill="#0018ff" d="M307.7 460.7h192.5v-165.1l-12 1.3l-14.5 2l-10.8 1.9l-10.8 2.4l-8.4 2.3l-15.7 5.5l-2.4 1l-2.4 1.7l-1.2 0.6l-4.8 1.8l-7.2 1.8l-3.6 0.4l-2.4 0.2l-6.1-0.4l-7.2-1.3l-2.4-1l-3.6-2.2l-3.3-1.5l-9.9-2.5l-13.3-2.8l-29.1-5.5l-21.4-4.5zM402.7 375.7l-2.4-0.8l-2.4-1.3l-1.8-1.6l-1.8-2.4l-1.1-2.4l-0.6-2.4l-0.2-2.3l0.4-2.4l0.8-2.4l1.4-2.4l1.7-1.8l1.2-1l2.4-1.3l2.4-0.7l2.5-0.3l2.4 0.3l2.4 0.6l2.4 1.3l2 1.7l1.6 2l1.3 2.8l0.6 2.4l0.1 2.4l-0.3 2.3l-0.8 2.4l-1.5 2.4l-1 1.2l-2 1.7l-2.4 1.3l-2.4 0.7l-2.4 0.2z"/>
<path fill="#0028ff" d="M307.7 460.7h192.5v-161.9l-14.4 1.8l-15.7 2.5l-12 2.4l-6 1.6l-3.6 1.1l-4.1 1.5l-5.4 2.4l-6.9 3.6l-5.3 3.1l-1.2 0.9l-0.5 0.8l-1.9 3.6l-2.4 2.3l-2.4 1.6l-2.4 1.1l-4.8 1.3l-3.6 0.7l-3.6 0.2l-4.9-0.1l-4.8-0.4l-2.4-0.3l-1.2-0.6l-2.4-2.8l-1.2-1.8l-1.9-3.6l-0.9-1.2l-2-1.9l-2.4-1.6l-7.2-2.7l-7.3-2.1l-9.6-2.3l-25.2-5l-22.9-4.9zM401.5 375.9l-2.4-1l-2.4-1.6l-1.3-1.3l-1.8-2.4l-1.1-2.4l-0.5-2.4l-0.1-3.5l0.5-2.4l1-2.4l1.6-2.4l1.7-1.7l2.4-1.6l2.4-0.9l2.5-0.5h2.4l2.4 0.4l2.4 1l2.4 1.5l1.8 1.8l1.7 2.4l0.9 2.4l0.5 2.4l0.1 2.4l-0.3 2.3l-0.8 2.4l-1.4 2.4l-2.2 2.4l-1.7 1.2l-2.2 1.1l-2.4 0.7l-3.6 0.2z"/>
<path fill="#0038ff" d="M307.7 460.7h192.5v-158.8l-15.6 2.1l-18.1 3.2l-12 2.9l-3.6 1.1l-3.6 1.4l-4.9 2.5l-6 3.8l-5.5 4l-4.1 3.7l-1.2 1.5l-0.8 2l-1.6 6.2l-1.2 2.3l-1.2 1.7l-2.4 2.6l-1.2 0.8l-1.2 0.5l-3.6 1l-4.8 0.9l-3.6 0.2h-6.1l-4.8-0.3l-1.2-0.2l-1.2-0.9l-1.2-2l-1.2-2.8l-1.2-3.5l-1-4.1l-0.8-2.4l-1.1-2.4l-1.5-2.4l-1.6-2l-1.2-1l-6-3.3l-3.6-1.5l-4.9-1.6l-10.8-3l-46.9-9.9zM404 376.9l-3.7-0.9l-2.4-1.2l-2.1-1.6l-2.1-2.4l-1.3-2.4l-0.8-2.4l-0.4-2.3l0.2-3.6l0.6-2.4l1.1-2.4l1.2-1.7l2.4-2.5l1.2-0.6l1.2-0.9l1.4-0.3l1-0.9l3.7-0.2l3.6 0.2l1.1 0.9l1.3 0.3l2.4 1.5l2.4 2.4l1.3 1.8l1.1 2.4l0.6 2.4l0.3 2.4l-0.2 2.3l-0.6 2.4l-1 2.4l-1.7 2.4l-2.2 2.1l-2.4 1.5l-2.4 0.9l-2.4 0.4z"/>
<path fill="#0048ff" d="M307.7 460.7h192.5v-155.7l-9.6 1.3l-10.9 1.8l-13.2 2.5l-8.4 2l-6 1.9l-3.6 1.5l-3.9 2.1l-4.6 3.2l-4.8 4l-3.7 3.6l-4.3 4.8l-1.6 2.7l-1.2 4.5l-1.2 6.2l-1.2 2.7l-1.2 1.8l-1.2 1.5l-1.2 1.2l-0.1 1l0.7 1.2l0.8 3.6l0.1 3.6l-0.7 3.5l-0.8 2l-0.9 1.6l-2 2.4l-1.4 1.2l-1.7 1.2l-3.6 1.4l-3.6 0.4l-3.7-0.4l-2.4-0.9l-1.2-0.6l-2.9-2.3l-1.1-1.2l-1.6-2.4l-1-2.4l-0.8-3.5v-2.4l0.5-4.8l-0.3-1.2l-1.2-2.1l-1.2-2.9l-1.2-4l-1.2-6l-1.2-4.2l-2.1-4.8l-1.5-2.5l-1.2-1.3l-2.4-1.9l-4.3-2.7l-4.9-2.4l-5.3-2l-7.2-2.1l-9.6-2.4l-38.5-7.9z"/>
<path fill="#0058ff" d="M307.7 460.7h192.5v-152.7l-8.4 1.2l-8.4 1.4l-14.5 2.9l-7.2 1.6l-6 1.7l-4.8 1.8l-2.4 1.2l-3.6 2.3l-4.1 3.2l-5 4.8l-5.2 6l-3.8 5.3l-1.4 3.1l-1 4.4l-1.2 6.5l-1.2 2.5l-1.2 1.8l-0.4 5.1l-0.6 2.4l-1 2.4l-1.5 2.4l-2.3 2.4l-2.6 1.8l-3.6 1.3l-3.6 0.5l-3.7-0.5l-3.6-1.4l-2.4-1.7l-1.2-1.1l-2-2.5l-1.2-2.4l-0.9-2.4l-0.7-5.6l-1.2-2.8l-1.2-3.9l-1.9-9.2l-1.1-3.6l-1.4-3.6l-1.6-3.3l-1.2-1.6l-2.5-2.3l-3.1-2.4l-4-2.5l-4.9-2.4l-4.8-1.8l-7.2-2.2l-9.6-2.3l-36.1-7.5z"/>
<path fill="#0068ff" d="M307.7 460.7h192.5v-149.6l-8.4 1.2l-8.4 1.5l-20.4 4.3l-4.9 1.4l-4.8 1.7l-3.6 1.6l-2.4 1.5l-4.9 3.9l-5.2 5.5l-4.9 6l-5 7.2l-1.7 3.4l-2.4 11.5l-1.5 3l-0.9 1.1l-0.5 2.5l-0.7 1l-0.6 1.4l-1 1.2l-2.2 2.4l-1.5 1.2l-1.9 1.2l-3.6 1.3l-3.6 0.4l-3.7-0.4l-3.6-1.4l-3.2-2.3l-3.3-3.6l-0.7-1.7l-0.5-0.7l-0.7-2.4l-1.2-2.7l-1.2-3.8l-1.2-6.1l-1.2-4.8l-1.8-5.3l-1.8-4.3l-1.2-1.8l-2.4-2.6l-2.4-2.2l-3.6-2.7l-3.6-2.2l-4.9-2.3l-6-2.3l-6-1.8l-8.4-2l-34.9-7.1z"/>
<path fill="#0078ff" d="M307.7 460.7h192.5v-146.6l-7.2 1l-8.4 1.6l-20.5 4.4l-4.8 1.4l-4.8 1.7l-3.6 1.6l-2.4 1.4l-2.4 1.9l-2.4 2.1l-4.6 4.9l-5.6 7.2l-5.5 8l-1.2 2l-1.2 2.6l-2.4 11.1l-1.2 2.3l-1.2 1.6l-1.2 1.3l-3.6 3.1l-1.2 0.9l-2.4 1.3l-2.4 1l-4.8 0.5l-3.7-0.3l-1.2-0.2l-0.7-0.5l-1.7-0.5l-0.9-0.7l-1.5-0.7l-4.8-3.7l-1.2-1.9l-1.2-2.6l-1.2-3.6l-1.2-5.9l-1.2-4.8l-2.2-6.7l-1.4-3.2l-1.2-2l-3.6-4l-3.6-3.2l-3.6-2.7l-3.7-2.1l-4.8-2.3l-6-2.2l-4.8-1.4l-6-1.5l-19.3-4.1l-16.8-3.3z"/>
<path fill="#0087ff" d="M307.7 460.7h192.5v-143.6l-14.4 2.4l-20.5 4.7l-8.4 2.5l-4.8 2.1l-2.4 1.3l-2.4 1.8l-2.4 2.1l-4.9 5.3l-5.7 7.6l-6.3 9.3l-1.2 2l-1.2 2.5l-2.4 10.7l-1.2 2.2l-1.2 1.5l-1.9 1.7l-1.9 1.2l-4.4 1.2l-5 0.9l-2.4 0.2l-3.7-0.2l-4.8-0.9l-3.6-1.4l-1.2-0.7l-1.2-1l-1.2-1.7l-0.4-1.2l-0.8-1.3l-1.2-3.5l-0.7-3.6l-1.7-6.8l-2.1-6.3l-1.5-3.6l-1.5-2.4l-4.5-5.1l-3.7-3.3l-4.7-3.4l-3.7-2l-4.8-2.2l-4.8-1.8l-4.7-1.4l-25.4-5.6l-15.6-3z"/>
<path fill="#0097ff" d="M307.7 460.7h192.5v-140.6l-7.2 1.1l-7.2 1.4l-19.3 4.5l-8.4 2.6l-3.6 1.5l-3.6 1.8l-2.4 1.6l-2.4 2.1l-4.9 5.3l-4.8 6.3l-8.4 12.3l-1.2 1.8l-1.2 2.3l-2.4 9.2l-1.2 1.9l-0.9 1l-1.5 1.4l-1.5 1l-3.2 1.2l-5.8 1.2l-5.1 0.4l-3.9-0.4l-4.1-1.2l-2.9-1.2l-1.2-0.7l-1.2-1l-1.3-1.9l-1.3-2.4l-1-2.5l-2.1-8.2l-1.5-4.5l-2.4-5.9l-1.2-1.9l-3.6-4.3l-3.6-3.6l-3.6-3l-3.7-2.6l-3.6-2.1l-3.6-1.7l-4.8-1.9l-4.8-1.4l-25.3-5.7l-15.6-3.1z"/>
<path fill="#00a7ff" d="M307.7 460.7h192.5v-137.6l-7.2 1.1l-7.2 1.4l-18.1 4.3l-4.8 1.4l-4.8 1.7l-3.6 1.6l-3.6 1.9l-3.6 2.8l-2.4 2.5l-2.5 2.8l-3.5 4.7l-7.6 10.8l-4.5 6l-1.2 1.9l-2.4 7.7l-2 2.3l-1.4 1.2l-1.4 0.9l-1.2 0.6l-2.4 0.8l-6 1.2l-4.8 0.3l-3.7-0.3l-3.5-1.1l-4.9-2.3l-1.2-1l-1.2-1.5l-1.9-3.6l-0.9-2.4l-2-6.6l-1.2-3l-2.4-5.3l-1.2-1.8l-4.8-5.4l-3.6-3.6l-3.6-3.1l-4.9-3.4l-2.4-1.4l-3.6-1.7l-3.6-1.4l-4.8-1.5l-26.5-5.9l-14.4-3z"/>
<path fill="#00b7ff" d="M307.7 460.7h192.5v-134.6l-6 0.8l-7.2 1.4l-16.9 4l-4.8 1.4l-4.8 1.7l-4.6 1.9l-3.8 1.9l-2.4 1.6l-2.4 2.2l-4.9 5.5l-10.8 15.1l-6 7.4l-2.3 5.8l-1.3 1.7l-2.5 1.9l-2.3 1.2l-1.2 0.4l-6 1.4l-3.6 0.4l-2.4 0.1l-2.5-0.2l-3.6-0.9l-4.8-2.2l-2.4-1.6l-1.7-2.2l-1.4-2.4l-1.1-2.4l-0.6-2.2l-1.2-3.1l-1.2-2.6l-2.4-4.6l-1.2-1.6l-6-6.6l-4.6-4.4l-4.4-3.6l-4.3-2.9l-2.4-1.3l-3.6-1.5l-7.2-2.3l-39.7-8.7z"/>
<path fill="#00c7ff" d="M307.7 460.7h192.5v-131.6l-6 0.8l-7.2 1.3l-15.7 3.8l-6 1.8l-4.8 1.8l-4.8 2.1l-3.6 1.9l-3.6 2.8l-3.6 3.9l-3.7 4.7l-8.6 12l-3 3.6l-4 4l-2.1 4.4l-1.1 1.2l-2.8 2.1l-3.6 1.5l-6 1.4l-3.6 0.4l-2.4 0.1l-2.5-0.2l-3.6-0.9l-3.6-1.7l-2.4-1.4l-1.2-0.9l-1.4-1.6l-1.7-2.4l-2.9-6.6l-1.2-2.2l-2.4-3.9l-1.2-1.5l-7.2-7.5l-4.8-4.7l-4.3-3.5l-4.2-2.9l-2.4-1.2l-2.4-1l-7.2-2.2l-39.7-9z"/>
<path fill="#00d7ff" d="M307.7 460.7h192.5v-128.7l-6 0.8l-6 1.1l-7.2 1.6l-8.5 2.2l-6 1.8l-4.8 1.8l-4.4 2l-4 2l-3.6 2.5l-3.6 3.6l-3.7 4.6l-7.1 10l-2.5 3.3l-3.6 3.8l-3.6 3l-2 3.1l-1.2 1.2l-1.9 1.2l-2.1 1.1l-3.6 1.2l-6 1.3l-4.8 0.3l-2.5-0.2l-3.6-1l-3.6-1.7l-2.4-1.5l-1.2-0.9l-3-3.4l-3-5.6l-3.6-5.1l-14.4-14.5l-4.9-4l-3.6-2.3l-4.8-2.1l-6-1.8l-14.4-3.1l-25.3-6z"/>
<path fill="#00e7ff" d="M307.7 460.7h192.5v-125.7l-6 0.8l-6 1.1l-7.2 1.6l-7.3 1.9l-4.8 1.5l-4.8 1.7l-4.8 2l-3.6 1.8l-4.8 2.8l-2.4 2.1l-4.6 5.4l-7.5 10.3l-3.6 4.5l-3.1 3.1l-4.1 2.8l-2.4 2.6l-3.6 2l-4.8 1.7l-6 1.3l-4.8 0.3l-2.5-0.2l-3.6-1.1l-3.6-1.8l-3.6-2.4l-2.8-2.8l-3.2-4.6l-3.6-4.2l-4.8-4.4l-8.4-8.5l-3.6-3.4l-3.7-3l-2.9-1.8l-4.3-1.8l-6-1.8l-14.4-3.2l-25.3-6.1z"/>
<path fill="#00f7ff" d="M307.7 460.7h192.5v-122.6l-4.8 0.5l-6.1 1.1l-5.9 1.3l-8.5 2.2l-4.8 1.4l-4.8 1.7l-4.2 1.8l-4.2 2l-4.8 2.7l-1.2 0.8l-2.4 2.1l-3.6 4.2l-10.1 13.3l-3.2 3.5l-2.4 2l-3.6 1.9l-2.4 1.7l-2.4 1.2l-3.6 1.4l-3.6 1l-3.6 0.8l-2.4 0.3l-3.6 0.2l-2.5-0.2l-3.6-1.2l-4.8-2.6l-2.4-1.7l-2.6-2.3l-3.4-3.6l-2.4-2.3l-7-6.1l-11.1-11l-3.6-3.1l-3.6-2.2l-4.8-1.9l-4.8-1.4l-14.4-3.2l-25.3-6.3z"/>
<path fill="#08fff7" d="M307.7 460.7h192.5v-119.5l-4.8 0.6l-6 1l-12.1 2.9l-9.6 3l-8.4 3.6l-7.2 3.9l-1.2 0.8l-2.4 2.1l-3.6 4.1l-9.7 12.5l-3.4 3.5l-2.6 1.9l-6.7 2.9l-6.5 2.3l-6 1.3l-3.6 0.5l-2.4 0.1l-2.5-0.3l-3.6-1.1l-3.6-1.9l-3.6-2.4l-13.2-10.1l-3.6-3.3l-10.9-10.7l-3.6-2.8l-2.4-1.5l-3.6-1.4l-6-1.9l-14.4-3.3l-25.3-6.3z"/>
<path fill="#18ffe7" d="M307.7 460.7h192.5v-116.3l-9.6 1.5l-12.1 2.9l-9.6 3l-8.4 3.4l-7.2 3.8l-3.6 2.5l-2.4 2.3l-2.4 2.7l-9.5 11.5l-2.6 2.6l-2.9 2.2l-1.9 1l-2.4 0.8l-12 3.4l-4.8 0.9l-4.8 0.3l-3.7-0.5l-3.6-1.4l-2.4-1.3l-15.6-9.8l-4.8-3.9l-10.9-10.5l-3.6-2.8l-2.4-1.5l-4.8-1.9l-6-1.8l-38.5-9.5z"/>
<path fill="#28ffd7" d="M307.7 460.7h192.5v-113l-9.2 1.6l-10 2.5l-10.9 3.3l-8.4 3.3l-7.2 3.6l-2.4 1.3l-2.4 1.7l-3.6 3.4l-10.8 12l-2.5 2.2l-2.4 1.8l-1.7 0.8l-3.1 1.1l-2.4 0.4l-9.6 2.5l-4.8 0.8l-4.8 0.3l-3.7-0.4l-3.6-1.4l-7.2-4.1l-4.8-2.1l-6-3.4l-4.8-3.6l-12.1-10.9l-3.6-2.6l-2.4-1.2l-6-2.3l-6-1.7l-22.9-5.9l-13.2-3.1z"/>
<path fill="#38ffc7" d="M307.7 460.7h192.5v-109.7l-10.8 2.2l-14.5 4.1l-9.6 3.4l-9.6 4.4l-4.8 2.6l-2.4 1.8l-3.6 3.4l-6.2 6.3l-3.5 3.3l-3.4 2.7l-2.6 1.4l-3.6 1.2l-3.6 0.6l-9.6 2.2l-4.8 0.7l-3.6 0.1l-3.7-0.4l-3.1-1l-2.9-1.3l-3.6-2.1l-2.4-1l-3.6-1.2l-6-2.9l-5-3.5l-11.9-10l-3.6-2.5l-2.4-1.2l-7.2-2.8l-8.8-2.6l-17.7-4.7l-14.4-3.2z"/>
<path fill="#48ffb7" d="M307.7 460.7h192.5v-106.3l-12 2.8l-13.3 3.9l-9.6 3.5l-9.6 4.2l-4.8 2.5l-2.4 1.6l-3.6 3l-9.1 8.1l-3.3 2.4l-3.3 1.7l-3.6 1.1l-3.6 0.6l-9.6 2l-4.8 0.6l-3.6 0.2l-2.5-0.2l-3.6-0.8l-2.4-0.9l-4.8-2.3l-6-1.9l-6-2.6l-2.4-1.3l-3.2-2.2l-10.1-7.9l-3.6-2.5l-2.4-1.4l-4.8-2.1l-8.4-3l-10.8-3.2l-13.3-3.4l-12-2.5z"/>
<path fill="#58ffa7" d="M307.7 460.7h192.5v-102.9l-10.8 2.7l-12.1 3.6l-10.8 3.8l-9.6 3.9l-4.8 2.2l-2.4 1.4l-3.6 2.5l-10.9 8.5l-3.6 2.2l-2.4 1l-3.6 1l-12 2.3l-4.8 0.6l-4.8 0.2l-3.7-0.3l-3.6-0.8l-6-2.3l-6-1.7l-6-2.3l-2.4-1.2l-3.6-2.2l-9.7-6.9l-4.8-3.1l-4.8-2.3l-7.2-2.8l-8.4-2.9l-9.6-2.7l-10.9-2.6l-9.6-1.8z"/>
<path fill="#68ff97" d="M307.7 460.7h192.5v-99.6l-10.8 2.9l-12.1 3.7l-10.8 3.8l-9.6 3.7l-7.2 3.4l-3.6 2.2l-10.9 7.4l-3.2 1.8l-2.8 1.1l-3.6 0.9l-12 2.2l-4.8 0.5l-4.8 0.2l-3.7-0.2l-3.6-0.7l-12-3.4l-6-2l-2.4-1.1l-3.6-1.9l-10.9-7.1l-4.8-2.7l-8.4-3.7l-8.4-3.2l-7.2-2.3l-9.7-2.5l-8.4-1.8l-7.2-1.2z"/>
<path fill="#78ff87" d="M307.7 460.7h192.5v-96.3l-12 3.3l-10.9 3.4l-10.8 3.7l-9.6 3.6l-7.2 3.1l-13.3 8l-3.4 1.7l-2.6 1.1l-4.8 1.2l-10.8 1.9l-6 0.6l-4.8 0.2l-4.9-0.3l-4.8-0.8l-9.6-2.5l-7.2-2.2l-5.8-2.8l-9.9-5.9l-4.8-2.5l-12-5.2l-8.4-3.2l-6-1.8l-9.7-2.3l-7.2-1.5l-6-0.8z"/>
<path fill="#87ff78" d="M307.7 460.7h192.5v-93.2l-9.6 2.7l-12.1 3.6l-10.8 3.6l-9.6 3.5l-8.4 3.4l-12.8 6.9l-4.1 1.9l-2.4 0.8l-6 1.3l-8.4 1.4l-6 0.7l-6 0.3l-4.9-0.3l-6-0.8l-6-1.3l-8.4-2.1l-3.6-1.3l-3.6-1.7l-14.5-7.8l-12-5.2l-7.2-2.8l-6-1.9l-9.7-2.4l-7.2-1.5l-7.2-1z"/>
<path fill="#97ff68" d="M307.7 460.7h192.5v-90.2l-20.5 5.8l-10.8 3.5l-9.6 3.3l-9.6 3.7l-13.3 6.6l-3.4 1.4l-2.6 0.9l-6 1.2l-8.4 1.2l-6 0.7l-6 0.2l-6.1-0.3l-6-0.8l-7.2-1.4l-7.2-1.7l-6.2-2.4l-14.3-7.2l-13.2-5.7l-7.2-2.7l-6-1.8l-9.7-2.4l-7.2-1.3l-6-0.8z"/>
<path fill="#a7ff58" d="M307.7 460.7h192.5v-87.4l-19.2 5.3l-19.3 6.1l-10.8 3.9l-13.4 6.2l-3.5 1.4l-3 1l-5.4 1.1l-9.6 1.4l-6 0.6l-6 0.2l-6.1-0.3l-6-0.6l-7.2-1.2l-7.2-1.5l-5.8-2.1l-14.7-6.8l-14.4-6.1l-6-2.3l-6-1.8l-9.7-2.3l-7.2-1.4l-6-0.8z"/>
<path fill="#b7ff48" d="M307.7 460.7h192.5v-84.6l-19.2 5l-9.7 2.8l-9.6 3l-10.8 3.8l-13.3 5.9l-6 2.1l-3.6 0.9l-10.8 1.5l-7.2 0.7l-6 0.2l-6.1-0.2l-6-0.5l-7.2-1.1l-7.2-1.4l-3.6-1.1l-3.6-1.3l-10.9-4.8l-16.8-6.9l-7.2-2.7l-6-1.7l-8.5-2l-7.2-1.4l-6-0.8z"/>
<path fill="#c7ff38" d="M307.7 460.7h192.5v-81.8l-18 4.3l-9.7 2.6l-8.4 2.6l-13.2 4.4l-13.3 5.6l-6 2.1l-3.6 0.8l-10.8 1.5l-7.2 0.7l-6 0.2l-6.1-0.2l-7.2-0.7l-9.6-1.4l-4.8-1l-7.2-2.4l-28.9-11.6l-6-2.1l-7.2-1.9l-7.3-1.6l-6-1.1l-6-0.8z"/>
<path fill="#d7ff28" d="M307.7 460.7h192.5v-79.1l-16.8 3.7l-16.9 4.5l-15.6 5l-14.5 5.9l-6 1.8l-6 1l-8.4 1.1l-6 0.5l-6 0.2l-6.1-0.1l-6-0.5l-9.6-1.3l-6-1.1l-3.6-0.9l-5.3-1.8l-15.2-5.6l-13.2-5.3l-4.8-1.7l-7.2-1.9l-7.3-1.6l-6-1l-6-0.9z"/>
<path fill="#e7ff18" d="M307.7 460.7h192.5v-76.3l-16.8 3.4l-9.2 2.2l-7.7 2.1l-15.6 4.8l-14.5 5.6l-6 1.8l-6 1l-8.4 1.1l-6 0.5l-6 0.2l-6.1-0.2l-7.2-0.6l-10.8-1.4l-4.8-0.9l-7-2l-14.1-4.8l-13.8-5.4l-6-2.1l-7.2-1.8l-7.3-1.6l-6-1.1l-6-0.8z"/>
<path fill="#f7ff08" d="M307.7 460.7h192.5v-73.5l-15.6 2.9l-9.7 2.1l-7.2 1.9l-16.8 4.9l-14.5 5.4l-6 1.7l-7.2 1.2l-7.2 0.9l-6 0.5l-6 0.2l-6.1-0.2l-7.2-0.6l-10.8-1.3l-4.8-0.8l-7.2-1.9l-13.3-4.2l-15.6-5.9l-6-1.9l-13.3-3l-6-1.1l-6-0.8z"/>
<path fill="#fff700" d="M307.7 460.7h192.5v-70.7l-15.6 2.8l-15.7 3.5l-18 5l-14.5 5.1l-6 1.6l-14.4 2l-6 0.5l-6 0.2l-7.3-0.2l-7.2-0.6l-10.8-1.2l-4.8-0.9l-7.2-1.8l-12.1-3.5l-15.6-5.7l-6-1.9l-13.3-3l-6-1.1l-6-0.8z"/>
<path fill="#ffe700" d="M307.7 460.7h192.5v-67.7l-15.6 2.6l-15.7 3.3l-18 4.8l-14.5 4.7l-6 1.6l-7.2 1.1l-8.4 0.9l-6 0.5l-4.8 0.1l-7.3-0.2l-8.4-0.6l-9.6-1l-6-1.1l-7.2-1.7l-12.1-3.4l-14.4-5.2l-6-1.8l-13.3-2.9l-12-1.8z"/>
<path fill="#ffd700" d="M307.7 460.7h192.5v-64.7l-15.6 2.5l-15.7 3.2l-18 4.5l-14.5 4.4l-6 1.4l-15.6 2l-6 0.4l-4.8 0.1l-7.3-0.1l-8.4-0.6l-9.6-0.9l-6-1l-7.3-1.6l-12-3.3l-14.4-4.9l-6-1.8l-13.3-2.7l-12-1.7z"/>
<path fill="#ffc700" d="M307.7 460.7h192.5v-61.6l-14.4 2.2l-15.7 3l-19.2 4.5l-14.5 4l-6 1.3l-15.6 1.9l-6 0.4l-4.8 0.2l-7.3-0.2l-8.4-0.5l-9.6-0.9l-6-0.9l-7.3-1.6l-12-3l-14.4-4.7l-6-1.7l-13.3-2.6l-12-1.7z"/>
<path fill="#ffb700" d="M307.7 460.7h192.5v-58.4l-14.4 2.1l-15.7 2.8l-19.2 4.2l-14.5 3.6l-6 1.2l-15.6 1.9l-6 0.4l-4.8 0.1l-8.5-0.2l-8.4-0.5l-8.4-0.7l-6-0.9l-7.3-1.5l-12-3l-14.4-4.4l-6-1.6l-13.3-2.5l-12-1.5z"/>
<path fill="#ffa700" d="M307.7 460.7h192.5v-55.3l-15.6 2.3l-14.5 2.4l-19.2 3.9l-14.5 3.3l-6 1.1l-15.6 1.8l-6 0.4l-4.8 0.1l-7.3-0.1l-8.4-0.4l-9.6-0.8l-4.8-0.6l-7.2-1.5l-12.1-2.8l-15.6-4.4l-6-1.5l-13.3-2.4l-12-1.5z"/>
<path fill="#ff9700" d="M307.7 460.7h192.5v-52.2l-14.4 2l-14.5 2.4l-20.4 3.7l-14.5 3l-6 1l-16.8 1.9l-6 0.3l-4.9 0.1l-15.6-0.6l-8.4-0.7l-4.8-0.6l-6-1.1l-13.3-3l-15.6-4.2l-6-1.4l-13.3-2.2l-12-1.4z"/>
<path fill="#ff8700" d="M307.7 460.7h192.5v-49.2l-28.9 4.3l-39.7 6.9l-18 1.9l-6 0.4l-4.9 0.1l-15.6-0.7l-8.4-0.6l-4.8-0.6l-6-1.1l-13.3-2.8l-15.6-3.9l-6-1.3l-13.3-2.1l-12-1.3z"/>
<path fill="#ff7800" d="M307.7 460.7h192.5v-46.2l-27.7 3.9l-40.9 6.5l-18 1.9l-6 0.4h-4.9l-14.4-0.5l-9.6-0.7l-4.8-0.6l-6-1l-14.5-2.9l-14.4-3.4l-6-1.2l-13.3-1.9l-12-1.3z"/>
<path fill="#ff6800" d="M307.7 460.7h192.5v-43.3l-26.5 3.6l-42.1 6.2l-18 1.9l-9.6 0.4l-13.3-0.5l-15.6-1.2l-7.2-1.1l-13.3-2.5l-21.6-4.4l-13.3-1.8l-12-1.3z"/>
<path fill="#ff5800" d="M307.7 460.7h192.5v-40.5l-67.4 9.3l-18 1.8l-10.8 0.5l-12.1-0.4l-16.8-1.3l-7.2-1.1l-13.3-2.3l-21.6-4l-13.3-1.7l-12-1.2z"/>
<path fill="#ff4800" d="M307.7 460.7h192.5v-37.7l-67.4 8.9l-19.2 1.9l-9.6 0.4l-10.9-0.4l-18-1.5l-20.5-3l-21.6-3.6l-13.3-1.6l-12-1.2z"/>
<path fill="#ff3800" d="M307.7 460.7h192.5v-34.9l-67.4 8.5l-19.2 1.9l-9.6 0.4l-9.7-0.4l-19.2-1.7l-20.5-2.7l-21.6-3.2l-25.3-2.6z"/>
<path fill="#ff2800" d="M307.7 460.7h192.5v-32.1l-67.4 8.1l-19.2 1.8l-9.6 0.5l-8.5-0.4l-20.7-1.9l-41.8-5.1l-25.3-2.5z"/>
<path fill="#ff1800" d="M307.7 460.7h192.5v-29.4l-24.5 3l-42.9 4.8l-19.2 1.8l-9.6 0.4l-6.1-0.2l-6-0.5l-22.8-2.2l-36.1-3.9l-25.3-2.3z"/>
<path fill="#ff0800" d="M307.7 460.7h192.5v-26.5l-24.1 2.8l-43.3 4.5l-19.2 1.6l-9.6 0.4l-9.7-0.5l-58.9-5.4l-27.7-2.4z"/>
<path fill="#f70000" d="M307.7 460.7h192.5v-23.7l-24.1 2.7l-42.1 4l-19.2 1.5l-9.6 0.5l-9.7-0.4l-15.6-1.5l-72.2-5.7z"/>
<path fill="#e70000" d="M307.7 460.7h192.5v-20.8l-24.1 2.4l-40.9 3.5l-20.4 1.5l-9.6 0.4l-8.5-0.3l-18-1.5l-71-4.8z"/>
<path fill="#d70000" d="M307.7 460.7h192.5v-17.9l-25.3 2.3l-39.7 2.9l-20.4 1.3l-9.6 0.4l-8.5-0.2l-20.4-1.6l-68.6-3.9z"/>
<path fill="#c70000" d="M307.7 460.7h192.5v-14.9l-24.1 1.8l-39.7 2.5l-21.6 1.2l-9.6 0.3l-7.3-0.1l-22.8-1.5l-42.1-1.9l-25.3-1.3z"/>
<path fill="#b70000" d="M307.7 460.7h192.5v-12l-31.3 2l-51.7 2.5l-12 0.3l-8.5-0.2l-22.8-1.2l-39.7-1.4l-26.5-1.1z"/>
<path fill="#a70000" d="M307.7 460.7h192.5v-9l-31.3 1.5l-51.7 1.9l-12 0.3l-8.5-0.2l-22.8-1l-66.2-1.8z"/>
<path fill="#970000" d="M307.7 460.7h192.5v-6l-31.3 1l-63.7 1.5l-31.3-0.8l-66.2-1.2z"/>
<path fill="#870000" d="M307.7 460.7h192.5v-3l-95 1.2l-97.5-0.9z"/>
<path fill="none" stroke="#000" stroke-opacity=".6" stroke-width=".75" d="M401.5 374.9l-3.6-1.9l-3-3.4l-1.1-2.4l-0.6-2.4l-0.1-2.3l0.4-2.4l0.9-2.4l1.1-1.9l1.7-1.7l1.9-1.4l2.4-1.1l2.5-0.5h2.4l2.4 0.5l2.4 1l2.1 1.5l1.5 1.5l1.3 2.1l0.9 2.4l0.4 2.4l-0.1 2.3l-0.5 2.4l-2 3.6l-1.2 1.3l-2.4 1.8l-2.4 1l-2.4 0.5h-2.4l-2.5-0.5M500.2 292.3l-20.5 2.2l-18 2.7l-15.6 3.2l-33.7 8.2l-4.8 0.8l-3.6 0.2l-9.7-0.8l-45.7-7.5l-20.4-3.7l-20.5-4.2M500.2 317.1l-14.4 2.4l-20.5 4.7l-8.4 2.5l-4.8 2.1l-2.4 1.3l-4.8 3.9l-4.9 5.3l-5.7 7.6l-6.3 9.3l-2.4 4.5l-2.4 10.7l-2.4 3.7l-1.9 1.7l-1.9 1.2l-4.4 1.2l-7.4 1.1l-3.7-0.2l-4.8-0.9l-3.6-1.4l-2.4-1.7l-1.2-1.7l-1.2-2.5l-1.2-3.5l-2.4-10.4l-3.6-9.9l-1.5-2.4l-4.5-5.1l-3.7-3.3l-4.7-3.4l-3.7-2l-4.8-2.2l-9.5-3.2l-25.4-5.6l-15.6-3M500.2 341.2l-10.8 1.6l-12.1 2.9l-9.6 3l-8.4 3.6l-7.2 3.9l-3.6 2.9l-3.6 4.1l-9.7 12.5l-3.4 3.5l-2.6 1.9l-6.7 2.9l-6.5 2.3l-6 1.3l-6 0.6l-2.5-0.3l-3.6-1.1l-3.6-1.9l-3.6-2.4l-13.2-10.1l-14.5-14l-3.6-2.8l-2.4-1.5l-3.6-1.4l-6-1.9l-39.7-9.6M500.2 367.5l-21.7 6.3l-20.4 7.1l-8.4 3.4l-12.8 6.9l-6.5 2.7l-14.4 2.7l-6 0.7l-6 0.3l-4.9-0.3l-6-0.8l-14.4-3.4l-7.2-3l-14.5-7.8l-19.2-8l-6-1.9l-9.7-2.4l-7.2-1.5l-7.2-1M500.2 390l-15.6 2.8l-15.7 3.5l-18 5l-14.5 5.1l-6 1.6l-14.4 2l-12 0.7l-14.5-0.8l-10.8-1.2l-4.8-0.9l-19.3-5.3l-15.6-5.7l-6-1.9l-13.3-3l-12-1.9M500.2 414.5l-27.7 3.9l-40.9 6.5l-18 1.9l-10.9 0.4l-14.4-0.5l-14.4-1.3l-20.5-3.9l-20.4-4.6l-13.3-1.9l-12-1.3M500.2 437l-24.1 2.7l-42.1 4l-19.2 1.5l-9.6 0.5l-9.7-0.4l-15.6-1.5l-72.2-5.7"/>
<path fill="none" stroke="#000" stroke-width="1.75" stroke-linecap="round" d="M318.1 272.8L309.6 302.8M308.6 285.9L319.0 356.4M326.6 271.8L323.7 351.7M331.3 280.3L322.8 306.6M330.3 269.0L374.7 351.7M348.3 269.0L352.1 321.6M349.2 300.9L319.0 343.2M307.7 332.0L349.2 364.9M348.3 329.1L335.1 364.9M362.4 294.4L362.4 344.2M365.3 279.3L383.2 325.4M383.2 273.7L386.0 321.6M401.1 270.9L390.7 297.2M380.4 297.2L366.2 332.9M399.2 304.7L383.2 347.9M359.6 317.9L350.2 364.9M362.4 325.4L371.9 364.9M384.1 333.8L380.4 364.9M364.3 344.2L354.9 364.9M387.9 355.5L385.1 364.9M403.9 274.6L398.3 287.8M371.9 321.6L367.1 347.9M420.0 269.0L427.5 308.5M403.9 284.0L444.5 341.4M416.2 285.9L403.9 319.7M444.5 269.0L443.6 313.2M457.7 272.8L446.4 332.9M447.4 270.9L470.9 316.0M467.2 269.0L478.5 311.3M491.7 271.8L472.8 294.4M498.3 278.4L479.4 299.1M442.6 300.0L438.9 352.6M431.3 316.9L426.6 347.9M463.4 318.8L450.2 343.2M485.1 297.2L492.7 332.0M479.4 316.9L481.3 344.2M484.2 317.9L496.4 347.9M500.2 331.0L492.7 364.9M486.0 333.8L491.7 364.9M463.4 344.2L464.3 364.9M464.3 348.9L479.4 364.9M432.3 349.8L438.9 364.9M444.5 329.1L441.7 353.6M443.6 342.3L454.9 364.9M418.1 352.6L420.0 364.9M447.4 351.7L441.7 364.9M308.6 368.6L320.0 392.1M308.6 391.2L325.6 431.6M351.1 405.3L323.7 435.3M350.2 364.9L368.1 441.9M364.3 368.6L353.9 458.8M353.0 364.9L346.4 381.8M332.2 364.9L334.1 368.6M358.7 364.9L355.8 372.4M373.8 364.9L368.1 387.4M365.3 372.4L390.7 410.0M391.7 371.4L370.9 411.8M374.7 382.7L374.7 421.2M390.7 409.0L392.6 455.1M393.6 414.7L403.9 430.6M383.2 364.9L378.5 379.9M420.9 364.9L424.7 387.4M440.8 364.9L430.4 401.5M438.9 364.9L461.5 429.7M451.1 364.9L449.2 393.0M446.4 402.4L454.0 457.9M449.2 413.7L448.3 458.8M464.3 364.9L465.3 408.1M470.0 364.9L487.0 396.8M478.5 364.9L496.4 381.8M493.6 374.2L486.0 411.8M497.4 387.4L491.7 402.4M481.3 419.4L487.9 455.1M498.3 414.7L476.6 455.1M417.2 420.3L405.8 456.9M403.9 425.0L418.1 453.2"/>
<circle cx="405.3" cy="363.9" r="7.8" fill="#fff" stroke="#e8101c" stroke-width="1.7"/>
</g>
<path d="M307.7 269V460.7H500.2" fill="none" stroke="#222" stroke-width="1"/>
<path d="M307.7 269H500.2V460.7" fill="none" stroke="#555" stroke-width=".6"/>
<path d="M331.8 460.7v-2M331.8 269.0v2M307.7 436.7h2M500.2 436.7h-2M355.8 460.7v-2M355.8 269.0v2M307.7 412.8h2M500.2 412.8h-2M379.9 460.7v-2M379.9 269.0v2M307.7 388.8h2M500.2 388.8h-2M403.9 460.7v-2M403.9 269.0v2M307.7 364.9h2M500.2 364.9h-2M428.0 460.7v-2M428.0 269.0v2M307.7 340.9h2M500.2 340.9h-2M452.1 460.7v-2M452.1 269.0v2M307.7 316.9h2M500.2 316.9h-2M476.1 460.7v-2M476.1 269.0v2M307.7 293.0h2M500.2 293.0h-2" stroke="#222" stroke-width=".6" fill="none"/>
<g font-size="7.5" fill="#3a3a3a">
<text x="307.7" y="470.7" text-anchor="middle">0</text>
<text x="305.9" y="463.4" text-anchor="end">0</text>
<text x="331.8" y="470.7" text-anchor="middle">10</text>
<text x="305.9" y="439.4" text-anchor="end">10</text>
<text x="355.8" y="470.7" text-anchor="middle">20</text>
<text x="305.9" y="415.5" text-anchor="end">20</text>
<text x="379.9" y="470.7" text-anchor="middle">30</text>
<text x="305.9" y="391.5" text-anchor="end">30</text>
<text x="403.9" y="470.7" text-anchor="middle">40</text>
<text x="305.9" y="367.6" text-anchor="end">40</text>
<text x="428.0" y="470.7" text-anchor="middle">50</text>
<text x="305.9" y="343.6" text-anchor="end">50</text>
<text x="452.1" y="470.7" text-anchor="middle">60</text>
<text x="305.9" y="319.6" text-anchor="end">60</text>
<text x="476.1" y="470.7" text-anchor="middle">70</text>
<text x="305.9" y="295.7" text-anchor="end">70</text>
<text x="500.2" y="470.7" text-anchor="middle">80</text>
<text x="305.9" y="271.7" text-anchor="end">80</text>
<text x="403.9" y="480.2" text-anchor="middle" font-size="7.7">x [m]</text>
<text transform="translate(291.7 364.9) rotate(-90)" text-anchor="middle" font-size="7.7">y [m]</text>
<rect x="512.8" y="459.76" width="15.9" height="3.34" fill="#000087"/>
<rect x="512.8" y="456.72" width="15.9" height="3.34" fill="#000097"/>
<rect x="512.8" y="453.68" width="15.9" height="3.34" fill="#0000a7"/>
<rect x="512.8" y="450.64" width="15.9" height="3.34" fill="#0000b7"/>
<rect x="512.8" y="447.60" width="15.9" height="3.34" fill="#0000c7"/>
<rect x="512.8" y="444.57" width="15.9" height="3.34" fill="#0000d7"/>
<rect x="512.8" y="441.53" width="15.9" height="3.34" fill="#0000e7"/>
<rect x="512.8" y="438.49" width="15.9" height="3.34" fill="#0000f7"/>
<rect x="512.8" y="435.45" width="15.9" height="3.34" fill="#0008ff"/>
<rect x="512.8" y="432.41" width="15.9" height="3.34" fill="#0018ff"/>
<rect x="512.8" y="429.37" width="15.9" height="3.34" fill="#0028ff"/>
<rect x="512.8" y="426.33" width="15.9" height="3.34" fill="#0038ff"/>
<rect x="512.8" y="423.29" width="15.9" height="3.34" fill="#0048ff"/>
<rect x="512.8" y="420.25" width="15.9" height="3.34" fill="#0058ff"/>
<rect x="512.8" y="417.21" width="15.9" height="3.34" fill="#0068ff"/>
<rect x="512.8" y="414.18" width="15.9" height="3.34" fill="#0078ff"/>
<rect x="512.8" y="411.14" width="15.9" height="3.34" fill="#0087ff"/>
<rect x="512.8" y="408.10" width="15.9" height="3.34" fill="#0097ff"/>
<rect x="512.8" y="405.06" width="15.9" height="3.34" fill="#00a7ff"/>
<rect x="512.8" y="402.02" width="15.9" height="3.34" fill="#00b7ff"/>
<rect x="512.8" y="398.98" width="15.9" height="3.34" fill="#00c7ff"/>
<rect x="512.8" y="395.94" width="15.9" height="3.34" fill="#00d7ff"/>
<rect x="512.8" y="392.90" width="15.9" height="3.34" fill="#00e7ff"/>
<rect x="512.8" y="389.86" width="15.9" height="3.34" fill="#00f7ff"/>
<rect x="512.8" y="386.82" width="15.9" height="3.34" fill="#08fff7"/>
<rect x="512.8" y="383.78" width="15.9" height="3.34" fill="#18ffe7"/>
<rect x="512.8" y="380.75" width="15.9" height="3.34" fill="#28ffd7"/>
<rect x="512.8" y="377.71" width="15.9" height="3.34" fill="#38ffc7"/>
<rect x="512.8" y="374.67" width="15.9" height="3.34" fill="#48ffb7"/>
<rect x="512.8" y="371.63" width="15.9" height="3.34" fill="#58ffa7"/>
<rect x="512.8" y="368.59" width="15.9" height="3.34" fill="#68ff97"/>
<rect x="512.8" y="365.55" width="15.9" height="3.34" fill="#78ff87"/>
<rect x="512.8" y="362.51" width="15.9" height="3.34" fill="#87ff78"/>
<rect x="512.8" y="359.47" width="15.9" height="3.34" fill="#97ff68"/>
<rect x="512.8" y="356.43" width="15.9" height="3.34" fill="#a7ff58"/>
<rect x="512.8" y="353.39" width="15.9" height="3.34" fill="#b7ff48"/>
<rect x="512.8" y="350.35" width="15.9" height="3.34" fill="#c7ff38"/>
<rect x="512.8" y="347.32" width="15.9" height="3.34" fill="#d7ff28"/>
<rect x="512.8" y="344.28" width="15.9" height="3.34" fill="#e7ff18"/>
<rect x="512.8" y="341.24" width="15.9" height="3.34" fill="#f7ff08"/>
<rect x="512.8" y="338.20" width="15.9" height="3.34" fill="#fff700"/>
<rect x="512.8" y="335.16" width="15.9" height="3.34" fill="#ffe700"/>
<rect x="512.8" y="332.12" width="15.9" height="3.34" fill="#ffd700"/>
<rect x="512.8" y="329.08" width="15.9" height="3.34" fill="#ffc700"/>
<rect x="512.8" y="326.04" width="15.9" height="3.34" fill="#ffb700"/>
<rect x="512.8" y="323.00" width="15.9" height="3.34" fill="#ffa700"/>
<rect x="512.8" y="319.96" width="15.9" height="3.34" fill="#ff9700"/>
<rect x="512.8" y="316.93" width="15.9" height="3.34" fill="#ff8700"/>
<rect x="512.8" y="313.89" width="15.9" height="3.34" fill="#ff7800"/>
<rect x="512.8" y="310.85" width="15.9" height="3.34" fill="#ff6800"/>
<rect x="512.8" y="307.81" width="15.9" height="3.34" fill="#ff5800"/>
<rect x="512.8" y="304.77" width="15.9" height="3.34" fill="#ff4800"/>
<rect x="512.8" y="301.73" width="15.9" height="3.34" fill="#ff3800"/>
<rect x="512.8" y="298.69" width="15.9" height="3.34" fill="#ff2800"/>
<rect x="512.8" y="295.65" width="15.9" height="3.34" fill="#ff1800"/>
<rect x="512.8" y="292.61" width="15.9" height="3.34" fill="#ff0800"/>
<rect x="512.8" y="289.57" width="15.9" height="3.34" fill="#f70000"/>
<rect x="512.8" y="286.53" width="15.9" height="3.34" fill="#e70000"/>
<rect x="512.8" y="283.50" width="15.9" height="3.34" fill="#d70000"/>
<rect x="512.8" y="280.46" width="15.9" height="3.34" fill="#c70000"/>
<rect x="512.8" y="277.42" width="15.9" height="3.34" fill="#b70000"/>
<rect x="512.8" y="274.38" width="15.9" height="3.34" fill="#a70000"/>
<rect x="512.8" y="271.34" width="15.9" height="3.34" fill="#970000"/>
<rect x="512.8" y="268.30" width="15.9" height="3.34" fill="#870000"/>
<rect x="512.8" y="268.3" width="15.9" height="194.5" fill="none" stroke="#444" stroke-width=".6"/>
<path d="M512.8 438.5h1.8M528.7 438.5h-1.8M512.8 414.2h1.8M528.7 414.2h-1.8M512.8 389.9h1.8M528.7 389.9h-1.8M512.8 365.6h1.8M528.7 365.6h-1.8M512.8 341.2h1.8M528.7 341.2h-1.8M512.8 316.9h1.8M528.7 316.9h-1.8M512.8 292.6h1.8M528.7 292.6h-1.8" stroke="#222" stroke-width=".6" fill="none"/>
<text x="530.2" y="465.5">0</text>
<text x="530.2" y="441.2">1</text>
<text x="530.2" y="416.9">2</text>
<text x="530.2" y="392.6">3</text>
<text x="530.2" y="368.2">4</text>
<text x="530.2" y="343.9">5</text>
<text x="530.2" y="319.6">6</text>
<text x="530.2" y="295.3">7</text>
<text x="530.2" y="271.0">8</text>
<text x="529.1" y="265.1" font-size="7.6">x 10<tspan dy="-6.8" dx="0.2" font-size="5.3">5</tspan></text>
<text transform="translate(542.7 365.6) rotate(-90)" text-anchor="middle" font-size="7.7">Pressure [Pa]</text>
</g>
<text x="416.5" y="501.8" text-anchor="middle" font-family="'Liberation Serif','DejaVu Serif',serif" font-size="11.5" letter-spacing=".5" fill="#222">(<tspan font-weight="bold">d</tspan>) κ = 8</text>
</svg>
</body></html>
